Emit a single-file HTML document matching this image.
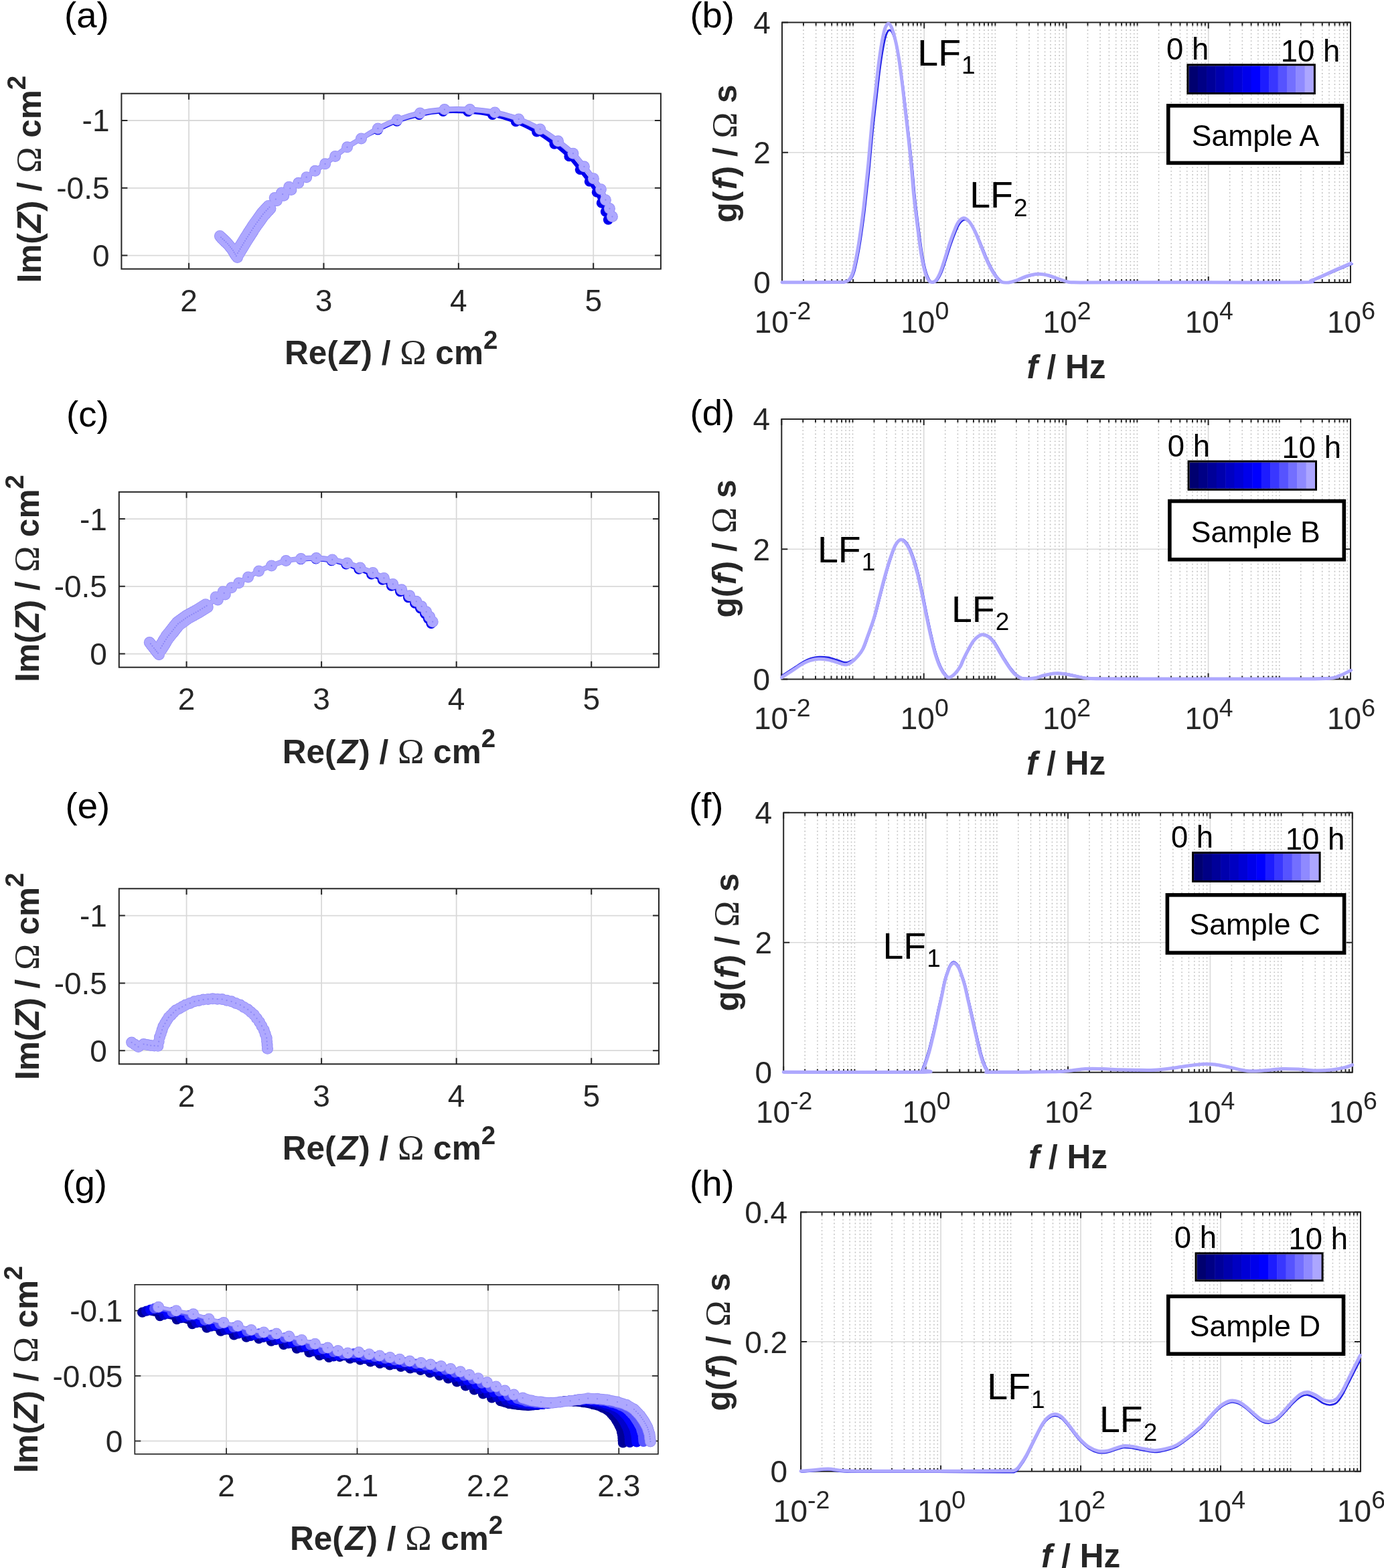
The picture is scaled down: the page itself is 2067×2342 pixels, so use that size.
<!DOCTYPE html><html><head><meta charset="utf-8"><title>Figure</title><style>html,body{margin:0;padding:0;background:#fff;}svg{display:block;}</style></head><body><svg width="2067" height="2342" viewBox="0 0 2067 2342" font-family="'Liberation Sans', Arial, sans-serif">
<defs><linearGradient id="cbgrad" x1="0" x2="1" y1="0" y2="0"><stop offset="0" stop-color="#00007a"/><stop offset="0.58" stop-color="#0000ff"/><stop offset="1" stop-color="#0000ff"/></linearGradient></defs>
<rect width="2067" height="2342" fill="#fff"/>
<defs><clipPath id="clipa"><rect x="177.4" y="135.7" width="813.5" height="270"/></clipPath><clipPath id="clipc"><rect x="173.8" y="730.8" width="814.2" height="269.9"/></clipPath><clipPath id="clipe"><rect x="173.8" y="1323.3" width="814.2" height="270"/></clipPath><clipPath id="clipg"><rect x="197.3" y="1914.8" width="789.6" height="261"/></clipPath><clipPath id="clipb"><rect x="1164" y="29.5" width="857" height="396.5"/></clipPath><clipPath id="clipd"><rect x="1163.3" y="622" width="857.7" height="396.5"/></clipPath><clipPath id="clipf"><rect x="1166.2" y="1209.8" width="857.6" height="395.9"/></clipPath><clipPath id="cliph"><rect x="1192.1" y="1806.4" width="843.9" height="395.3"/></clipPath></defs>
<line x1="282.09" y1="139.7" x2="282.09" y2="401.7" stroke="#d9d9d9" stroke-width="1.8"/>
<line x1="483.46" y1="139.7" x2="483.46" y2="401.7" stroke="#d9d9d9" stroke-width="1.8"/>
<line x1="684.84" y1="139.7" x2="684.84" y2="401.7" stroke="#d9d9d9" stroke-width="1.8"/>
<line x1="886.21" y1="139.7" x2="886.21" y2="401.7" stroke="#d9d9d9" stroke-width="1.8"/>
<line x1="181.4" y1="180.01" x2="986.9" y2="180.01" stroke="#d9d9d9" stroke-width="1.8"/>
<line x1="181.4" y1="280.78" x2="986.9" y2="280.78" stroke="#d9d9d9" stroke-width="1.8"/>
<line x1="181.4" y1="381.55" x2="986.9" y2="381.55" stroke="#d9d9d9" stroke-width="1.8"/>
<line x1="278.58" y1="734.8" x2="278.58" y2="996.7" stroke="#d9d9d9" stroke-width="1.8"/>
<line x1="480.13" y1="734.8" x2="480.13" y2="996.7" stroke="#d9d9d9" stroke-width="1.8"/>
<line x1="681.67" y1="734.8" x2="681.67" y2="996.7" stroke="#d9d9d9" stroke-width="1.8"/>
<line x1="883.23" y1="734.8" x2="883.23" y2="996.7" stroke="#d9d9d9" stroke-width="1.8"/>
<line x1="177.8" y1="775.09" x2="984" y2="775.09" stroke="#d9d9d9" stroke-width="1.8"/>
<line x1="177.8" y1="875.82" x2="984" y2="875.82" stroke="#d9d9d9" stroke-width="1.8"/>
<line x1="177.8" y1="976.55" x2="984" y2="976.55" stroke="#d9d9d9" stroke-width="1.8"/>
<line x1="278.58" y1="1327.3" x2="278.58" y2="1589.3" stroke="#d9d9d9" stroke-width="1.8"/>
<line x1="480.13" y1="1327.3" x2="480.13" y2="1589.3" stroke="#d9d9d9" stroke-width="1.8"/>
<line x1="681.67" y1="1327.3" x2="681.67" y2="1589.3" stroke="#d9d9d9" stroke-width="1.8"/>
<line x1="883.23" y1="1327.3" x2="883.23" y2="1589.3" stroke="#d9d9d9" stroke-width="1.8"/>
<line x1="177.8" y1="1367.61" x2="984" y2="1367.61" stroke="#d9d9d9" stroke-width="1.8"/>
<line x1="177.8" y1="1468.38" x2="984" y2="1468.38" stroke="#d9d9d9" stroke-width="1.8"/>
<line x1="177.8" y1="1569.15" x2="984" y2="1569.15" stroke="#d9d9d9" stroke-width="1.8"/>
<line x1="338.08" y1="1918.8" x2="338.08" y2="2171.8" stroke="#d9d9d9" stroke-width="1.8"/>
<line x1="533.48" y1="1918.8" x2="533.48" y2="2171.8" stroke="#d9d9d9" stroke-width="1.8"/>
<line x1="728.88" y1="1918.8" x2="728.88" y2="2171.8" stroke="#d9d9d9" stroke-width="1.8"/>
<line x1="924.28" y1="1918.8" x2="924.28" y2="2171.8" stroke="#d9d9d9" stroke-width="1.8"/>
<line x1="201.3" y1="1957.72" x2="982.9" y2="1957.72" stroke="#d9d9d9" stroke-width="1.8"/>
<line x1="201.3" y1="2055.03" x2="982.9" y2="2055.03" stroke="#d9d9d9" stroke-width="1.8"/>
<line x1="201.3" y1="2152.34" x2="982.9" y2="2152.34" stroke="#d9d9d9" stroke-width="1.8"/>
<path d="M1199.95 33.5V422M1218.63 33.5V422M1231.89 33.5V422M1242.18 33.5V422M1250.58 33.5V422M1257.69 33.5V422M1263.84 33.5V422M1269.27 33.5V422M1274.12 33.5V422M1306.07 33.5V422M1324.76 33.5V422M1338.02 33.5V422M1348.3 33.5V422M1356.71 33.5V422M1363.81 33.5V422M1369.97 33.5V422M1375.39 33.5V422M1412.2 33.5V422M1430.88 33.5V422M1444.14 33.5V422M1454.43 33.5V422M1462.83 33.5V422M1469.94 33.5V422M1476.09 33.5V422M1481.52 33.5V422M1486.38 33.5V422M1518.32 33.5V422M1537.01 33.5V422M1550.27 33.5V422M1560.55 33.5V422M1568.96 33.5V422M1576.06 33.5V422M1582.22 33.5V422M1587.64 33.5V422M1624.45 33.5V422M1643.13 33.5V422M1656.39 33.5V422M1666.68 33.5V422M1675.08 33.5V422M1682.19 33.5V422M1688.34 33.5V422M1693.77 33.5V422M1698.62 33.5V422M1730.57 33.5V422M1749.26 33.5V422M1762.52 33.5V422M1772.8 33.5V422M1781.21 33.5V422M1788.31 33.5V422M1794.47 33.5V422M1799.89 33.5V422M1836.7 33.5V422M1855.38 33.5V422M1868.64 33.5V422M1878.93 33.5V422M1887.33 33.5V422M1894.44 33.5V422M1900.59 33.5V422M1906.02 33.5V422M1910.88 33.5V422M1942.82 33.5V422M1961.51 33.5V422M1974.77 33.5V422M1985.05 33.5V422M1993.46 33.5V422M2000.56 33.5V422M2006.72 33.5V422M2012.14 33.5V422" stroke="#bdbdbd" stroke-width="1.6" stroke-dasharray="1.6 3.8" fill="none"/>
<path d="M1380.25 33.5V422M1592.5 33.5V422M1804.75 33.5V422M1168 227.75H2017" stroke="#d9d9d9" stroke-width="1.6" fill="none"/>
<path d="M1199.27 626V1014.5M1217.98 626V1014.5M1231.25 626V1014.5M1241.54 626V1014.5M1249.95 626V1014.5M1257.06 626V1014.5M1263.22 626V1014.5M1268.65 626V1014.5M1273.51 626V1014.5M1305.49 626V1014.5M1324.19 626V1014.5M1337.46 626V1014.5M1347.75 626V1014.5M1356.16 626V1014.5M1363.27 626V1014.5M1369.43 626V1014.5M1374.86 626V1014.5M1411.7 626V1014.5M1430.4 626V1014.5M1443.67 626V1014.5M1453.96 626V1014.5M1462.37 626V1014.5M1469.48 626V1014.5M1475.64 626V1014.5M1481.08 626V1014.5M1485.94 626V1014.5M1517.91 626V1014.5M1536.61 626V1014.5M1549.88 626V1014.5M1560.18 626V1014.5M1568.59 626V1014.5M1575.7 626V1014.5M1581.86 626V1014.5M1587.29 626V1014.5M1624.12 626V1014.5M1642.83 626V1014.5M1656.1 626V1014.5M1666.39 626V1014.5M1674.8 626V1014.5M1681.91 626V1014.5M1688.07 626V1014.5M1693.5 626V1014.5M1698.36 626V1014.5M1730.34 626V1014.5M1749.04 626V1014.5M1762.31 626V1014.5M1772.6 626V1014.5M1781.01 626V1014.5M1788.12 626V1014.5M1794.28 626V1014.5M1799.71 626V1014.5M1836.55 626V1014.5M1855.25 626V1014.5M1868.52 626V1014.5M1878.81 626V1014.5M1887.22 626V1014.5M1894.33 626V1014.5M1900.49 626V1014.5M1905.93 626V1014.5M1910.79 626V1014.5M1942.76 626V1014.5M1961.46 626V1014.5M1974.73 626V1014.5M1985.03 626V1014.5M1993.44 626V1014.5M2000.55 626V1014.5M2006.71 626V1014.5M2012.14 626V1014.5" stroke="#bdbdbd" stroke-width="1.6" stroke-dasharray="1.6 3.8" fill="none"/>
<path d="M1379.72 626V1014.5M1592.15 626V1014.5M1804.58 626V1014.5M1167.3 820.25H2017" stroke="#d9d9d9" stroke-width="1.6" fill="none"/>
<path d="M1202.17 1213.8V1601.7M1220.87 1213.8V1601.7M1234.14 1213.8V1601.7M1244.43 1213.8V1601.7M1252.84 1213.8V1601.7M1259.95 1213.8V1601.7M1266.11 1213.8V1601.7M1271.54 1213.8V1601.7M1276.4 1213.8V1601.7M1308.37 1213.8V1601.7M1327.07 1213.8V1601.7M1340.34 1213.8V1601.7M1350.63 1213.8V1601.7M1359.04 1213.8V1601.7M1366.15 1213.8V1601.7M1372.31 1213.8V1601.7M1377.74 1213.8V1601.7M1414.57 1213.8V1601.7M1433.27 1213.8V1601.7M1446.54 1213.8V1601.7M1456.83 1213.8V1601.7M1465.24 1213.8V1601.7M1472.35 1213.8V1601.7M1478.51 1213.8V1601.7M1483.94 1213.8V1601.7M1488.8 1213.8V1601.7M1520.77 1213.8V1601.7M1539.47 1213.8V1601.7M1552.74 1213.8V1601.7M1563.03 1213.8V1601.7M1571.44 1213.8V1601.7M1578.55 1213.8V1601.7M1584.71 1213.8V1601.7M1590.14 1213.8V1601.7M1626.97 1213.8V1601.7M1645.67 1213.8V1601.7M1658.94 1213.8V1601.7M1669.23 1213.8V1601.7M1677.64 1213.8V1601.7M1684.75 1213.8V1601.7M1690.91 1213.8V1601.7M1696.34 1213.8V1601.7M1701.2 1213.8V1601.7M1733.17 1213.8V1601.7M1751.87 1213.8V1601.7M1765.14 1213.8V1601.7M1775.43 1213.8V1601.7M1783.84 1213.8V1601.7M1790.95 1213.8V1601.7M1797.11 1213.8V1601.7M1802.54 1213.8V1601.7M1839.37 1213.8V1601.7M1858.07 1213.8V1601.7M1871.34 1213.8V1601.7M1881.63 1213.8V1601.7M1890.04 1213.8V1601.7M1897.15 1213.8V1601.7M1903.31 1213.8V1601.7M1908.74 1213.8V1601.7M1913.6 1213.8V1601.7M1945.57 1213.8V1601.7M1964.27 1213.8V1601.7M1977.54 1213.8V1601.7M1987.83 1213.8V1601.7M1996.24 1213.8V1601.7M2003.35 1213.8V1601.7M2009.51 1213.8V1601.7M2014.94 1213.8V1601.7" stroke="#bdbdbd" stroke-width="1.6" stroke-dasharray="1.6 3.8" fill="none"/>
<path d="M1382.6 1213.8V1601.7M1595 1213.8V1601.7M1807.4 1213.8V1601.7M1170.2 1407.75H2019.8" stroke="#d9d9d9" stroke-width="1.6" fill="none"/>
<path d="M1227.55 1810.4V2197.7M1245.95 1810.4V2197.7M1259.01 1810.4V2197.7M1269.13 1810.4V2197.7M1277.41 1810.4V2197.7M1284.4 1810.4V2197.7M1290.46 1810.4V2197.7M1295.81 1810.4V2197.7M1300.59 1810.4V2197.7M1332.04 1810.4V2197.7M1350.44 1810.4V2197.7M1363.5 1810.4V2197.7M1373.62 1810.4V2197.7M1381.89 1810.4V2197.7M1388.89 1810.4V2197.7M1394.95 1810.4V2197.7M1400.29 1810.4V2197.7M1436.53 1810.4V2197.7M1454.93 1810.4V2197.7M1467.98 1810.4V2197.7M1478.11 1810.4V2197.7M1486.38 1810.4V2197.7M1493.38 1810.4V2197.7M1499.44 1810.4V2197.7M1504.78 1810.4V2197.7M1509.56 1810.4V2197.7M1541.02 1810.4V2197.7M1559.42 1810.4V2197.7M1572.47 1810.4V2197.7M1582.6 1810.4V2197.7M1590.87 1810.4V2197.7M1597.86 1810.4V2197.7M1603.92 1810.4V2197.7M1609.27 1810.4V2197.7M1645.5 1810.4V2197.7M1663.9 1810.4V2197.7M1676.96 1810.4V2197.7M1687.08 1810.4V2197.7M1695.36 1810.4V2197.7M1702.35 1810.4V2197.7M1708.41 1810.4V2197.7M1713.76 1810.4V2197.7M1718.54 1810.4V2197.7M1749.99 1810.4V2197.7M1768.39 1810.4V2197.7M1781.45 1810.4V2197.7M1791.57 1810.4V2197.7M1799.84 1810.4V2197.7M1806.84 1810.4V2197.7M1812.9 1810.4V2197.7M1818.24 1810.4V2197.7M1854.48 1810.4V2197.7M1872.88 1810.4V2197.7M1885.93 1810.4V2197.7M1896.06 1810.4V2197.7M1904.33 1810.4V2197.7M1911.33 1810.4V2197.7M1917.39 1810.4V2197.7M1922.73 1810.4V2197.7M1927.51 1810.4V2197.7M1958.97 1810.4V2197.7M1977.37 1810.4V2197.7M1990.42 1810.4V2197.7M2000.55 1810.4V2197.7M2008.82 1810.4V2197.7M2015.81 1810.4V2197.7M2021.87 1810.4V2197.7M2027.22 1810.4V2197.7" stroke="#bdbdbd" stroke-width="1.6" stroke-dasharray="1.6 3.8" fill="none"/>
<path d="M1405.07 1810.4V2197.7M1614.05 1810.4V2197.7M1823.03 1810.4V2197.7M1196.1 2004.05H2032" stroke="#d9d9d9" stroke-width="1.6" fill="none"/>
<path d="M282.09 401.7v-9M282.09 139.7v9M483.46 401.7v-9M483.46 139.7v9M684.84 401.7v-9M684.84 139.7v9M886.21 401.7v-9M886.21 139.7v9M181.4 180.01h9M986.9 180.01h-9M181.4 280.78h9M986.9 280.78h-9M181.4 381.55h9M986.9 381.55h-9" stroke="#262626" stroke-width="2.0" fill="none"/>
<rect x="181.4" y="139.7" width="805.5" height="262" fill="none" stroke="#262626" stroke-width="2.0"/>
<text x="282.09" y="465" font-size="46" text-anchor="middle" font-weight="normal" fill="#262626" >2</text>
<text x="483.46" y="465" font-size="46" text-anchor="middle" font-weight="normal" fill="#262626" >3</text>
<text x="684.84" y="465" font-size="46" text-anchor="middle" font-weight="normal" fill="#262626" >4</text>
<text x="886.21" y="465" font-size="46" text-anchor="middle" font-weight="normal" fill="#262626" >5</text>
<text x="163.5" y="196.48" font-size="46" text-anchor="end" font-weight="normal" fill="#262626" >-1</text>
<text x="163.5" y="297.24" font-size="46" text-anchor="end" font-weight="normal" fill="#262626" >-0.5</text>
<text x="163.5" y="398.01" font-size="46" text-anchor="end" font-weight="normal" fill="#262626" >0</text>
<text x="584.15" y="544" font-size="49.5" text-anchor="middle" font-weight="bold" fill="#262626" >Re(<tspan font-style="italic" dx="2.5">Z</tspan><tspan dx="2">)</tspan> / <tspan font-family="'Liberation Serif', 'Times New Roman', serif" font-weight="normal" font-size="53">&#937;</tspan> cm<tspan font-size="38.5" dy="-23.3">2</tspan></text>
<text transform="translate(60.8,267.7) rotate(-90)" x="0" y="0" font-size="49.5" text-anchor="middle" font-weight="bold" fill="#262626">Im(<tspan font-style="italic" dx="1">Z</tspan><tspan dx="1">)</tspan> / <tspan font-family="'Liberation Serif', 'Times New Roman', serif" font-weight="normal" font-size="52">&#937;</tspan> cm<tspan font-size="38.5" dy="-23.3">2</tspan></text>
<text x="96" y="40.9" font-size="54.5" text-anchor="start" font-weight="normal" fill="#000" >(a)</text>
<path d="M278.58 996.7v-9M278.58 734.8v9M480.13 996.7v-9M480.13 734.8v9M681.67 996.7v-9M681.67 734.8v9M883.23 996.7v-9M883.23 734.8v9M177.8 775.09h9M984 775.09h-9M177.8 875.82h9M984 875.82h-9M177.8 976.55h9M984 976.55h-9" stroke="#262626" stroke-width="2.0" fill="none"/>
<rect x="177.8" y="734.8" width="806.2" height="261.9" fill="none" stroke="#262626" stroke-width="2.0"/>
<text x="278.58" y="1060" font-size="46" text-anchor="middle" font-weight="normal" fill="#262626" >2</text>
<text x="480.13" y="1060" font-size="46" text-anchor="middle" font-weight="normal" fill="#262626" >3</text>
<text x="681.67" y="1060" font-size="46" text-anchor="middle" font-weight="normal" fill="#262626" >4</text>
<text x="883.23" y="1060" font-size="46" text-anchor="middle" font-weight="normal" fill="#262626" >5</text>
<text x="159.9" y="791.56" font-size="46" text-anchor="end" font-weight="normal" fill="#262626" >-1</text>
<text x="159.9" y="892.29" font-size="46" text-anchor="end" font-weight="normal" fill="#262626" >-0.5</text>
<text x="159.9" y="993.02" font-size="46" text-anchor="end" font-weight="normal" fill="#262626" >0</text>
<text x="580.9" y="1139.5" font-size="49.5" text-anchor="middle" font-weight="bold" fill="#262626" >Re(<tspan font-style="italic" dx="2.5">Z</tspan><tspan dx="2">)</tspan> / <tspan font-family="'Liberation Serif', 'Times New Roman', serif" font-weight="normal" font-size="53">&#937;</tspan> cm<tspan font-size="38.5" dy="-23.3">2</tspan></text>
<text transform="translate(58,864) rotate(-90)" x="0" y="0" font-size="49.5" text-anchor="middle" font-weight="bold" fill="#262626">Im(<tspan font-style="italic" dx="1">Z</tspan><tspan dx="1">)</tspan> / <tspan font-family="'Liberation Serif', 'Times New Roman', serif" font-weight="normal" font-size="52">&#937;</tspan> cm<tspan font-size="38.5" dy="-23.3">2</tspan></text>
<text x="99" y="637.2" font-size="54.5" text-anchor="start" font-weight="normal" fill="#000" >(c)</text>
<path d="M278.58 1589.3v-9M278.58 1327.3v9M480.13 1589.3v-9M480.13 1327.3v9M681.67 1589.3v-9M681.67 1327.3v9M883.23 1589.3v-9M883.23 1327.3v9M177.8 1367.61h9M984 1367.61h-9M177.8 1468.38h9M984 1468.38h-9M177.8 1569.15h9M984 1569.15h-9" stroke="#262626" stroke-width="2.0" fill="none"/>
<rect x="177.8" y="1327.3" width="806.2" height="262" fill="none" stroke="#262626" stroke-width="2.0"/>
<text x="278.58" y="1652.6" font-size="46" text-anchor="middle" font-weight="normal" fill="#262626" >2</text>
<text x="480.13" y="1652.6" font-size="46" text-anchor="middle" font-weight="normal" fill="#262626" >3</text>
<text x="681.67" y="1652.6" font-size="46" text-anchor="middle" font-weight="normal" fill="#262626" >4</text>
<text x="883.23" y="1652.6" font-size="46" text-anchor="middle" font-weight="normal" fill="#262626" >5</text>
<text x="159.9" y="1384.08" font-size="46" text-anchor="end" font-weight="normal" fill="#262626" >-1</text>
<text x="159.9" y="1484.84" font-size="46" text-anchor="end" font-weight="normal" fill="#262626" >-0.5</text>
<text x="159.9" y="1585.61" font-size="46" text-anchor="end" font-weight="normal" fill="#262626" >0</text>
<text x="580.9" y="1732.1" font-size="49.5" text-anchor="middle" font-weight="bold" fill="#262626" >Re(<tspan font-style="italic" dx="2.5">Z</tspan><tspan dx="2">)</tspan> / <tspan font-family="'Liberation Serif', 'Times New Roman', serif" font-weight="normal" font-size="53">&#937;</tspan> cm<tspan font-size="38.5" dy="-23.3">2</tspan></text>
<text transform="translate(58,1458.3) rotate(-90)" x="0" y="0" font-size="49.5" text-anchor="middle" font-weight="bold" fill="#262626">Im(<tspan font-style="italic" dx="1">Z</tspan><tspan dx="1">)</tspan> / <tspan font-family="'Liberation Serif', 'Times New Roman', serif" font-weight="normal" font-size="52">&#937;</tspan> cm<tspan font-size="38.5" dy="-23.3">2</tspan></text>
<text x="97.6" y="1222.2" font-size="54.5" text-anchor="start" font-weight="normal" fill="#000" >(e)</text>
<path d="M338.08 2171.8v-9M338.08 1918.8v9M533.48 2171.8v-9M533.48 1918.8v9M728.88 2171.8v-9M728.88 1918.8v9M924.28 2171.8v-9M924.28 1918.8v9M201.3 1957.72h9M982.9 1957.72h-9M201.3 2055.03h9M982.9 2055.03h-9M201.3 2152.34h9M982.9 2152.34h-9" stroke="#262626" stroke-width="1.7" fill="none"/>
<rect x="201.3" y="1918.8" width="781.6" height="253" fill="none" stroke="#262626" stroke-width="1.7"/>
<text x="338.08" y="2235.1" font-size="46" text-anchor="middle" font-weight="normal" fill="#262626" >2</text>
<text x="533.48" y="2235.1" font-size="46" text-anchor="middle" font-weight="normal" fill="#262626" >2.1</text>
<text x="728.88" y="2235.1" font-size="46" text-anchor="middle" font-weight="normal" fill="#262626" >2.2</text>
<text x="924.28" y="2235.1" font-size="46" text-anchor="middle" font-weight="normal" fill="#262626" >2.3</text>
<text x="183.4" y="1974.19" font-size="46" text-anchor="end" font-weight="normal" fill="#262626" >-0.1</text>
<text x="183.4" y="2071.5" font-size="46" text-anchor="end" font-weight="normal" fill="#262626" >-0.05</text>
<text x="183.4" y="2168.81" font-size="46" text-anchor="end" font-weight="normal" fill="#262626" >0</text>
<text x="592.1" y="2314.6" font-size="49.5" text-anchor="middle" font-weight="bold" fill="#262626" >Re(<tspan font-style="italic" dx="2.5">Z</tspan><tspan dx="2">)</tspan> / <tspan font-family="'Liberation Serif', 'Times New Roman', serif" font-weight="normal" font-size="53">&#937;</tspan> cm<tspan font-size="38.5" dy="-23.3">2</tspan></text>
<text transform="translate(56.3,2045.3) rotate(-90)" x="0" y="0" font-size="49.5" text-anchor="middle" font-weight="bold" fill="#262626">Im(<tspan font-style="italic" dx="1">Z</tspan><tspan dx="1">)</tspan> / <tspan font-family="'Liberation Serif', 'Times New Roman', serif" font-weight="normal" font-size="52">&#937;</tspan> cm<tspan font-size="38.5" dy="-23.3">2</tspan></text>
<text x="93.3" y="1785.5" font-size="54.5" text-anchor="start" font-weight="normal" fill="#000" >(g)</text>
<path d="M1168 422v-9M1168 33.5v9M1199.95 422v-5M1199.95 33.5v5M1218.63 422v-5M1218.63 33.5v5M1231.89 422v-5M1231.89 33.5v5M1242.18 422v-5M1242.18 33.5v5M1250.58 422v-5M1250.58 33.5v5M1257.69 422v-5M1257.69 33.5v5M1263.84 422v-5M1263.84 33.5v5M1269.27 422v-5M1269.27 33.5v5M1274.12 422v-5M1274.12 33.5v5M1306.07 422v-5M1306.07 33.5v5M1324.76 422v-5M1324.76 33.5v5M1338.02 422v-5M1338.02 33.5v5M1348.3 422v-5M1348.3 33.5v5M1356.71 422v-5M1356.71 33.5v5M1363.81 422v-5M1363.81 33.5v5M1369.97 422v-5M1369.97 33.5v5M1375.39 422v-5M1375.39 33.5v5M1380.25 422v-9M1380.25 33.5v9M1412.2 422v-5M1412.2 33.5v5M1430.88 422v-5M1430.88 33.5v5M1444.14 422v-5M1444.14 33.5v5M1454.43 422v-5M1454.43 33.5v5M1462.83 422v-5M1462.83 33.5v5M1469.94 422v-5M1469.94 33.5v5M1476.09 422v-5M1476.09 33.5v5M1481.52 422v-5M1481.52 33.5v5M1486.38 422v-5M1486.38 33.5v5M1518.32 422v-5M1518.32 33.5v5M1537.01 422v-5M1537.01 33.5v5M1550.27 422v-5M1550.27 33.5v5M1560.55 422v-5M1560.55 33.5v5M1568.96 422v-5M1568.96 33.5v5M1576.06 422v-5M1576.06 33.5v5M1582.22 422v-5M1582.22 33.5v5M1587.64 422v-5M1587.64 33.5v5M1592.5 422v-9M1592.5 33.5v9M1624.45 422v-5M1624.45 33.5v5M1643.13 422v-5M1643.13 33.5v5M1656.39 422v-5M1656.39 33.5v5M1666.68 422v-5M1666.68 33.5v5M1675.08 422v-5M1675.08 33.5v5M1682.19 422v-5M1682.19 33.5v5M1688.34 422v-5M1688.34 33.5v5M1693.77 422v-5M1693.77 33.5v5M1698.62 422v-5M1698.62 33.5v5M1730.57 422v-5M1730.57 33.5v5M1749.26 422v-5M1749.26 33.5v5M1762.52 422v-5M1762.52 33.5v5M1772.8 422v-5M1772.8 33.5v5M1781.21 422v-5M1781.21 33.5v5M1788.31 422v-5M1788.31 33.5v5M1794.47 422v-5M1794.47 33.5v5M1799.89 422v-5M1799.89 33.5v5M1804.75 422v-9M1804.75 33.5v9M1836.7 422v-5M1836.7 33.5v5M1855.38 422v-5M1855.38 33.5v5M1868.64 422v-5M1868.64 33.5v5M1878.93 422v-5M1878.93 33.5v5M1887.33 422v-5M1887.33 33.5v5M1894.44 422v-5M1894.44 33.5v5M1900.59 422v-5M1900.59 33.5v5M1906.02 422v-5M1906.02 33.5v5M1910.88 422v-5M1910.88 33.5v5M1942.82 422v-5M1942.82 33.5v5M1961.51 422v-5M1961.51 33.5v5M1974.77 422v-5M1974.77 33.5v5M1985.05 422v-5M1985.05 33.5v5M1993.46 422v-5M1993.46 33.5v5M2000.56 422v-5M2000.56 33.5v5M2006.72 422v-5M2006.72 33.5v5M2012.14 422v-5M2012.14 33.5v5M2017 422v-9M2017 33.5v9M1168 422h9M2017 422h-9M1168 227.75h9M2017 227.75h-9M1168 33.5h9M2017 33.5h-9" stroke="#262626" stroke-width="2.0" fill="none"/>
<rect x="1168" y="33.5" width="849" height="388.5" fill="none" stroke="#262626" stroke-width="2.0"/>
<text x="1169" y="496.8" font-size="46" text-anchor="middle" font-weight="normal" fill="#262626" >10<tspan font-size="37.5" dy="-19.8">-2</tspan></text>
<text x="1381.25" y="496.8" font-size="46" text-anchor="middle" font-weight="normal" fill="#262626" >10<tspan font-size="37.5" dy="-19.8">0</tspan></text>
<text x="1593.5" y="496.8" font-size="46" text-anchor="middle" font-weight="normal" fill="#262626" >10<tspan font-size="37.5" dy="-19.8">2</tspan></text>
<text x="1805.75" y="496.8" font-size="46" text-anchor="middle" font-weight="normal" fill="#262626" >10<tspan font-size="37.5" dy="-19.8">4</tspan></text>
<text x="2018" y="496.8" font-size="46" text-anchor="middle" font-weight="normal" fill="#262626" >10<tspan font-size="37.5" dy="-19.8">6</tspan></text>
<text x="1150.9" y="438.47" font-size="46" text-anchor="end" font-weight="normal" fill="#262626" >0</text>
<text x="1150.9" y="244.22" font-size="46" text-anchor="end" font-weight="normal" fill="#262626" >2</text>
<text x="1150.9" y="49.97" font-size="46" text-anchor="end" font-weight="normal" fill="#262626" >4</text>
<text x="1592.5" y="564.9" font-size="49.5" text-anchor="middle" font-weight="bold" fill="#262626" ><tspan font-style="italic">f</tspan> / Hz</text>
<text transform="translate(1100,229.5) rotate(-90)" x="0" y="0" font-size="49.5" text-anchor="middle" font-weight="bold" fill="#262626">g(<tspan font-style="italic" dx="2.5">f</tspan><tspan dx="2.5">)</tspan> / <tspan font-family="'Liberation Serif', 'Times New Roman', serif" font-weight="normal" font-size="52">&#937;</tspan> s</text>
<text x="1030.4" y="41.2" font-size="54.5" text-anchor="start" font-weight="normal" fill="#000" >(b)</text>
<path d="M1167.3 1014.5v-9M1167.3 626v9M1199.27 1014.5v-5M1199.27 626v5M1217.98 1014.5v-5M1217.98 626v5M1231.25 1014.5v-5M1231.25 626v5M1241.54 1014.5v-5M1241.54 626v5M1249.95 1014.5v-5M1249.95 626v5M1257.06 1014.5v-5M1257.06 626v5M1263.22 1014.5v-5M1263.22 626v5M1268.65 1014.5v-5M1268.65 626v5M1273.51 1014.5v-5M1273.51 626v5M1305.49 1014.5v-5M1305.49 626v5M1324.19 1014.5v-5M1324.19 626v5M1337.46 1014.5v-5M1337.46 626v5M1347.75 1014.5v-5M1347.75 626v5M1356.16 1014.5v-5M1356.16 626v5M1363.27 1014.5v-5M1363.27 626v5M1369.43 1014.5v-5M1369.43 626v5M1374.86 1014.5v-5M1374.86 626v5M1379.72 1014.5v-9M1379.72 626v9M1411.7 1014.5v-5M1411.7 626v5M1430.4 1014.5v-5M1430.4 626v5M1443.67 1014.5v-5M1443.67 626v5M1453.96 1014.5v-5M1453.96 626v5M1462.37 1014.5v-5M1462.37 626v5M1469.48 1014.5v-5M1469.48 626v5M1475.64 1014.5v-5M1475.64 626v5M1481.08 1014.5v-5M1481.08 626v5M1485.94 1014.5v-5M1485.94 626v5M1517.91 1014.5v-5M1517.91 626v5M1536.61 1014.5v-5M1536.61 626v5M1549.88 1014.5v-5M1549.88 626v5M1560.18 1014.5v-5M1560.18 626v5M1568.59 1014.5v-5M1568.59 626v5M1575.7 1014.5v-5M1575.7 626v5M1581.86 1014.5v-5M1581.86 626v5M1587.29 1014.5v-5M1587.29 626v5M1592.15 1014.5v-9M1592.15 626v9M1624.12 1014.5v-5M1624.12 626v5M1642.83 1014.5v-5M1642.83 626v5M1656.1 1014.5v-5M1656.1 626v5M1666.39 1014.5v-5M1666.39 626v5M1674.8 1014.5v-5M1674.8 626v5M1681.91 1014.5v-5M1681.91 626v5M1688.07 1014.5v-5M1688.07 626v5M1693.5 1014.5v-5M1693.5 626v5M1698.36 1014.5v-5M1698.36 626v5M1730.34 1014.5v-5M1730.34 626v5M1749.04 1014.5v-5M1749.04 626v5M1762.31 1014.5v-5M1762.31 626v5M1772.6 1014.5v-5M1772.6 626v5M1781.01 1014.5v-5M1781.01 626v5M1788.12 1014.5v-5M1788.12 626v5M1794.28 1014.5v-5M1794.28 626v5M1799.71 1014.5v-5M1799.71 626v5M1804.58 1014.5v-9M1804.58 626v9M1836.55 1014.5v-5M1836.55 626v5M1855.25 1014.5v-5M1855.25 626v5M1868.52 1014.5v-5M1868.52 626v5M1878.81 1014.5v-5M1878.81 626v5M1887.22 1014.5v-5M1887.22 626v5M1894.33 1014.5v-5M1894.33 626v5M1900.49 1014.5v-5M1900.49 626v5M1905.93 1014.5v-5M1905.93 626v5M1910.79 1014.5v-5M1910.79 626v5M1942.76 1014.5v-5M1942.76 626v5M1961.46 1014.5v-5M1961.46 626v5M1974.73 1014.5v-5M1974.73 626v5M1985.03 1014.5v-5M1985.03 626v5M1993.44 1014.5v-5M1993.44 626v5M2000.55 1014.5v-5M2000.55 626v5M2006.71 1014.5v-5M2006.71 626v5M2012.14 1014.5v-5M2012.14 626v5M2017 1014.5v-9M2017 626v9M1167.3 1014.5h9M2017 1014.5h-9M1167.3 820.25h9M2017 820.25h-9M1167.3 626h9M2017 626h-9" stroke="#262626" stroke-width="2.0" fill="none"/>
<rect x="1167.3" y="626" width="849.7" height="388.5" fill="none" stroke="#262626" stroke-width="2.0"/>
<text x="1168.3" y="1089.3" font-size="46" text-anchor="middle" font-weight="normal" fill="#262626" >10<tspan font-size="37.5" dy="-19.8">-2</tspan></text>
<text x="1380.72" y="1089.3" font-size="46" text-anchor="middle" font-weight="normal" fill="#262626" >10<tspan font-size="37.5" dy="-19.8">0</tspan></text>
<text x="1593.15" y="1089.3" font-size="46" text-anchor="middle" font-weight="normal" fill="#262626" >10<tspan font-size="37.5" dy="-19.8">2</tspan></text>
<text x="1805.58" y="1089.3" font-size="46" text-anchor="middle" font-weight="normal" fill="#262626" >10<tspan font-size="37.5" dy="-19.8">4</tspan></text>
<text x="2018" y="1089.3" font-size="46" text-anchor="middle" font-weight="normal" fill="#262626" >10<tspan font-size="37.5" dy="-19.8">6</tspan></text>
<text x="1150.2" y="1030.97" font-size="46" text-anchor="end" font-weight="normal" fill="#262626" >0</text>
<text x="1150.2" y="836.72" font-size="46" text-anchor="end" font-weight="normal" fill="#262626" >2</text>
<text x="1150.2" y="642.47" font-size="46" text-anchor="end" font-weight="normal" fill="#262626" >4</text>
<text x="1592.15" y="1157.4" font-size="49.5" text-anchor="middle" font-weight="bold" fill="#262626" ><tspan font-style="italic">f</tspan> / Hz</text>
<text transform="translate(1099,819.5) rotate(-90)" x="0" y="0" font-size="49.5" text-anchor="middle" font-weight="bold" fill="#262626">g(<tspan font-style="italic" dx="2.5">f</tspan><tspan dx="2.5">)</tspan> / <tspan font-family="'Liberation Serif', 'Times New Roman', serif" font-weight="normal" font-size="52">&#937;</tspan> s</text>
<text x="1030.6" y="635.2" font-size="54.5" text-anchor="start" font-weight="normal" fill="#000" >(d)</text>
<path d="M1170.2 1601.7v-9M1170.2 1213.8v9M1202.17 1601.7v-5M1202.17 1213.8v5M1220.87 1601.7v-5M1220.87 1213.8v5M1234.14 1601.7v-5M1234.14 1213.8v5M1244.43 1601.7v-5M1244.43 1213.8v5M1252.84 1601.7v-5M1252.84 1213.8v5M1259.95 1601.7v-5M1259.95 1213.8v5M1266.11 1601.7v-5M1266.11 1213.8v5M1271.54 1601.7v-5M1271.54 1213.8v5M1276.4 1601.7v-5M1276.4 1213.8v5M1308.37 1601.7v-5M1308.37 1213.8v5M1327.07 1601.7v-5M1327.07 1213.8v5M1340.34 1601.7v-5M1340.34 1213.8v5M1350.63 1601.7v-5M1350.63 1213.8v5M1359.04 1601.7v-5M1359.04 1213.8v5M1366.15 1601.7v-5M1366.15 1213.8v5M1372.31 1601.7v-5M1372.31 1213.8v5M1377.74 1601.7v-5M1377.74 1213.8v5M1382.6 1601.7v-9M1382.6 1213.8v9M1414.57 1601.7v-5M1414.57 1213.8v5M1433.27 1601.7v-5M1433.27 1213.8v5M1446.54 1601.7v-5M1446.54 1213.8v5M1456.83 1601.7v-5M1456.83 1213.8v5M1465.24 1601.7v-5M1465.24 1213.8v5M1472.35 1601.7v-5M1472.35 1213.8v5M1478.51 1601.7v-5M1478.51 1213.8v5M1483.94 1601.7v-5M1483.94 1213.8v5M1488.8 1601.7v-5M1488.8 1213.8v5M1520.77 1601.7v-5M1520.77 1213.8v5M1539.47 1601.7v-5M1539.47 1213.8v5M1552.74 1601.7v-5M1552.74 1213.8v5M1563.03 1601.7v-5M1563.03 1213.8v5M1571.44 1601.7v-5M1571.44 1213.8v5M1578.55 1601.7v-5M1578.55 1213.8v5M1584.71 1601.7v-5M1584.71 1213.8v5M1590.14 1601.7v-5M1590.14 1213.8v5M1595 1601.7v-9M1595 1213.8v9M1626.97 1601.7v-5M1626.97 1213.8v5M1645.67 1601.7v-5M1645.67 1213.8v5M1658.94 1601.7v-5M1658.94 1213.8v5M1669.23 1601.7v-5M1669.23 1213.8v5M1677.64 1601.7v-5M1677.64 1213.8v5M1684.75 1601.7v-5M1684.75 1213.8v5M1690.91 1601.7v-5M1690.91 1213.8v5M1696.34 1601.7v-5M1696.34 1213.8v5M1701.2 1601.7v-5M1701.2 1213.8v5M1733.17 1601.7v-5M1733.17 1213.8v5M1751.87 1601.7v-5M1751.87 1213.8v5M1765.14 1601.7v-5M1765.14 1213.8v5M1775.43 1601.7v-5M1775.43 1213.8v5M1783.84 1601.7v-5M1783.84 1213.8v5M1790.95 1601.7v-5M1790.95 1213.8v5M1797.11 1601.7v-5M1797.11 1213.8v5M1802.54 1601.7v-5M1802.54 1213.8v5M1807.4 1601.7v-9M1807.4 1213.8v9M1839.37 1601.7v-5M1839.37 1213.8v5M1858.07 1601.7v-5M1858.07 1213.8v5M1871.34 1601.7v-5M1871.34 1213.8v5M1881.63 1601.7v-5M1881.63 1213.8v5M1890.04 1601.7v-5M1890.04 1213.8v5M1897.15 1601.7v-5M1897.15 1213.8v5M1903.31 1601.7v-5M1903.31 1213.8v5M1908.74 1601.7v-5M1908.74 1213.8v5M1913.6 1601.7v-5M1913.6 1213.8v5M1945.57 1601.7v-5M1945.57 1213.8v5M1964.27 1601.7v-5M1964.27 1213.8v5M1977.54 1601.7v-5M1977.54 1213.8v5M1987.83 1601.7v-5M1987.83 1213.8v5M1996.24 1601.7v-5M1996.24 1213.8v5M2003.35 1601.7v-5M2003.35 1213.8v5M2009.51 1601.7v-5M2009.51 1213.8v5M2014.94 1601.7v-5M2014.94 1213.8v5M2019.8 1601.7v-9M2019.8 1213.8v9M1170.2 1601.7h9M2019.8 1601.7h-9M1170.2 1407.75h9M2019.8 1407.75h-9M1170.2 1213.8h9M2019.8 1213.8h-9" stroke="#262626" stroke-width="2.0" fill="none"/>
<rect x="1170.2" y="1213.8" width="849.6" height="387.9" fill="none" stroke="#262626" stroke-width="2.0"/>
<text x="1171.2" y="1676.5" font-size="46" text-anchor="middle" font-weight="normal" fill="#262626" >10<tspan font-size="37.5" dy="-19.8">-2</tspan></text>
<text x="1383.6" y="1676.5" font-size="46" text-anchor="middle" font-weight="normal" fill="#262626" >10<tspan font-size="37.5" dy="-19.8">0</tspan></text>
<text x="1596" y="1676.5" font-size="46" text-anchor="middle" font-weight="normal" fill="#262626" >10<tspan font-size="37.5" dy="-19.8">2</tspan></text>
<text x="1808.4" y="1676.5" font-size="46" text-anchor="middle" font-weight="normal" fill="#262626" >10<tspan font-size="37.5" dy="-19.8">4</tspan></text>
<text x="2020.8" y="1676.5" font-size="46" text-anchor="middle" font-weight="normal" fill="#262626" >10<tspan font-size="37.5" dy="-19.8">6</tspan></text>
<text x="1153.1" y="1618.17" font-size="46" text-anchor="end" font-weight="normal" fill="#262626" >0</text>
<text x="1153.1" y="1424.22" font-size="46" text-anchor="end" font-weight="normal" fill="#262626" >2</text>
<text x="1153.1" y="1230.27" font-size="46" text-anchor="end" font-weight="normal" fill="#262626" >4</text>
<text x="1595" y="1744.6" font-size="49.5" text-anchor="middle" font-weight="bold" fill="#262626" ><tspan font-style="italic">f</tspan> / Hz</text>
<text transform="translate(1102.5,1407.5) rotate(-90)" x="0" y="0" font-size="49.5" text-anchor="middle" font-weight="bold" fill="#262626">g(<tspan font-style="italic" dx="2.5">f</tspan><tspan dx="2.5">)</tspan> / <tspan font-family="'Liberation Serif', 'Times New Roman', serif" font-weight="normal" font-size="52">&#937;</tspan> s</text>
<text x="1029" y="1221.9" font-size="54.5" text-anchor="start" font-weight="normal" fill="#000" >(f)</text>
<path d="M1196.1 2197.7v-9M1196.1 1810.4v9M1227.55 2197.7v-5M1227.55 1810.4v5M1245.95 2197.7v-5M1245.95 1810.4v5M1259.01 2197.7v-5M1259.01 1810.4v5M1269.13 2197.7v-5M1269.13 1810.4v5M1277.41 2197.7v-5M1277.41 1810.4v5M1284.4 2197.7v-5M1284.4 1810.4v5M1290.46 2197.7v-5M1290.46 1810.4v5M1295.81 2197.7v-5M1295.81 1810.4v5M1300.59 2197.7v-5M1300.59 1810.4v5M1332.04 2197.7v-5M1332.04 1810.4v5M1350.44 2197.7v-5M1350.44 1810.4v5M1363.5 2197.7v-5M1363.5 1810.4v5M1373.62 2197.7v-5M1373.62 1810.4v5M1381.89 2197.7v-5M1381.89 1810.4v5M1388.89 2197.7v-5M1388.89 1810.4v5M1394.95 2197.7v-5M1394.95 1810.4v5M1400.29 2197.7v-5M1400.29 1810.4v5M1405.07 2197.7v-9M1405.07 1810.4v9M1436.53 2197.7v-5M1436.53 1810.4v5M1454.93 2197.7v-5M1454.93 1810.4v5M1467.98 2197.7v-5M1467.98 1810.4v5M1478.11 2197.7v-5M1478.11 1810.4v5M1486.38 2197.7v-5M1486.38 1810.4v5M1493.38 2197.7v-5M1493.38 1810.4v5M1499.44 2197.7v-5M1499.44 1810.4v5M1504.78 2197.7v-5M1504.78 1810.4v5M1509.56 2197.7v-5M1509.56 1810.4v5M1541.02 2197.7v-5M1541.02 1810.4v5M1559.42 2197.7v-5M1559.42 1810.4v5M1572.47 2197.7v-5M1572.47 1810.4v5M1582.6 2197.7v-5M1582.6 1810.4v5M1590.87 2197.7v-5M1590.87 1810.4v5M1597.86 2197.7v-5M1597.86 1810.4v5M1603.92 2197.7v-5M1603.92 1810.4v5M1609.27 2197.7v-5M1609.27 1810.4v5M1614.05 2197.7v-9M1614.05 1810.4v9M1645.5 2197.7v-5M1645.5 1810.4v5M1663.9 2197.7v-5M1663.9 1810.4v5M1676.96 2197.7v-5M1676.96 1810.4v5M1687.08 2197.7v-5M1687.08 1810.4v5M1695.36 2197.7v-5M1695.36 1810.4v5M1702.35 2197.7v-5M1702.35 1810.4v5M1708.41 2197.7v-5M1708.41 1810.4v5M1713.76 2197.7v-5M1713.76 1810.4v5M1718.54 2197.7v-5M1718.54 1810.4v5M1749.99 2197.7v-5M1749.99 1810.4v5M1768.39 2197.7v-5M1768.39 1810.4v5M1781.45 2197.7v-5M1781.45 1810.4v5M1791.57 2197.7v-5M1791.57 1810.4v5M1799.84 2197.7v-5M1799.84 1810.4v5M1806.84 2197.7v-5M1806.84 1810.4v5M1812.9 2197.7v-5M1812.9 1810.4v5M1818.24 2197.7v-5M1818.24 1810.4v5M1823.03 2197.7v-9M1823.03 1810.4v9M1854.48 2197.7v-5M1854.48 1810.4v5M1872.88 2197.7v-5M1872.88 1810.4v5M1885.93 2197.7v-5M1885.93 1810.4v5M1896.06 2197.7v-5M1896.06 1810.4v5M1904.33 2197.7v-5M1904.33 1810.4v5M1911.33 2197.7v-5M1911.33 1810.4v5M1917.39 2197.7v-5M1917.39 1810.4v5M1922.73 2197.7v-5M1922.73 1810.4v5M1927.51 2197.7v-5M1927.51 1810.4v5M1958.97 2197.7v-5M1958.97 1810.4v5M1977.37 2197.7v-5M1977.37 1810.4v5M1990.42 2197.7v-5M1990.42 1810.4v5M2000.55 2197.7v-5M2000.55 1810.4v5M2008.82 2197.7v-5M2008.82 1810.4v5M2015.81 2197.7v-5M2015.81 1810.4v5M2021.87 2197.7v-5M2021.87 1810.4v5M2027.22 2197.7v-5M2027.22 1810.4v5M2032 2197.7v-9M2032 1810.4v9M1196.1 2197.7h9M2032 2197.7h-9M1196.1 2004.05h9M2032 2004.05h-9M1196.1 1810.4h9M2032 1810.4h-9" stroke="#262626" stroke-width="2.0" fill="none"/>
<rect x="1196.1" y="1810.4" width="835.9" height="387.3" fill="none" stroke="#262626" stroke-width="2.0"/>
<text x="1197.1" y="2272.5" font-size="46" text-anchor="middle" font-weight="normal" fill="#262626" >10<tspan font-size="37.5" dy="-19.8">-2</tspan></text>
<text x="1406.07" y="2272.5" font-size="46" text-anchor="middle" font-weight="normal" fill="#262626" >10<tspan font-size="37.5" dy="-19.8">0</tspan></text>
<text x="1615.05" y="2272.5" font-size="46" text-anchor="middle" font-weight="normal" fill="#262626" >10<tspan font-size="37.5" dy="-19.8">2</tspan></text>
<text x="1824.03" y="2272.5" font-size="46" text-anchor="middle" font-weight="normal" fill="#262626" >10<tspan font-size="37.5" dy="-19.8">4</tspan></text>
<text x="2033" y="2272.5" font-size="46" text-anchor="middle" font-weight="normal" fill="#262626" >10<tspan font-size="37.5" dy="-19.8">6</tspan></text>
<text x="1176.1" y="2214.17" font-size="46" text-anchor="end" font-weight="normal" fill="#262626" >0</text>
<text x="1176.1" y="2020.52" font-size="46" text-anchor="end" font-weight="normal" fill="#262626" >0.2</text>
<text x="1176.1" y="1826.87" font-size="46" text-anchor="end" font-weight="normal" fill="#262626" >0.4</text>
<text x="1614.05" y="2340.6" font-size="49.5" text-anchor="middle" font-weight="bold" fill="#262626" ><tspan font-style="italic">f</tspan> / Hz</text>
<text transform="translate(1090.3,2004.5) rotate(-90)" x="0" y="0" font-size="49.5" text-anchor="middle" font-weight="bold" fill="#262626">g(<tspan font-style="italic" dx="2.5">f</tspan><tspan dx="2.5">)</tspan> / <tspan font-family="'Liberation Serif', 'Times New Roman', serif" font-weight="normal" font-size="52">&#937;</tspan> s</text>
<text x="1030" y="1785.6" font-size="54.5" text-anchor="start" font-weight="normal" fill="#000" >(h)</text>
<g clip-path="url(#clipb)">
<path d="M1169.8 421.81C1183.47 421.77 1236.13 421.74 1251.8 421.61C1267.47 421.48 1260.72 421.69 1263.8 421.02C1266.88 420.36 1268.38 419.81 1270.3 417.61C1272.22 415.42 1273.8 412.17 1275.3 407.86C1276.8 403.56 1277.97 397.87 1279.3 391.77C1280.63 385.68 1281.97 379.02 1283.3 371.3C1284.63 363.58 1285.97 354.72 1287.3 345.46C1288.63 336.2 1290.05 325.88 1291.3 315.73C1292.55 305.57 1293.63 295.09 1294.8 284.52C1295.97 273.96 1297.22 263.24 1298.3 252.35C1299.38 241.46 1300.23 230.64 1301.3 219.2C1302.37 207.76 1303.35 196.3 1304.7 183.71C1306.05 171.12 1307.83 157 1309.4 143.64C1310.97 130.28 1312.53 115.39 1314.1 103.56C1315.67 91.73 1317.23 81.24 1318.8 72.66C1320.37 64.08 1321.85 56.72 1323.5 52.09C1325.15 47.45 1326.95 44.87 1328.7 44.87C1330.45 44.87 1332.13 47.45 1334 52.09C1335.87 56.72 1338.13 65.02 1339.9 72.66C1341.67 80.29 1343.03 87.98 1344.6 97.91C1346.17 107.84 1347.73 119.83 1349.3 132.23C1350.87 144.63 1352.43 158.94 1354 172.3C1355.57 185.66 1357.2 198.71 1358.7 212.38C1360.2 226.04 1361.72 240.83 1363 254.3C1364.28 267.77 1365.2 281.32 1366.4 293.2C1367.6 305.08 1368.9 314.99 1370.2 325.57C1371.5 336.15 1372.87 346.94 1374.2 356.68C1375.53 366.41 1376.65 375.54 1378.2 383.98C1379.75 392.41 1381.73 401.44 1383.5 407.28C1385.27 413.11 1387.03 416.59 1388.8 418.98C1390.57 421.37 1392.32 421.61 1394.1 421.61C1395.88 421.61 1397.5 421.37 1399.5 418.98C1401.5 416.59 1403.88 412.46 1406.1 407.28C1408.32 402.09 1410.58 394.57 1412.8 387.88C1415.02 381.18 1417.18 373.59 1419.4 367.11C1421.62 360.62 1423.88 354.38 1426.1 348.97C1428.32 343.56 1430.27 338.1 1432.7 334.64C1435.13 331.18 1438.03 328.53 1440.7 328.21C1443.37 327.88 1446.03 329.88 1448.7 332.69C1451.37 335.5 1454.03 339.99 1456.7 345.07C1459.37 350.16 1462.05 356.94 1464.7 363.21C1467.35 369.48 1469.95 376.65 1472.6 382.71C1475.25 388.77 1477.73 394.34 1480.6 399.57C1483.47 404.81 1486.93 410.49 1489.8 414.1C1492.67 417.71 1494.7 419.92 1497.8 421.22C1500.9 422.52 1504.87 422.23 1508.4 421.9C1511.93 421.58 1514.57 420.78 1519 419.27C1523.43 417.76 1529.45 414.46 1535 412.84C1540.55 411.21 1546.98 409.75 1552.3 409.52C1557.62 409.29 1561.8 410.27 1566.9 411.47C1572 412.67 1577.8 415.11 1582.9 416.74C1588 418.36 1592.18 420.36 1597.5 421.22C1602.82 422.08 1597.42 421.8 1614.8 421.9C1632.18 422 1670.63 421.82 1701.8 421.81C1732.97 421.79 1760.97 421.82 1801.8 421.81C1842.63 421.79 1920.47 422.13 1946.8 421.71C1973.13 421.28 1955.63 420.46 1959.8 419.27C1963.97 418.08 1966.47 416.86 1971.8 414.59C1977.13 412.31 1983.9 409.03 1991.8 405.62C1999.7 402.21 2014.63 396.03 2019.2 394.11" fill="none" stroke="#2222e6" stroke-width="2.8" stroke-linejoin="round" stroke-linecap="round"/>
<path d="M1168 421.8C1181.67 421.77 1234.33 421.73 1250 421.6C1265.67 421.47 1258.92 421.68 1262 421C1265.08 420.32 1266.58 419.75 1268.5 417.5C1270.42 415.25 1272 411.92 1273.5 407.5C1275 403.08 1276.17 397.25 1277.5 391C1278.83 384.75 1280.17 377.92 1281.5 370C1282.83 362.08 1284.17 353 1285.5 343.5C1286.83 334 1288.25 323.42 1289.5 313C1290.75 302.58 1291.83 291.83 1293 281C1294.17 270.17 1295.42 259.17 1296.5 248C1297.58 236.83 1298.43 225.73 1299.5 214C1300.57 202.27 1301.55 190.52 1302.9 177.6C1304.25 164.68 1306.03 150.2 1307.6 136.5C1309.17 122.8 1310.73 107.53 1312.3 95.4C1313.87 83.27 1315.43 72.5 1317 63.7C1318.57 54.9 1320.05 47.35 1321.7 42.6C1323.35 37.85 1325.15 35.2 1326.9 35.2C1328.65 35.2 1330.33 37.85 1332.2 42.6C1334.07 47.35 1336.33 55.87 1338.1 63.7C1339.87 71.53 1341.23 79.42 1342.8 89.6C1344.37 99.78 1345.93 112.08 1347.5 124.8C1349.07 137.52 1350.63 152.2 1352.2 165.9C1353.77 179.6 1355.4 192.98 1356.9 207C1358.4 221.02 1359.92 236.18 1361.2 250C1362.48 263.82 1363.4 277.72 1364.6 289.9C1365.8 302.08 1367.1 312.25 1368.4 323.1C1369.7 333.95 1371.07 345.02 1372.4 355C1373.73 364.98 1374.85 374.35 1376.4 383C1377.95 391.65 1379.93 400.92 1381.7 406.9C1383.47 412.88 1385.23 416.45 1387 418.9C1388.77 421.35 1390.52 421.6 1392.3 421.6C1394.08 421.6 1395.7 421.35 1397.7 418.9C1399.7 416.45 1402.08 412.22 1404.3 406.9C1406.52 401.58 1408.78 393.87 1411 387C1413.22 380.13 1415.38 372.35 1417.6 365.7C1419.82 359.05 1422.08 352.65 1424.3 347.1C1426.52 341.55 1428.47 335.95 1430.9 332.4C1433.33 328.85 1436.23 326.13 1438.9 325.8C1441.57 325.47 1444.23 327.52 1446.9 330.4C1449.57 333.28 1452.23 337.88 1454.9 343.1C1457.57 348.32 1460.25 355.27 1462.9 361.7C1465.55 368.13 1468.15 375.48 1470.8 381.7C1473.45 387.92 1475.93 393.63 1478.8 399C1481.67 404.37 1485.13 410.2 1488 413.9C1490.87 417.6 1492.9 419.87 1496 421.2C1499.1 422.53 1503.07 422.23 1506.6 421.9C1510.13 421.57 1512.77 420.75 1517.2 419.2C1521.63 417.65 1527.65 414.27 1533.2 412.6C1538.75 410.93 1545.18 409.43 1550.5 409.2C1555.82 408.97 1560 409.97 1565.1 411.2C1570.2 412.43 1576 414.93 1581.1 416.6C1586.2 418.27 1590.38 420.32 1595.7 421.2C1601.02 422.08 1595.62 421.8 1613 421.9C1630.38 422 1668.83 421.82 1700 421.8C1731.17 421.78 1759.17 421.82 1800 421.8C1840.83 421.78 1918.67 422.13 1945 421.7C1971.33 421.27 1953.83 420.42 1958 419.2C1962.17 417.98 1964.67 416.73 1970 414.4C1975.33 412.07 1982.1 408.7 1990 405.2C1997.9 401.7 2012.83 395.37 2017.4 393.4" fill="none" stroke="#aea8fe" stroke-width="5" stroke-linejoin="round" stroke-linecap="round"/>
</g>
<g clip-path="url(#clipd)">
<path d="M1168.7 1008.6C1170.4 1007.5 1175.72 1004.07 1178.9 1002C1182.08 999.93 1184.25 998.5 1187.8 996.2C1191.35 993.9 1196.35 990.33 1200.2 988.2C1204.05 986.07 1207.05 984.58 1210.9 983.4C1214.75 982.22 1219.02 981.33 1223.3 981.1C1227.58 980.87 1232.17 981.25 1236.6 982C1241.03 982.75 1245.47 984.33 1249.9 985.6C1254.33 986.87 1259.5 989.45 1263.2 989.6C1266.9 989.75 1269.15 987.9 1272.1 986.5C1275.05 985.1 1277.95 984.15 1280.9 981.2C1283.85 978.25 1287.12 974.03 1289.8 968.8C1292.48 963.57 1294.25 957.4 1297 949.8C1299.75 942.2 1303.42 932.73 1306.3 923.2C1309.18 913.67 1311.63 902.8 1314.3 892.6C1316.97 882.4 1319.65 871.53 1322.3 862C1324.95 852.47 1327.55 843.38 1330.2 835.4C1332.85 827.42 1335.42 819.1 1338.2 814.1C1340.98 809.1 1344.02 805.62 1346.9 805.4C1349.78 805.18 1352.73 808.68 1355.5 812.8C1358.27 816.92 1360.83 822.78 1363.5 830.1C1366.17 837.42 1369.07 847.4 1371.5 856.7C1373.93 866 1375.88 875.48 1378.1 885.9C1380.32 896.32 1382.58 908.55 1384.8 919.2C1387.02 929.85 1389.18 940.27 1391.4 949.8C1393.62 959.33 1395.65 968.42 1398.1 976.4C1400.55 984.38 1403.43 992.17 1406.1 997.7C1408.77 1003.23 1411.88 1007.33 1414.1 1009.6C1416.32 1011.87 1417.18 1011.95 1419.4 1011.3C1421.62 1010.65 1424.75 1008.42 1427.4 1005.7C1430.05 1002.98 1433.33 998.28 1435.3 995C1437.27 991.72 1437.22 990.15 1439.2 986C1441.18 981.85 1444.55 974.98 1447.2 970.1C1449.85 965.22 1452.45 960.15 1455.1 956.7C1457.75 953.25 1460.65 950.95 1463.1 949.4C1465.55 947.85 1467.35 947.17 1469.8 947.4C1472.25 947.63 1475.15 948.8 1477.8 950.8C1480.45 952.8 1483.05 955.75 1485.7 959.4C1488.35 963.05 1491.03 968.27 1493.7 972.7C1496.37 977.13 1499.03 981.78 1501.7 986C1504.37 990.22 1507.03 994.45 1509.7 998C1512.37 1001.55 1514.82 1004.87 1517.7 1007.3C1520.58 1009.73 1523.68 1011.6 1527 1012.6C1530.32 1013.6 1534.05 1013.4 1537.6 1013.3C1541.15 1013.2 1544.3 1012.88 1548.3 1012C1552.3 1011.12 1556.73 1009.12 1561.6 1008C1566.47 1006.88 1572.63 1005.63 1577.5 1005.3C1582.37 1004.97 1585.92 1005.33 1590.8 1006C1595.68 1006.67 1601.25 1008.2 1606.8 1009.3C1612.35 1010.4 1617.88 1011.93 1624.1 1012.6C1630.32 1013.27 1631.25 1013.15 1644.1 1013.3C1656.95 1013.45 1675.02 1013.47 1701.2 1013.5C1727.38 1013.53 1767.87 1013.5 1801.2 1013.5C1834.53 1013.5 1871.2 1013.58 1901.2 1013.5C1931.2 1013.42 1964.53 1013.75 1981.2 1013C1997.87 1012.25 1995.03 1011 2001.2 1009C2007.37 1007 2015.37 1002.33 2018.2 1001" fill="none" stroke="#2222e6" stroke-width="2.8" stroke-linejoin="round" stroke-linecap="round"/>
<path d="M1167.5 1011.8C1169.2 1010.7 1174.52 1007.27 1177.7 1005.2C1180.88 1003.13 1183.05 1001.7 1186.6 999.4C1190.15 997.1 1195.15 993.53 1199 991.4C1202.85 989.27 1205.85 987.78 1209.7 986.6C1213.55 985.42 1217.82 984.53 1222.1 984.3C1226.38 984.07 1230.97 984.45 1235.4 985.2C1239.83 985.95 1244.27 987.53 1248.7 988.8C1253.13 990.07 1258.3 992.65 1262 992.8C1265.7 992.95 1267.95 991.55 1270.9 989.7C1273.85 987.85 1276.75 985.1 1279.7 981.7C1282.65 978.3 1285.92 974.53 1288.6 969.3C1291.28 964.07 1293.05 957.9 1295.8 950.3C1298.55 942.7 1302.22 933.23 1305.1 923.7C1307.98 914.17 1310.43 903.3 1313.1 893.1C1315.77 882.9 1318.45 872.03 1321.1 862.5C1323.75 852.97 1326.35 843.88 1329 835.9C1331.65 827.92 1334.22 819.6 1337 814.6C1339.78 809.6 1342.82 806.12 1345.7 805.9C1348.58 805.68 1351.53 809.18 1354.3 813.3C1357.07 817.42 1359.63 823.28 1362.3 830.6C1364.97 837.92 1367.87 847.9 1370.3 857.2C1372.73 866.5 1374.68 875.98 1376.9 886.4C1379.12 896.82 1381.38 909.05 1383.6 919.7C1385.82 930.35 1387.98 940.77 1390.2 950.3C1392.42 959.83 1394.45 968.92 1396.9 976.9C1399.35 984.88 1402.23 992.67 1404.9 998.2C1407.57 1003.73 1410.68 1007.83 1412.9 1010.1C1415.12 1012.37 1415.98 1012.45 1418.2 1011.8C1420.42 1011.15 1423.55 1008.92 1426.2 1006.2C1428.85 1003.48 1432.13 998.78 1434.1 995.5C1436.07 992.22 1436.02 990.65 1438 986.5C1439.98 982.35 1443.35 975.48 1446 970.6C1448.65 965.72 1451.25 960.65 1453.9 957.2C1456.55 953.75 1459.45 951.45 1461.9 949.9C1464.35 948.35 1466.15 947.67 1468.6 947.9C1471.05 948.13 1473.95 949.3 1476.6 951.3C1479.25 953.3 1481.85 956.25 1484.5 959.9C1487.15 963.55 1489.83 968.77 1492.5 973.2C1495.17 977.63 1497.83 982.28 1500.5 986.5C1503.17 990.72 1505.83 994.95 1508.5 998.5C1511.17 1002.05 1513.62 1005.37 1516.5 1007.8C1519.38 1010.23 1522.48 1012.1 1525.8 1013.1C1529.12 1014.1 1532.85 1013.9 1536.4 1013.8C1539.95 1013.7 1543.1 1013.38 1547.1 1012.5C1551.1 1011.62 1555.53 1009.62 1560.4 1008.5C1565.27 1007.38 1571.43 1006.13 1576.3 1005.8C1581.17 1005.47 1584.72 1005.83 1589.6 1006.5C1594.48 1007.17 1600.05 1008.7 1605.6 1009.8C1611.15 1010.9 1616.68 1012.43 1622.9 1013.1C1629.12 1013.77 1630.05 1013.65 1642.9 1013.8C1655.75 1013.95 1673.82 1013.97 1700 1014C1726.18 1014.03 1766.67 1014 1800 1014C1833.33 1014 1870 1014.08 1900 1014C1930 1013.92 1963.33 1014.25 1980 1013.5C1996.67 1012.75 1993.83 1011.5 2000 1009.5C2006.17 1007.5 2014.17 1002.83 2017 1001.5" fill="none" stroke="#aea8fe" stroke-width="5" stroke-linejoin="round" stroke-linecap="round"/>
</g>
<g clip-path="url(#clipf)">
<path d="M1170.2 1601.89C1203.81 1601.89 1337.43 1602.52 1371.86 1601.89C1406.28 1601.27 1375.13 1600.81 1376.74 1598.14C1378.36 1595.47 1379.92 1590.42 1381.53 1585.86C1383.14 1581.29 1384.8 1576.4 1386.42 1570.73C1388.03 1565.07 1389.59 1558.45 1391.2 1551.85C1392.81 1545.26 1394.48 1538.39 1396.09 1531.15C1397.7 1523.91 1399.26 1515.81 1400.87 1508.41C1402.48 1501.02 1404.15 1494.17 1405.76 1486.79C1407.37 1479.42 1408.93 1470.45 1410.54 1464.16C1412.16 1457.87 1413.98 1452.98 1415.43 1449.03C1416.89 1445.09 1417.67 1442.56 1419.28 1440.51C1420.89 1438.46 1423.01 1436.28 1425.1 1436.75C1427.2 1437.23 1429.94 1440.2 1431.86 1443.35C1433.79 1446.5 1435.04 1451.07 1436.65 1455.63C1438.26 1460.2 1439.92 1464.78 1441.54 1470.76C1443.15 1476.73 1444.71 1484.54 1446.32 1491.46C1447.93 1498.38 1449.6 1505.2 1451.21 1512.27C1452.82 1519.34 1454.38 1526.82 1455.99 1533.89C1457.6 1540.96 1459.27 1547.93 1460.88 1554.7C1462.49 1561.46 1463.9 1568.35 1465.66 1574.49C1467.43 1580.63 1469.55 1587.14 1471.49 1591.54C1473.43 1595.94 1475.37 1599.15 1477.31 1600.88C1479.25 1602.6 1467.69 1601.81 1483.14 1601.89C1498.58 1601.98 1551.27 1601.69 1570 1601.39C1588.73 1601.08 1587 1600.79 1595.5 1600.07C1604 1599.34 1612.5 1597.53 1621 1597.02C1629.5 1596.51 1638 1596.82 1646.5 1597.02C1655 1597.22 1663.5 1597.95 1672 1598.24C1680.5 1598.53 1689 1598.66 1697.5 1598.75C1706 1598.83 1714.5 1599.17 1723 1598.75C1731.5 1598.32 1740 1597.28 1748.5 1596.21C1757 1595.14 1765.5 1593.44 1774 1592.35C1782.5 1591.27 1792.7 1590.02 1799.5 1589.71C1806.3 1589.41 1808.43 1589.66 1814.8 1590.53C1821.17 1591.39 1829.63 1593.3 1837.7 1594.89C1845.77 1596.48 1854.7 1599.32 1863.2 1600.07C1871.7 1600.81 1880.2 1599.86 1888.7 1599.36C1897.2 1598.85 1905.7 1597.33 1914.2 1597.02C1922.7 1596.72 1931.2 1597.11 1939.7 1597.53C1948.2 1597.95 1956.7 1599.44 1965.2 1599.56C1973.7 1599.68 1983.48 1599.02 1990.7 1598.24C1997.92 1597.46 2003.65 1596.09 2008.5 1594.89C2013.35 1593.69 2017.92 1591.68 2019.8 1591.03" fill="none" stroke="#2222e6" stroke-width="2.8" stroke-linejoin="round" stroke-linecap="round"/>
<path d="M1170.2 1601.3C1204.15 1601.3 1339.17 1601.92 1373.9 1601.3C1408.63 1600.68 1377.05 1600.23 1378.6 1597.6C1380.15 1594.97 1381.65 1590 1383.2 1585.5C1384.75 1581 1386.35 1576.18 1387.9 1570.6C1389.45 1565.02 1390.95 1558.5 1392.5 1552C1394.05 1545.5 1395.65 1538.73 1397.2 1531.6C1398.75 1524.47 1400.25 1516.48 1401.8 1509.2C1403.35 1501.92 1404.95 1495.17 1406.5 1487.9C1408.05 1480.63 1409.55 1471.8 1411.1 1465.6C1412.65 1459.4 1414.4 1454.58 1415.8 1450.7C1417.2 1446.82 1417.95 1444.32 1419.5 1442.3C1421.05 1440.28 1423.08 1438.13 1425.1 1438.6C1427.12 1439.07 1429.75 1442 1431.6 1445.1C1433.45 1448.2 1434.65 1452.7 1436.2 1457.2C1437.75 1461.7 1439.35 1466.22 1440.9 1472.1C1442.45 1477.98 1443.95 1485.68 1445.5 1492.5C1447.05 1499.32 1448.65 1506.03 1450.2 1513C1451.75 1519.97 1453.25 1527.33 1454.8 1534.3C1456.35 1541.27 1457.95 1548.13 1459.5 1554.8C1461.05 1561.47 1462.4 1568.25 1464.1 1574.3C1465.8 1580.35 1467.83 1586.77 1469.7 1591.1C1471.57 1595.43 1473.43 1598.6 1475.3 1600.3C1477.17 1602 1465.12 1601.22 1480.9 1601.3C1496.68 1601.38 1550.9 1601.1 1570 1600.8C1589.1 1600.5 1587 1600.22 1595.5 1599.5C1604 1598.78 1612.5 1597 1621 1596.5C1629.5 1596 1638 1596.3 1646.5 1596.5C1655 1596.7 1663.5 1597.42 1672 1597.7C1680.5 1597.98 1689 1598.12 1697.5 1598.2C1706 1598.28 1714.5 1598.62 1723 1598.2C1731.5 1597.78 1740 1596.75 1748.5 1595.7C1757 1594.65 1765.5 1592.97 1774 1591.9C1782.5 1590.83 1792.7 1589.6 1799.5 1589.3C1806.3 1589 1808.43 1589.25 1814.8 1590.1C1821.17 1590.95 1829.63 1592.83 1837.7 1594.4C1845.77 1595.97 1854.7 1598.77 1863.2 1599.5C1871.7 1600.23 1880.2 1599.3 1888.7 1598.8C1897.2 1598.3 1905.7 1596.8 1914.2 1596.5C1922.7 1596.2 1931.2 1596.58 1939.7 1597C1948.2 1597.42 1956.7 1598.88 1965.2 1599C1973.7 1599.12 1983.48 1598.47 1990.7 1597.7C1997.92 1596.93 2003.65 1595.58 2008.5 1594.4C2013.35 1593.22 2017.92 1591.23 2019.8 1590.6" fill="none" stroke="#aea8fe" stroke-width="5" stroke-linejoin="round" stroke-linecap="round"/>
</g>
<g clip-path="url(#cliph)">
<path d="M1196.1 2198.7C1199.25 2198.47 1208.18 2197.83 1215 2197.3C1221.82 2196.77 1229.5 2195.37 1237 2195.5C1244.5 2195.63 1249.5 2197.57 1260 2198.1C1270.5 2198.63 1276.67 2198.6 1300 2198.7C1323.33 2198.8 1366.67 2198.6 1400 2198.7C1433.33 2198.8 1480.57 2199.42 1500 2199.3C1519.43 2199.18 1512.45 2199.75 1516.6 2198C1520.75 2196.25 1522.12 2192.55 1524.9 2188.8C1527.68 2185.05 1530.52 2180.48 1533.3 2175.5C1536.08 2170.52 1538.83 2164.43 1541.6 2158.9C1544.37 2153.37 1547.13 2147.57 1549.9 2142.3C1552.67 2137.03 1555.43 2131.32 1558.2 2127.3C1560.97 2123.28 1563.58 2120.28 1566.5 2118.2C1569.42 2116.12 1572.65 2114.8 1575.7 2114.8C1578.75 2114.8 1581.62 2115.83 1584.8 2118.2C1587.98 2120.57 1591.47 2124.98 1594.8 2129C1598.13 2133.02 1601.47 2138.15 1604.8 2142.3C1608.13 2146.45 1611.2 2150.3 1614.8 2153.9C1618.4 2157.5 1622.25 2161.27 1626.4 2163.9C1630.55 2166.53 1635.27 2168.73 1639.7 2169.7C1644.13 2170.67 1648.57 2170.38 1653 2169.7C1657.43 2169.02 1662.15 2166.85 1666.3 2165.6C1670.45 2164.35 1673.73 2162.62 1677.9 2162.2C1682.07 2161.78 1686.3 2162.4 1691.3 2163.1C1696.3 2163.8 1702.37 2165.43 1707.9 2166.4C1713.43 2167.37 1718.97 2168.9 1724.5 2168.9C1730.03 2168.9 1735.55 2167.78 1741.1 2166.4C1746.65 2165.02 1752.25 2163.52 1757.8 2160.6C1763.35 2157.68 1768.3 2153.63 1774.4 2148.9C1780.5 2144.17 1788.67 2137.62 1794.4 2132.2C1800.13 2126.78 1804 2121.43 1808.8 2116.4C1813.6 2111.37 1818.38 2105.62 1823.2 2102C1828.02 2098.38 1833.37 2095.67 1837.7 2094.7C1842.03 2093.73 1845.37 2094.75 1849.2 2096.2C1853.03 2097.65 1856.62 2100.28 1860.7 2103.4C1864.78 2106.52 1869.62 2111.53 1873.7 2114.9C1877.78 2118.27 1881.6 2121.8 1885.2 2123.6C1888.8 2125.4 1891.7 2126.14 1895.3 2125.7C1898.9 2125.26 1902.95 2123.58 1906.8 2120.94C1910.65 2118.29 1914.32 2114.03 1918.4 2109.84C1922.48 2105.64 1927.22 2099.73 1931.3 2095.78C1935.38 2091.84 1939.28 2088.21 1942.9 2086.18C1946.52 2084.16 1949.4 2083.28 1953 2083.63C1956.6 2083.99 1960.67 2086.28 1964.5 2088.33C1968.33 2090.38 1972.4 2094.24 1976 2095.93C1979.6 2097.62 1982.73 2098.6 1986.1 2098.48C1989.47 2098.36 1993.08 2097.66 1996.2 2095.23C1999.32 2092.8 2001.92 2088.64 2004.8 2083.93C2007.68 2079.21 2010.62 2072.6 2013.5 2066.93C2016.38 2061.26 2019.1 2055.82 2022.1 2049.93C2025.1 2044.03 2029.93 2034.61 2031.5 2031.55" fill="none" stroke="#2222e6" stroke-width="2.6" stroke-linejoin="round"/>
<path d="M1196.1 2197.2C1199.25 2196.97 1208.18 2196.33 1215 2195.8C1221.82 2195.27 1229.5 2193.87 1237 2194C1244.5 2194.13 1249.5 2196.07 1260 2196.6C1270.5 2197.13 1276.67 2197.1 1300 2197.2C1323.33 2197.3 1366.67 2197.27 1400 2197.2C1433.33 2197.13 1480.57 2197.08 1500 2196.8C1519.43 2196.52 1512.45 2197.25 1516.6 2195.5C1520.75 2193.75 1522.12 2190.05 1524.9 2186.3C1527.68 2182.55 1530.52 2177.98 1533.3 2173C1536.08 2168.02 1538.83 2161.93 1541.6 2156.4C1544.37 2150.87 1547.13 2145.07 1549.9 2139.8C1552.67 2134.53 1555.43 2128.82 1558.2 2124.8C1560.97 2120.78 1563.58 2117.78 1566.5 2115.7C1569.42 2113.62 1572.65 2112.3 1575.7 2112.3C1578.75 2112.3 1581.62 2113.33 1584.8 2115.7C1587.98 2118.07 1591.47 2122.48 1594.8 2126.5C1598.13 2130.52 1601.47 2135.65 1604.8 2139.8C1608.13 2143.95 1611.2 2147.8 1614.8 2151.4C1618.4 2155 1622.25 2158.77 1626.4 2161.4C1630.55 2164.03 1635.27 2166.23 1639.7 2167.2C1644.13 2168.17 1648.57 2167.88 1653 2167.2C1657.43 2166.52 1662.15 2164.35 1666.3 2163.1C1670.45 2161.85 1673.73 2160.12 1677.9 2159.7C1682.07 2159.28 1686.3 2159.9 1691.3 2160.6C1696.3 2161.3 1702.37 2162.93 1707.9 2163.9C1713.43 2164.87 1718.97 2166.4 1724.5 2166.4C1730.03 2166.4 1735.55 2165.28 1741.1 2163.9C1746.65 2162.52 1752.25 2161.02 1757.8 2158.1C1763.35 2155.18 1768.3 2151.13 1774.4 2146.4C1780.5 2141.67 1788.67 2135.12 1794.4 2129.7C1800.13 2124.28 1804 2118.93 1808.8 2113.9C1813.6 2108.87 1818.38 2103.12 1823.2 2099.5C1828.02 2095.88 1833.37 2093.17 1837.7 2092.2C1842.03 2091.23 1845.37 2092.25 1849.2 2093.7C1853.03 2095.15 1856.62 2097.78 1860.7 2100.9C1864.78 2104.02 1869.62 2109.03 1873.7 2112.4C1877.78 2115.77 1881.6 2119.3 1885.2 2121.1C1888.8 2122.9 1891.7 2123.68 1895.3 2123.2C1898.9 2122.72 1902.95 2120.95 1906.8 2118.2C1910.65 2115.45 1914.32 2111.03 1918.4 2106.7C1922.48 2102.37 1927.22 2096.28 1931.3 2092.2C1935.38 2088.12 1939.28 2084.35 1942.9 2082.2C1946.52 2080.05 1949.4 2079.07 1953 2079.3C1956.6 2079.53 1960.67 2081.68 1964.5 2083.6C1968.33 2085.52 1972.4 2089.23 1976 2090.8C1979.6 2092.37 1982.73 2093.23 1986.1 2093C1989.47 2092.77 1993.08 2091.93 1996.2 2089.4C1999.32 2086.87 2001.92 2082.62 2004.8 2077.8C2007.68 2072.98 2010.62 2066.27 2013.5 2060.5C2016.38 2054.73 2019.1 2049.2 2022.1 2043.2C2025.1 2037.2 2029.93 2027.62 2031.5 2024.5" fill="none" stroke="#aea8fe" stroke-width="5" stroke-linejoin="round" stroke-linecap="round"/>
</g>
<g clip-path="url(#clipa)">
<path d="M330 354.5C330.42 354.9 331.67 356.08 332.5 356.88C333.33 357.67 334.17 358.46 335 359.25C335.83 360.04 336.67 360.83 337.5 361.62C338.33 362.42 339.25 363.19 340 364C340.75 364.81 341.33 365.67 342 366.5C342.67 367.33 343.33 368.17 344 369C344.67 369.83 345.33 370.67 346 371.5C346.67 372.33 347.39 373.12 348 374C348.61 374.88 349.09 375.84 349.63 376.77C350.18 377.69 350.72 378.61 351.27 379.53C351.81 380.46 352.28 382.56 352.9 382.3C353.52 382.04 354.35 379.22 355 378C355.65 376.78 356.21 375.98 356.82 374.97C357.42 373.96 358.03 372.94 358.63 371.93C359.24 370.92 359.84 369.91 360.45 368.9C361.06 367.89 361.66 366.88 362.27 365.87C362.87 364.86 363.48 363.84 364.08 362.83C364.69 361.82 365.26 360.83 365.9 359.8C366.54 358.77 367.23 357.7 367.9 356.66C368.57 355.61 369.23 354.56 369.9 353.51C370.57 352.47 371.23 351.42 371.9 350.37C372.57 349.32 373.23 348.28 373.9 347.23C374.57 346.18 375.23 345.13 375.9 344.09C376.57 343.04 377.23 341.99 377.9 340.94C378.57 339.9 379.21 338.82 379.9 337.8C380.59 336.78 381.33 335.81 382.05 334.82C382.77 333.82 383.48 332.83 384.2 331.83C384.92 330.84 385.63 329.84 386.35 328.85C387.07 327.86 387.78 326.86 388.5 325.87C389.22 324.87 389.93 323.88 390.65 322.88C391.37 321.89 392.04 320.83 392.8 319.9C393.56 318.97 394.4 318.17 395.2 317.3C396 316.43 396.8 315.57 397.6 314.7C398.4 313.83 399.2 312.97 400 312.1C400.8 311.23 400.43 311.92 402.4 309.5C404.37 307.08 408.52 300.83 411.8 297.6C415.08 294.37 418.52 292.82 422.1 290.1C425.68 287.38 429.37 284.1 433.3 281.3C437.23 278.5 441.63 276.07 445.7 273.3C449.77 270.53 453.55 267.7 457.7 264.7C461.85 261.7 465.95 258.62 470.6 255.3C475.25 251.98 480.6 248.45 485.6 244.8C490.6 241.15 495.12 237.57 500.6 233.4C506.08 229.23 512.02 224.22 518.5 219.8C524.98 215.38 531.86 211.21 539.5 206.9C547.14 202.59 555.44 198.22 564.31 193.94C573.18 189.65 582.46 184.92 592.73 181.18C603.01 177.43 614.44 173.93 625.95 171.46C637.47 168.99 649.65 167.16 661.82 166.37C673.99 165.57 686.68 165.84 698.96 166.68C711.25 167.52 723.61 168.89 735.52 171.39C747.43 173.89 759.38 177.43 770.41 181.69C781.43 185.95 792.06 191.39 801.67 196.96C811.27 202.52 819.98 208.96 828.03 215.08C836.08 221.2 843.59 227.3 849.98 233.67C856.38 240.04 861.33 247.04 866.4 253.3C871.47 259.56 876.23 265.55 880.4 271.2C884.57 276.85 888.4 281.87 891.4 287.2C894.4 292.53 896.23 298.38 898.4 303.2C900.57 308.02 902.73 311.95 904.4 316.1C906.07 320.25 907.73 326.1 908.4 328.1" fill="none" stroke="#0000ee" stroke-width="6" stroke-linejoin="round" stroke-linecap="round"/>
<g fill="#0000ee"><circle cx="330.0" cy="354.5" r="7.6"/><circle cx="332.5" cy="356.9" r="7.6"/><circle cx="335.0" cy="359.2" r="7.6"/><circle cx="337.5" cy="361.6" r="7.6"/><circle cx="340.0" cy="364.0" r="7.6"/><circle cx="342.0" cy="366.5" r="7.6"/><circle cx="344.0" cy="369.0" r="7.6"/><circle cx="346.0" cy="371.5" r="7.6"/><circle cx="348.0" cy="374.0" r="7.6"/><circle cx="349.6" cy="376.8" r="7.6"/><circle cx="351.3" cy="379.5" r="7.6"/><circle cx="352.9" cy="382.3" r="7.6"/><circle cx="355.0" cy="378.0" r="7.6"/><circle cx="356.8" cy="375.0" r="7.6"/><circle cx="358.6" cy="371.9" r="7.6"/><circle cx="360.4" cy="368.9" r="7.6"/><circle cx="362.3" cy="365.9" r="7.6"/><circle cx="364.1" cy="362.8" r="7.6"/><circle cx="365.9" cy="359.8" r="7.6"/><circle cx="367.9" cy="356.7" r="7.6"/><circle cx="369.9" cy="353.5" r="7.6"/><circle cx="371.9" cy="350.4" r="7.6"/><circle cx="373.9" cy="347.2" r="7.6"/><circle cx="375.9" cy="344.1" r="7.6"/><circle cx="377.9" cy="340.9" r="7.6"/><circle cx="379.9" cy="337.8" r="7.6"/><circle cx="382.0" cy="334.8" r="7.6"/><circle cx="384.2" cy="331.8" r="7.6"/><circle cx="386.4" cy="328.9" r="7.6"/><circle cx="388.5" cy="325.9" r="7.6"/><circle cx="390.6" cy="322.9" r="7.6"/><circle cx="392.8" cy="319.9" r="7.6"/><circle cx="395.2" cy="317.3" r="7.6"/><circle cx="397.6" cy="314.7" r="7.6"/><circle cx="400.0" cy="312.1" r="7.6"/><circle cx="402.4" cy="309.5" r="7.6"/><circle cx="411.8" cy="297.6" r="7.6"/><circle cx="422.1" cy="290.1" r="7.6"/><circle cx="433.3" cy="281.3" r="7.6"/><circle cx="445.7" cy="273.3" r="7.6"/><circle cx="457.7" cy="264.7" r="7.6"/><circle cx="470.6" cy="255.3" r="7.6"/><circle cx="485.6" cy="244.8" r="7.6"/><circle cx="500.6" cy="233.4" r="7.6"/><circle cx="518.5" cy="219.8" r="7.6"/><circle cx="539.5" cy="206.9" r="7.6"/><circle cx="564.3" cy="193.9" r="7.6"/><circle cx="592.7" cy="181.2" r="7.6"/><circle cx="626.0" cy="171.5" r="7.6"/><circle cx="661.8" cy="166.4" r="7.6"/><circle cx="699.0" cy="166.7" r="7.6"/><circle cx="735.5" cy="171.4" r="7.6"/><circle cx="770.4" cy="181.7" r="7.6"/><circle cx="801.7" cy="197.0" r="7.6"/><circle cx="828.0" cy="215.1" r="7.6"/><circle cx="850.0" cy="233.7" r="7.6"/><circle cx="866.4" cy="253.3" r="7.6"/><circle cx="880.4" cy="271.2" r="7.6"/><circle cx="891.4" cy="287.2" r="7.6"/><circle cx="898.4" cy="303.2" r="7.6"/><circle cx="904.4" cy="316.1" r="7.6"/><circle cx="908.4" cy="328.1" r="7.6"/></g>
<path d="M330 354.5C330.42 354.9 331.67 356.08 332.5 356.88C333.33 357.67 334.17 358.46 335 359.25C335.83 360.04 336.67 360.83 337.5 361.62C338.33 362.42 339.25 363.19 340 364C340.75 364.81 341.33 365.67 342 366.5C342.67 367.33 343.33 368.17 344 369C344.67 369.83 345.33 370.67 346 371.5C346.67 372.33 347.39 373.12 348 374C348.61 374.88 349.09 375.84 349.63 376.77C350.18 377.69 350.72 378.61 351.27 379.53C351.81 380.46 352.28 382.56 352.9 382.3C353.52 382.04 354.35 379.22 355 378C355.65 376.78 356.21 375.98 356.82 374.97C357.42 373.96 358.03 372.94 358.63 371.93C359.24 370.92 359.84 369.91 360.45 368.9C361.06 367.89 361.66 366.88 362.27 365.87C362.87 364.86 363.48 363.84 364.08 362.83C364.69 361.82 365.26 360.83 365.9 359.8C366.54 358.77 367.23 357.7 367.9 356.66C368.57 355.61 369.23 354.56 369.9 353.51C370.57 352.47 371.23 351.42 371.9 350.37C372.57 349.32 373.23 348.28 373.9 347.23C374.57 346.18 375.23 345.13 375.9 344.09C376.57 343.04 377.23 341.99 377.9 340.94C378.57 339.9 379.21 338.82 379.9 337.8C380.59 336.78 381.33 335.81 382.05 334.82C382.77 333.82 383.48 332.83 384.2 331.83C384.92 330.84 385.63 329.84 386.35 328.85C387.07 327.86 387.78 326.86 388.5 325.87C389.22 324.87 389.93 323.88 390.65 322.88C391.37 321.89 392.04 320.83 392.8 319.9C393.56 318.97 394.4 318.17 395.2 317.3C396 316.43 396.8 315.57 397.6 314.7C398.4 313.83 399.2 312.97 400 312.1C400.8 311.23 400.43 311.92 402.4 309.5C404.37 307.08 408.52 300.83 411.8 297.6C415.08 294.37 418.52 292.82 422.1 290.1C425.68 287.38 429.37 284.1 433.3 281.3C437.23 278.5 441.63 276.07 445.7 273.3C449.77 270.53 453.55 267.7 457.7 264.7C461.85 261.7 465.95 258.62 470.6 255.3C475.25 251.98 480.6 248.45 485.6 244.8C490.6 241.15 495.12 237.57 500.6 233.4C506.08 229.23 512.02 224.22 518.5 219.8C524.98 215.38 531.85 211.55 539.5 206.9C547.15 202.25 555.42 196.57 564.4 191.9C573.38 187.23 582.92 182.73 593.4 178.9C603.88 175.07 615.55 171.47 627.3 168.9C639.05 166.33 651.48 164.4 663.9 163.5C676.32 162.6 689.27 162.77 701.8 163.5C714.33 164.23 726.95 165.5 739.1 167.9C751.25 170.3 763.45 173.73 774.7 177.9C785.95 182.07 796.8 187.42 806.6 192.9C816.4 198.38 825.28 204.75 833.5 210.8C841.72 216.85 849.42 222.87 855.9 229.2C862.38 235.53 867.32 242.55 872.4 248.8C877.48 255.05 882.23 261.05 886.4 266.7C890.57 272.35 894.4 277.37 897.4 282.7C900.4 288.03 902.23 293.88 904.4 298.7C906.57 303.52 908.73 307.45 910.4 311.6C912.07 315.75 913.73 321.6 914.4 323.6" fill="none" stroke="#938df8" stroke-width="7.8" stroke-linejoin="round" stroke-linecap="round"/>
<g fill="#938df8"><circle cx="331.6" cy="356.6" r="8.5"/><circle cx="328.4" cy="352.4" r="8.5"/><circle cx="334.1" cy="359.0" r="8.5"/><circle cx="330.9" cy="354.8" r="8.5"/><circle cx="336.6" cy="361.4" r="8.5"/><circle cx="333.4" cy="357.1" r="8.5"/><circle cx="339.1" cy="363.7" r="8.5"/><circle cx="335.9" cy="359.5" r="8.5"/><circle cx="341.6" cy="366.1" r="8.5"/><circle cx="338.4" cy="361.9" r="8.5"/><circle cx="343.6" cy="368.6" r="8.5"/><circle cx="340.4" cy="364.4" r="8.5"/><circle cx="345.6" cy="371.1" r="8.5"/><circle cx="342.4" cy="366.9" r="8.5"/><circle cx="347.6" cy="373.6" r="8.5"/><circle cx="344.4" cy="369.4" r="8.5"/><circle cx="349.6" cy="376.1" r="8.5"/><circle cx="346.4" cy="371.9" r="8.5"/><circle cx="351.2" cy="378.9" r="8.5"/><circle cx="348.0" cy="374.7" r="8.5"/><circle cx="352.9" cy="381.6" r="8.5"/><circle cx="349.7" cy="377.4" r="8.5"/><circle cx="354.5" cy="384.4" r="8.5"/><circle cx="351.3" cy="380.2" r="8.5"/><circle cx="356.6" cy="380.1" r="8.5"/><circle cx="353.4" cy="375.9" r="8.5"/><circle cx="358.4" cy="377.1" r="8.5"/><circle cx="355.2" cy="372.9" r="8.5"/><circle cx="360.2" cy="374.0" r="8.5"/><circle cx="357.0" cy="369.8" r="8.5"/><circle cx="362.1" cy="371.0" r="8.5"/><circle cx="358.8" cy="366.8" r="8.5"/><circle cx="363.9" cy="368.0" r="8.5"/><circle cx="360.7" cy="363.8" r="8.5"/><circle cx="365.7" cy="364.9" r="8.5"/><circle cx="362.5" cy="360.7" r="8.5"/><circle cx="367.5" cy="361.9" r="8.5"/><circle cx="364.3" cy="357.7" r="8.5"/><circle cx="369.5" cy="358.8" r="8.5"/><circle cx="366.3" cy="354.6" r="8.5"/><circle cx="371.5" cy="355.6" r="8.5"/><circle cx="368.3" cy="351.4" r="8.5"/><circle cx="373.5" cy="352.5" r="8.5"/><circle cx="370.3" cy="348.3" r="8.5"/><circle cx="375.5" cy="349.3" r="8.5"/><circle cx="372.3" cy="345.1" r="8.5"/><circle cx="377.5" cy="346.2" r="8.5"/><circle cx="374.3" cy="342.0" r="8.5"/><circle cx="379.5" cy="343.0" r="8.5"/><circle cx="376.3" cy="338.8" r="8.5"/><circle cx="381.5" cy="339.9" r="8.5"/><circle cx="378.3" cy="335.7" r="8.5"/><circle cx="383.6" cy="336.9" r="8.5"/><circle cx="380.4" cy="332.7" r="8.5"/><circle cx="385.8" cy="333.9" r="8.5"/><circle cx="382.6" cy="329.7" r="8.5"/><circle cx="388.0" cy="331.0" r="8.5"/><circle cx="384.8" cy="326.8" r="8.5"/><circle cx="390.1" cy="328.0" r="8.5"/><circle cx="386.9" cy="323.8" r="8.5"/><circle cx="392.2" cy="325.0" r="8.5"/><circle cx="389.0" cy="320.8" r="8.5"/><circle cx="394.4" cy="322.0" r="8.5"/><circle cx="391.2" cy="317.8" r="8.5"/><circle cx="396.8" cy="319.4" r="8.5"/><circle cx="393.6" cy="315.2" r="8.5"/><circle cx="399.2" cy="316.8" r="8.5"/><circle cx="396.0" cy="312.6" r="8.5"/><circle cx="401.6" cy="314.2" r="8.5"/><circle cx="398.4" cy="310.0" r="8.5"/><circle cx="404.0" cy="311.6" r="8.5"/><circle cx="400.8" cy="307.4" r="8.5"/><circle cx="413.4" cy="299.7" r="8.5"/><circle cx="410.2" cy="295.5" r="8.5"/><circle cx="423.7" cy="292.2" r="8.5"/><circle cx="420.5" cy="288.0" r="8.5"/><circle cx="434.9" cy="283.4" r="8.5"/><circle cx="431.7" cy="279.2" r="8.5"/><circle cx="330.0" cy="354.5" r="8.5"/><circle cx="332.5" cy="356.9" r="8.5"/><circle cx="335.0" cy="359.2" r="8.5"/><circle cx="337.5" cy="361.6" r="8.5"/><circle cx="340.0" cy="364.0" r="8.5"/><circle cx="342.0" cy="366.5" r="8.5"/><circle cx="344.0" cy="369.0" r="8.5"/><circle cx="346.0" cy="371.5" r="8.5"/><circle cx="348.0" cy="374.0" r="8.5"/><circle cx="349.6" cy="376.8" r="8.5"/><circle cx="351.3" cy="379.5" r="8.5"/><circle cx="352.9" cy="382.3" r="8.5"/><circle cx="355.0" cy="378.0" r="8.5"/><circle cx="356.8" cy="375.0" r="8.5"/><circle cx="358.6" cy="371.9" r="8.5"/><circle cx="360.4" cy="368.9" r="8.5"/><circle cx="362.3" cy="365.9" r="8.5"/><circle cx="364.1" cy="362.8" r="8.5"/><circle cx="365.9" cy="359.8" r="8.5"/><circle cx="367.9" cy="356.7" r="8.5"/><circle cx="369.9" cy="353.5" r="8.5"/><circle cx="371.9" cy="350.4" r="8.5"/><circle cx="373.9" cy="347.2" r="8.5"/><circle cx="375.9" cy="344.1" r="8.5"/><circle cx="377.9" cy="340.9" r="8.5"/><circle cx="379.9" cy="337.8" r="8.5"/><circle cx="382.0" cy="334.8" r="8.5"/><circle cx="384.2" cy="331.8" r="8.5"/><circle cx="386.4" cy="328.9" r="8.5"/><circle cx="388.5" cy="325.9" r="8.5"/><circle cx="390.6" cy="322.9" r="8.5"/><circle cx="392.8" cy="319.9" r="8.5"/><circle cx="395.2" cy="317.3" r="8.5"/><circle cx="397.6" cy="314.7" r="8.5"/><circle cx="400.0" cy="312.1" r="8.5"/><circle cx="402.4" cy="309.5" r="8.5"/><circle cx="411.8" cy="297.6" r="8.5"/><circle cx="422.1" cy="290.1" r="8.5"/><circle cx="433.3" cy="281.3" r="8.5"/><circle cx="445.7" cy="273.3" r="8.5"/><circle cx="457.7" cy="264.7" r="8.5"/><circle cx="470.6" cy="255.3" r="8.5"/><circle cx="485.6" cy="244.8" r="8.5"/><circle cx="500.6" cy="233.4" r="8.5"/><circle cx="518.5" cy="219.8" r="8.5"/><circle cx="539.5" cy="206.9" r="8.5"/><circle cx="564.4" cy="191.9" r="8.5"/><circle cx="593.4" cy="178.9" r="8.5"/><circle cx="627.3" cy="168.9" r="8.5"/><circle cx="663.9" cy="163.5" r="8.5"/><circle cx="701.8" cy="163.5" r="8.5"/><circle cx="739.1" cy="167.9" r="8.5"/><circle cx="774.7" cy="177.9" r="8.5"/><circle cx="806.6" cy="192.9" r="8.5"/><circle cx="833.5" cy="210.8" r="8.5"/><circle cx="855.9" cy="229.2" r="8.5"/><circle cx="872.4" cy="248.8" r="8.5"/><circle cx="886.4" cy="266.7" r="8.5"/><circle cx="897.4" cy="282.7" r="8.5"/><circle cx="904.4" cy="298.7" r="8.5"/><circle cx="910.4" cy="311.6" r="8.5"/><circle cx="914.4" cy="323.6" r="8.5"/></g>
<path d="M330 354.5C330.42 354.9 331.67 356.08 332.5 356.88C333.33 357.67 334.17 358.46 335 359.25C335.83 360.04 336.67 360.83 337.5 361.62C338.33 362.42 339.25 363.19 340 364C340.75 364.81 341.33 365.67 342 366.5C342.67 367.33 343.33 368.17 344 369C344.67 369.83 345.33 370.67 346 371.5C346.67 372.33 347.39 373.12 348 374C348.61 374.88 349.09 375.84 349.63 376.77C350.18 377.69 350.72 378.61 351.27 379.53C351.81 380.46 352.28 382.56 352.9 382.3C353.52 382.04 354.35 379.22 355 378C355.65 376.78 356.21 375.98 356.82 374.97C357.42 373.96 358.03 372.94 358.63 371.93C359.24 370.92 359.84 369.91 360.45 368.9C361.06 367.89 361.66 366.88 362.27 365.87C362.87 364.86 363.48 363.84 364.08 362.83C364.69 361.82 365.26 360.83 365.9 359.8C366.54 358.77 367.23 357.7 367.9 356.66C368.57 355.61 369.23 354.56 369.9 353.51C370.57 352.47 371.23 351.42 371.9 350.37C372.57 349.32 373.23 348.28 373.9 347.23C374.57 346.18 375.23 345.13 375.9 344.09C376.57 343.04 377.23 341.99 377.9 340.94C378.57 339.9 379.21 338.82 379.9 337.8C380.59 336.78 381.33 335.81 382.05 334.82C382.77 333.82 383.48 332.83 384.2 331.83C384.92 330.84 385.63 329.84 386.35 328.85C387.07 327.86 387.78 326.86 388.5 325.87C389.22 324.87 389.93 323.88 390.65 322.88C391.37 321.89 392.04 320.83 392.8 319.9C393.56 318.97 394.4 318.17 395.2 317.3C396 316.43 396.8 315.57 397.6 314.7C398.4 313.83 399.2 312.97 400 312.1C400.8 311.23 400.43 311.92 402.4 309.5C404.37 307.08 408.52 300.83 411.8 297.6C415.08 294.37 418.52 292.82 422.1 290.1C425.68 287.38 429.37 284.1 433.3 281.3C437.23 278.5 441.63 276.07 445.7 273.3C449.77 270.53 453.55 267.7 457.7 264.7C461.85 261.7 465.95 258.62 470.6 255.3C475.25 251.98 480.6 248.45 485.6 244.8C490.6 241.15 495.12 237.57 500.6 233.4C506.08 229.23 512.02 224.22 518.5 219.8C524.98 215.38 531.85 211.55 539.5 206.9C547.15 202.25 555.42 196.57 564.4 191.9C573.38 187.23 582.92 182.73 593.4 178.9C603.88 175.07 615.55 171.47 627.3 168.9C639.05 166.33 651.48 164.4 663.9 163.5C676.32 162.6 689.27 162.77 701.8 163.5C714.33 164.23 726.95 165.5 739.1 167.9C751.25 170.3 763.45 173.73 774.7 177.9C785.95 182.07 796.8 187.42 806.6 192.9C816.4 198.38 825.28 204.75 833.5 210.8C841.72 216.85 849.42 222.87 855.9 229.2C862.38 235.53 867.32 242.55 872.4 248.8C877.48 255.05 882.23 261.05 886.4 266.7C890.57 272.35 894.4 277.37 897.4 282.7C900.4 288.03 902.23 293.88 904.4 298.7C906.57 303.52 908.73 307.45 910.4 311.6C912.07 315.75 913.73 321.6 914.4 323.6" fill="none" stroke="#aea8fe" stroke-width="6" stroke-linejoin="round" stroke-linecap="round"/>
<g fill="#aea8fe"><circle cx="331.6" cy="356.6" r="7.6"/><circle cx="328.4" cy="352.4" r="7.6"/><circle cx="334.1" cy="359.0" r="7.6"/><circle cx="330.9" cy="354.8" r="7.6"/><circle cx="336.6" cy="361.4" r="7.6"/><circle cx="333.4" cy="357.1" r="7.6"/><circle cx="339.1" cy="363.7" r="7.6"/><circle cx="335.9" cy="359.5" r="7.6"/><circle cx="341.6" cy="366.1" r="7.6"/><circle cx="338.4" cy="361.9" r="7.6"/><circle cx="343.6" cy="368.6" r="7.6"/><circle cx="340.4" cy="364.4" r="7.6"/><circle cx="345.6" cy="371.1" r="7.6"/><circle cx="342.4" cy="366.9" r="7.6"/><circle cx="347.6" cy="373.6" r="7.6"/><circle cx="344.4" cy="369.4" r="7.6"/><circle cx="349.6" cy="376.1" r="7.6"/><circle cx="346.4" cy="371.9" r="7.6"/><circle cx="351.2" cy="378.9" r="7.6"/><circle cx="348.0" cy="374.7" r="7.6"/><circle cx="352.9" cy="381.6" r="7.6"/><circle cx="349.7" cy="377.4" r="7.6"/><circle cx="354.5" cy="384.4" r="7.6"/><circle cx="351.3" cy="380.2" r="7.6"/><circle cx="356.6" cy="380.1" r="7.6"/><circle cx="353.4" cy="375.9" r="7.6"/><circle cx="358.4" cy="377.1" r="7.6"/><circle cx="355.2" cy="372.9" r="7.6"/><circle cx="360.2" cy="374.0" r="7.6"/><circle cx="357.0" cy="369.8" r="7.6"/><circle cx="362.1" cy="371.0" r="7.6"/><circle cx="358.8" cy="366.8" r="7.6"/><circle cx="363.9" cy="368.0" r="7.6"/><circle cx="360.7" cy="363.8" r="7.6"/><circle cx="365.7" cy="364.9" r="7.6"/><circle cx="362.5" cy="360.7" r="7.6"/><circle cx="367.5" cy="361.9" r="7.6"/><circle cx="364.3" cy="357.7" r="7.6"/><circle cx="369.5" cy="358.8" r="7.6"/><circle cx="366.3" cy="354.6" r="7.6"/><circle cx="371.5" cy="355.6" r="7.6"/><circle cx="368.3" cy="351.4" r="7.6"/><circle cx="373.5" cy="352.5" r="7.6"/><circle cx="370.3" cy="348.3" r="7.6"/><circle cx="375.5" cy="349.3" r="7.6"/><circle cx="372.3" cy="345.1" r="7.6"/><circle cx="377.5" cy="346.2" r="7.6"/><circle cx="374.3" cy="342.0" r="7.6"/><circle cx="379.5" cy="343.0" r="7.6"/><circle cx="376.3" cy="338.8" r="7.6"/><circle cx="381.5" cy="339.9" r="7.6"/><circle cx="378.3" cy="335.7" r="7.6"/><circle cx="383.6" cy="336.9" r="7.6"/><circle cx="380.4" cy="332.7" r="7.6"/><circle cx="385.8" cy="333.9" r="7.6"/><circle cx="382.6" cy="329.7" r="7.6"/><circle cx="388.0" cy="331.0" r="7.6"/><circle cx="384.8" cy="326.8" r="7.6"/><circle cx="390.1" cy="328.0" r="7.6"/><circle cx="386.9" cy="323.8" r="7.6"/><circle cx="392.2" cy="325.0" r="7.6"/><circle cx="389.0" cy="320.8" r="7.6"/><circle cx="394.4" cy="322.0" r="7.6"/><circle cx="391.2" cy="317.8" r="7.6"/><circle cx="396.8" cy="319.4" r="7.6"/><circle cx="393.6" cy="315.2" r="7.6"/><circle cx="399.2" cy="316.8" r="7.6"/><circle cx="396.0" cy="312.6" r="7.6"/><circle cx="401.6" cy="314.2" r="7.6"/><circle cx="398.4" cy="310.0" r="7.6"/><circle cx="404.0" cy="311.6" r="7.6"/><circle cx="400.8" cy="307.4" r="7.6"/><circle cx="413.4" cy="299.7" r="7.6"/><circle cx="410.2" cy="295.5" r="7.6"/><circle cx="423.7" cy="292.2" r="7.6"/><circle cx="420.5" cy="288.0" r="7.6"/><circle cx="434.9" cy="283.4" r="7.6"/><circle cx="431.7" cy="279.2" r="7.6"/><circle cx="330.0" cy="354.5" r="7.6"/><circle cx="332.5" cy="356.9" r="7.6"/><circle cx="335.0" cy="359.2" r="7.6"/><circle cx="337.5" cy="361.6" r="7.6"/><circle cx="340.0" cy="364.0" r="7.6"/><circle cx="342.0" cy="366.5" r="7.6"/><circle cx="344.0" cy="369.0" r="7.6"/><circle cx="346.0" cy="371.5" r="7.6"/><circle cx="348.0" cy="374.0" r="7.6"/><circle cx="349.6" cy="376.8" r="7.6"/><circle cx="351.3" cy="379.5" r="7.6"/><circle cx="352.9" cy="382.3" r="7.6"/><circle cx="355.0" cy="378.0" r="7.6"/><circle cx="356.8" cy="375.0" r="7.6"/><circle cx="358.6" cy="371.9" r="7.6"/><circle cx="360.4" cy="368.9" r="7.6"/><circle cx="362.3" cy="365.9" r="7.6"/><circle cx="364.1" cy="362.8" r="7.6"/><circle cx="365.9" cy="359.8" r="7.6"/><circle cx="367.9" cy="356.7" r="7.6"/><circle cx="369.9" cy="353.5" r="7.6"/><circle cx="371.9" cy="350.4" r="7.6"/><circle cx="373.9" cy="347.2" r="7.6"/><circle cx="375.9" cy="344.1" r="7.6"/><circle cx="377.9" cy="340.9" r="7.6"/><circle cx="379.9" cy="337.8" r="7.6"/><circle cx="382.0" cy="334.8" r="7.6"/><circle cx="384.2" cy="331.8" r="7.6"/><circle cx="386.4" cy="328.9" r="7.6"/><circle cx="388.5" cy="325.9" r="7.6"/><circle cx="390.6" cy="322.9" r="7.6"/><circle cx="392.8" cy="319.9" r="7.6"/><circle cx="395.2" cy="317.3" r="7.6"/><circle cx="397.6" cy="314.7" r="7.6"/><circle cx="400.0" cy="312.1" r="7.6"/><circle cx="402.4" cy="309.5" r="7.6"/><circle cx="411.8" cy="297.6" r="7.6"/><circle cx="422.1" cy="290.1" r="7.6"/><circle cx="433.3" cy="281.3" r="7.6"/><circle cx="445.7" cy="273.3" r="7.6"/><circle cx="457.7" cy="264.7" r="7.6"/><circle cx="470.6" cy="255.3" r="7.6"/><circle cx="485.6" cy="244.8" r="7.6"/><circle cx="500.6" cy="233.4" r="7.6"/><circle cx="518.5" cy="219.8" r="7.6"/><circle cx="539.5" cy="206.9" r="7.6"/><circle cx="564.4" cy="191.9" r="7.6"/><circle cx="593.4" cy="178.9" r="7.6"/><circle cx="627.3" cy="168.9" r="7.6"/><circle cx="663.9" cy="163.5" r="7.6"/><circle cx="701.8" cy="163.5" r="7.6"/><circle cx="739.1" cy="167.9" r="7.6"/><circle cx="774.7" cy="177.9" r="7.6"/><circle cx="806.6" cy="192.9" r="7.6"/><circle cx="833.5" cy="210.8" r="7.6"/><circle cx="855.9" cy="229.2" r="7.6"/><circle cx="872.4" cy="248.8" r="7.6"/><circle cx="886.4" cy="266.7" r="7.6"/><circle cx="897.4" cy="282.7" r="7.6"/><circle cx="904.4" cy="298.7" r="7.6"/><circle cx="910.4" cy="311.6" r="7.6"/><circle cx="914.4" cy="323.6" r="7.6"/></g>
<g fill="#8b86f6"><circle cx="330.0" cy="354.5" r="1.1"/><circle cx="332.5" cy="356.9" r="1.1"/><circle cx="335.0" cy="359.2" r="1.1"/><circle cx="337.5" cy="361.6" r="1.1"/><circle cx="340.0" cy="364.0" r="1.1"/><circle cx="342.0" cy="366.5" r="1.1"/><circle cx="344.0" cy="369.0" r="1.1"/><circle cx="346.0" cy="371.5" r="1.1"/><circle cx="348.0" cy="374.0" r="1.1"/><circle cx="349.6" cy="376.8" r="1.1"/><circle cx="351.3" cy="379.5" r="1.1"/><circle cx="352.9" cy="382.3" r="1.1"/><circle cx="355.0" cy="378.0" r="1.1"/><circle cx="356.8" cy="375.0" r="1.1"/><circle cx="358.6" cy="371.9" r="1.1"/><circle cx="360.4" cy="368.9" r="1.1"/><circle cx="362.3" cy="365.9" r="1.1"/><circle cx="364.1" cy="362.8" r="1.1"/><circle cx="365.9" cy="359.8" r="1.1"/><circle cx="367.9" cy="356.7" r="1.1"/><circle cx="369.9" cy="353.5" r="1.1"/><circle cx="371.9" cy="350.4" r="1.1"/><circle cx="373.9" cy="347.2" r="1.1"/><circle cx="375.9" cy="344.1" r="1.1"/><circle cx="377.9" cy="340.9" r="1.1"/><circle cx="379.9" cy="337.8" r="1.1"/><circle cx="382.0" cy="334.8" r="1.1"/><circle cx="384.2" cy="331.8" r="1.1"/><circle cx="386.4" cy="328.9" r="1.1"/><circle cx="388.5" cy="325.9" r="1.1"/><circle cx="390.6" cy="322.9" r="1.1"/><circle cx="392.8" cy="319.9" r="1.1"/><circle cx="395.2" cy="317.3" r="1.1"/><circle cx="397.6" cy="314.7" r="1.1"/><circle cx="400.0" cy="312.1" r="1.1"/><circle cx="402.4" cy="309.5" r="1.1"/><circle cx="411.8" cy="297.6" r="1.1"/><circle cx="422.1" cy="290.1" r="1.1"/><circle cx="433.3" cy="281.3" r="1.1"/><circle cx="445.7" cy="273.3" r="1.1"/><circle cx="457.7" cy="264.7" r="1.1"/><circle cx="470.6" cy="255.3" r="1.1"/><circle cx="485.6" cy="244.8" r="1.1"/><circle cx="500.6" cy="233.4" r="1.1"/><circle cx="518.5" cy="219.8" r="1.1"/><circle cx="539.5" cy="206.9" r="1.1"/><circle cx="564.4" cy="191.9" r="1.1"/><circle cx="593.4" cy="178.9" r="1.1"/><circle cx="627.3" cy="168.9" r="1.1"/><circle cx="663.9" cy="163.5" r="1.1"/><circle cx="701.8" cy="163.5" r="1.1"/><circle cx="739.1" cy="167.9" r="1.1"/><circle cx="774.7" cy="177.9" r="1.1"/><circle cx="806.6" cy="192.9" r="1.1"/><circle cx="833.5" cy="210.8" r="1.1"/><circle cx="855.9" cy="229.2" r="1.1"/><circle cx="872.4" cy="248.8" r="1.1"/><circle cx="886.4" cy="266.7" r="1.1"/><circle cx="897.4" cy="282.7" r="1.1"/><circle cx="904.4" cy="298.7" r="1.1"/><circle cx="910.4" cy="311.6" r="1.1"/><circle cx="914.4" cy="323.6" r="1.1"/></g>
</g>
<g clip-path="url(#clipc)">
<path d="M224.9 961.6C225.32 962.13 226.6 963.73 227.45 964.8C228.3 965.87 229.25 967.04 230 968C230.75 968.96 231.31 969.69 231.97 970.53C232.62 971.38 233.28 972.22 233.93 973.07C234.59 973.91 234.89 976.44 235.9 975.6C236.91 974.76 238.99 969.81 240 968C241.01 966.19 241.32 965.83 241.98 964.74C242.64 963.65 243.3 962.57 243.96 961.48C244.62 960.39 245.28 959.31 245.94 958.22C246.6 957.13 247.26 956.05 247.92 954.96C248.58 953.87 249.19 952.72 249.9 951.7C250.61 950.68 251.42 949.8 252.19 948.84C252.95 947.89 253.71 946.94 254.47 945.99C255.23 945.03 256 944.08 256.76 943.13C257.52 942.18 258.28 941.22 259.04 940.27C259.8 939.32 260.57 938.37 261.33 937.41C262.09 936.46 262.85 935.51 263.61 934.56C264.38 933.6 265.06 932.51 265.9 931.7C266.74 930.89 267.75 930.37 268.68 929.7C269.61 929.03 270.53 928.37 271.46 927.7C272.39 927.03 273.31 926.37 274.24 925.7C275.17 925.03 276.09 924.37 277.02 923.7C277.95 923.03 278.8 922.33 279.8 921.7C280.8 921.07 281.93 920.51 283 919.92C284.07 919.33 285.13 918.73 286.2 918.14C287.27 917.55 288.33 916.95 289.4 916.36C290.47 915.77 291.53 915.17 292.6 914.58C293.67 913.99 294.73 913.43 295.8 912.8C296.87 912.17 297.93 911.47 299 910.8C300.07 910.13 301.13 909.47 302.2 908.8C303.27 908.13 304.33 907.47 305.4 906.8C306.47 906.13 305.55 906.97 308.6 904.8C311.65 902.63 319.35 896.97 323.7 893.8C328.05 890.63 331.03 888.47 334.7 885.8C338.37 883.13 342.03 880.3 345.7 877.8C349.37 875.3 352.55 873.45 356.7 870.8C360.85 868.15 365.62 864.88 370.6 861.9C375.58 858.92 380.78 855.73 386.6 852.9C392.42 850.07 398.75 847.47 405.5 844.9C412.25 842.33 419.8 839.05 427.1 837.5C434.4 835.95 441.87 836.05 449.31 835.62C456.75 835.19 464.11 834.57 471.75 834.9C479.4 835.24 487.64 836.27 495.17 837.6C502.7 838.93 510.14 840.79 516.93 842.88C523.72 844.97 529.65 847.63 535.94 850.12C542.24 852.62 548.82 855.2 554.7 857.86C560.58 860.52 566.22 863.18 571.2 866.07C576.18 868.96 580.2 872.28 584.6 875.2C589 878.12 593.43 880.7 597.6 883.6C601.77 886.5 605.93 889.68 609.6 892.6C613.27 895.52 616.62 898.43 619.6 901.1C622.58 903.77 625.02 906.02 627.5 908.6C629.98 911.18 632.5 914.02 634.5 916.6C636.5 919.18 637.92 921.62 639.5 924.1C641.08 926.58 643.25 930.27 644 931.5" fill="none" stroke="#0000ee" stroke-width="6" stroke-linejoin="round" stroke-linecap="round"/>
<g fill="#0000ee"><circle cx="224.9" cy="961.6" r="7.6"/><circle cx="227.4" cy="964.8" r="7.6"/><circle cx="230.0" cy="968.0" r="7.6"/><circle cx="232.0" cy="970.5" r="7.6"/><circle cx="233.9" cy="973.1" r="7.6"/><circle cx="235.9" cy="975.6" r="7.6"/><circle cx="240.0" cy="968.0" r="7.6"/><circle cx="242.0" cy="964.7" r="7.6"/><circle cx="244.0" cy="961.5" r="7.6"/><circle cx="245.9" cy="958.2" r="7.6"/><circle cx="247.9" cy="955.0" r="7.6"/><circle cx="249.9" cy="951.7" r="7.6"/><circle cx="252.2" cy="948.8" r="7.6"/><circle cx="254.5" cy="946.0" r="7.6"/><circle cx="256.8" cy="943.1" r="7.6"/><circle cx="259.0" cy="940.3" r="7.6"/><circle cx="261.3" cy="937.4" r="7.6"/><circle cx="263.6" cy="934.6" r="7.6"/><circle cx="265.9" cy="931.7" r="7.6"/><circle cx="268.7" cy="929.7" r="7.6"/><circle cx="271.5" cy="927.7" r="7.6"/><circle cx="274.2" cy="925.7" r="7.6"/><circle cx="277.0" cy="923.7" r="7.6"/><circle cx="279.8" cy="921.7" r="7.6"/><circle cx="283.0" cy="919.9" r="7.6"/><circle cx="286.2" cy="918.1" r="7.6"/><circle cx="289.4" cy="916.4" r="7.6"/><circle cx="292.6" cy="914.6" r="7.6"/><circle cx="295.8" cy="912.8" r="7.6"/><circle cx="299.0" cy="910.8" r="7.6"/><circle cx="302.2" cy="908.8" r="7.6"/><circle cx="305.4" cy="906.8" r="7.6"/><circle cx="308.6" cy="904.8" r="7.6"/><circle cx="323.7" cy="893.8" r="7.6"/><circle cx="334.7" cy="885.8" r="7.6"/><circle cx="345.7" cy="877.8" r="7.6"/><circle cx="356.7" cy="870.8" r="7.6"/><circle cx="370.6" cy="861.9" r="7.6"/><circle cx="386.6" cy="852.9" r="7.6"/><circle cx="405.5" cy="844.9" r="7.6"/><circle cx="427.1" cy="837.5" r="7.6"/><circle cx="449.3" cy="835.6" r="7.6"/><circle cx="471.8" cy="834.9" r="7.6"/><circle cx="495.2" cy="837.6" r="7.6"/><circle cx="516.9" cy="842.9" r="7.6"/><circle cx="535.9" cy="850.1" r="7.6"/><circle cx="554.7" cy="857.9" r="7.6"/><circle cx="571.2" cy="866.1" r="7.6"/><circle cx="584.6" cy="875.2" r="7.6"/><circle cx="597.6" cy="883.6" r="7.6"/><circle cx="609.6" cy="892.6" r="7.6"/><circle cx="619.6" cy="901.1" r="7.6"/><circle cx="627.5" cy="908.6" r="7.6"/><circle cx="634.5" cy="916.6" r="7.6"/><circle cx="639.5" cy="924.1" r="7.6"/><circle cx="644.0" cy="931.5" r="7.6"/></g>
<path d="M224.9 961.6C225.32 962.13 226.6 963.73 227.45 964.8C228.3 965.87 229.25 967.04 230 968C230.75 968.96 231.31 969.69 231.97 970.53C232.62 971.38 233.28 972.22 233.93 973.07C234.59 973.91 234.89 976.44 235.9 975.6C236.91 974.76 238.99 969.81 240 968C241.01 966.19 241.32 965.83 241.98 964.74C242.64 963.65 243.3 962.57 243.96 961.48C244.62 960.39 245.28 959.31 245.94 958.22C246.6 957.13 247.26 956.05 247.92 954.96C248.58 953.87 249.19 952.72 249.9 951.7C250.61 950.68 251.42 949.8 252.19 948.84C252.95 947.89 253.71 946.94 254.47 945.99C255.23 945.03 256 944.08 256.76 943.13C257.52 942.18 258.28 941.22 259.04 940.27C259.8 939.32 260.57 938.37 261.33 937.41C262.09 936.46 262.85 935.51 263.61 934.56C264.38 933.6 265.06 932.51 265.9 931.7C266.74 930.89 267.75 930.37 268.68 929.7C269.61 929.03 270.53 928.37 271.46 927.7C272.39 927.03 273.31 926.37 274.24 925.7C275.17 925.03 276.09 924.37 277.02 923.7C277.95 923.03 278.8 922.33 279.8 921.7C280.8 921.07 281.93 920.51 283 919.92C284.07 919.33 285.13 918.73 286.2 918.14C287.27 917.55 288.33 916.95 289.4 916.36C290.47 915.77 291.53 915.17 292.6 914.58C293.67 913.99 294.73 913.43 295.8 912.8C296.87 912.17 297.93 911.47 299 910.8C300.07 910.13 301.13 909.47 302.2 908.8C303.27 908.13 304.33 907.47 305.4 906.8C306.47 906.13 305.55 906.97 308.6 904.8C311.65 902.63 319.35 896.97 323.7 893.8C328.05 890.63 331.03 888.47 334.7 885.8C338.37 883.13 342.03 880.3 345.7 877.8C349.37 875.3 352.55 873.45 356.7 870.8C360.85 868.15 365.62 864.88 370.6 861.9C375.58 858.92 380.78 855.73 386.6 852.9C392.42 850.07 398.75 847.47 405.5 844.9C412.25 842.33 419.77 839.23 427.1 837.5C434.43 835.77 441.95 835.17 449.5 834.5C457.05 833.83 464.6 833.27 472.4 833.5C480.2 833.73 488.62 834.67 496.3 835.9C503.98 837.13 511.57 838.9 518.5 840.9C525.43 842.9 531.5 845.48 537.9 847.9C544.3 850.32 550.98 852.82 556.9 855.4C562.82 857.98 568.42 860.57 573.4 863.4C578.38 866.23 582.4 869.5 586.8 872.4C591.2 875.3 595.63 877.9 599.8 880.8C603.97 883.7 608.13 886.88 611.8 889.8C615.47 892.72 618.82 895.63 621.8 898.3C624.78 900.97 627.22 903.22 629.7 905.8C632.18 908.38 634.7 911.22 636.7 913.8C638.7 916.38 640.12 918.82 641.7 921.3C643.28 923.78 645.45 927.47 646.2 928.7" fill="none" stroke="#938df8" stroke-width="7.8" stroke-linejoin="round" stroke-linecap="round"/>
<g fill="#938df8"><circle cx="226.5" cy="963.7" r="8.5"/><circle cx="223.3" cy="959.5" r="8.5"/><circle cx="229.0" cy="966.9" r="8.5"/><circle cx="225.8" cy="962.7" r="8.5"/><circle cx="231.6" cy="970.1" r="8.5"/><circle cx="228.4" cy="965.9" r="8.5"/><circle cx="233.6" cy="972.6" r="8.5"/><circle cx="230.4" cy="968.4" r="8.5"/><circle cx="235.5" cy="975.2" r="8.5"/><circle cx="232.3" cy="971.0" r="8.5"/><circle cx="237.5" cy="977.7" r="8.5"/><circle cx="234.3" cy="973.5" r="8.5"/><circle cx="241.6" cy="970.1" r="8.5"/><circle cx="238.4" cy="965.9" r="8.5"/><circle cx="243.6" cy="966.8" r="8.5"/><circle cx="240.4" cy="962.6" r="8.5"/><circle cx="245.6" cy="963.6" r="8.5"/><circle cx="242.4" cy="959.4" r="8.5"/><circle cx="247.5" cy="960.3" r="8.5"/><circle cx="244.3" cy="956.1" r="8.5"/><circle cx="249.5" cy="957.1" r="8.5"/><circle cx="246.3" cy="952.9" r="8.5"/><circle cx="251.5" cy="953.8" r="8.5"/><circle cx="248.3" cy="949.6" r="8.5"/><circle cx="253.8" cy="950.9" r="8.5"/><circle cx="250.6" cy="946.7" r="8.5"/><circle cx="256.1" cy="948.1" r="8.5"/><circle cx="252.9" cy="943.9" r="8.5"/><circle cx="258.4" cy="945.2" r="8.5"/><circle cx="255.2" cy="941.0" r="8.5"/><circle cx="260.6" cy="942.4" r="8.5"/><circle cx="257.4" cy="938.2" r="8.5"/><circle cx="262.9" cy="939.5" r="8.5"/><circle cx="259.7" cy="935.3" r="8.5"/><circle cx="265.2" cy="936.7" r="8.5"/><circle cx="262.0" cy="932.5" r="8.5"/><circle cx="267.5" cy="933.8" r="8.5"/><circle cx="264.3" cy="929.6" r="8.5"/><circle cx="270.3" cy="931.8" r="8.5"/><circle cx="267.1" cy="927.6" r="8.5"/><circle cx="273.1" cy="929.8" r="8.5"/><circle cx="269.9" cy="925.6" r="8.5"/><circle cx="275.8" cy="927.8" r="8.5"/><circle cx="272.6" cy="923.6" r="8.5"/><circle cx="278.6" cy="925.8" r="8.5"/><circle cx="275.4" cy="921.6" r="8.5"/><circle cx="281.4" cy="923.8" r="8.5"/><circle cx="278.2" cy="919.6" r="8.5"/><circle cx="284.6" cy="922.0" r="8.5"/><circle cx="281.4" cy="917.8" r="8.5"/><circle cx="287.8" cy="920.2" r="8.5"/><circle cx="284.6" cy="916.0" r="8.5"/><circle cx="291.0" cy="918.5" r="8.5"/><circle cx="287.8" cy="914.3" r="8.5"/><circle cx="294.2" cy="916.7" r="8.5"/><circle cx="291.0" cy="912.5" r="8.5"/><circle cx="297.4" cy="914.9" r="8.5"/><circle cx="294.2" cy="910.7" r="8.5"/><circle cx="300.6" cy="912.9" r="8.5"/><circle cx="297.4" cy="908.7" r="8.5"/><circle cx="303.8" cy="910.9" r="8.5"/><circle cx="300.6" cy="906.7" r="8.5"/><circle cx="307.0" cy="908.9" r="8.5"/><circle cx="303.8" cy="904.7" r="8.5"/><circle cx="310.2" cy="906.9" r="8.5"/><circle cx="307.0" cy="902.7" r="8.5"/><circle cx="325.3" cy="895.9" r="8.5"/><circle cx="322.1" cy="891.7" r="8.5"/><circle cx="336.3" cy="887.9" r="8.5"/><circle cx="333.1" cy="883.7" r="8.5"/><circle cx="224.9" cy="961.6" r="8.5"/><circle cx="227.4" cy="964.8" r="8.5"/><circle cx="230.0" cy="968.0" r="8.5"/><circle cx="232.0" cy="970.5" r="8.5"/><circle cx="233.9" cy="973.1" r="8.5"/><circle cx="235.9" cy="975.6" r="8.5"/><circle cx="240.0" cy="968.0" r="8.5"/><circle cx="242.0" cy="964.7" r="8.5"/><circle cx="244.0" cy="961.5" r="8.5"/><circle cx="245.9" cy="958.2" r="8.5"/><circle cx="247.9" cy="955.0" r="8.5"/><circle cx="249.9" cy="951.7" r="8.5"/><circle cx="252.2" cy="948.8" r="8.5"/><circle cx="254.5" cy="946.0" r="8.5"/><circle cx="256.8" cy="943.1" r="8.5"/><circle cx="259.0" cy="940.3" r="8.5"/><circle cx="261.3" cy="937.4" r="8.5"/><circle cx="263.6" cy="934.6" r="8.5"/><circle cx="265.9" cy="931.7" r="8.5"/><circle cx="268.7" cy="929.7" r="8.5"/><circle cx="271.5" cy="927.7" r="8.5"/><circle cx="274.2" cy="925.7" r="8.5"/><circle cx="277.0" cy="923.7" r="8.5"/><circle cx="279.8" cy="921.7" r="8.5"/><circle cx="283.0" cy="919.9" r="8.5"/><circle cx="286.2" cy="918.1" r="8.5"/><circle cx="289.4" cy="916.4" r="8.5"/><circle cx="292.6" cy="914.6" r="8.5"/><circle cx="295.8" cy="912.8" r="8.5"/><circle cx="299.0" cy="910.8" r="8.5"/><circle cx="302.2" cy="908.8" r="8.5"/><circle cx="305.4" cy="906.8" r="8.5"/><circle cx="308.6" cy="904.8" r="8.5"/><circle cx="323.7" cy="893.8" r="8.5"/><circle cx="334.7" cy="885.8" r="8.5"/><circle cx="345.7" cy="877.8" r="8.5"/><circle cx="356.7" cy="870.8" r="8.5"/><circle cx="370.6" cy="861.9" r="8.5"/><circle cx="386.6" cy="852.9" r="8.5"/><circle cx="405.5" cy="844.9" r="8.5"/><circle cx="427.1" cy="837.5" r="8.5"/><circle cx="449.5" cy="834.5" r="8.5"/><circle cx="472.4" cy="833.5" r="8.5"/><circle cx="496.3" cy="835.9" r="8.5"/><circle cx="518.5" cy="840.9" r="8.5"/><circle cx="537.9" cy="847.9" r="8.5"/><circle cx="556.9" cy="855.4" r="8.5"/><circle cx="573.4" cy="863.4" r="8.5"/><circle cx="586.8" cy="872.4" r="8.5"/><circle cx="599.8" cy="880.8" r="8.5"/><circle cx="611.8" cy="889.8" r="8.5"/><circle cx="621.8" cy="898.3" r="8.5"/><circle cx="629.7" cy="905.8" r="8.5"/><circle cx="636.7" cy="913.8" r="8.5"/><circle cx="641.7" cy="921.3" r="8.5"/><circle cx="646.2" cy="928.7" r="8.5"/></g>
<path d="M224.9 961.6C225.32 962.13 226.6 963.73 227.45 964.8C228.3 965.87 229.25 967.04 230 968C230.75 968.96 231.31 969.69 231.97 970.53C232.62 971.38 233.28 972.22 233.93 973.07C234.59 973.91 234.89 976.44 235.9 975.6C236.91 974.76 238.99 969.81 240 968C241.01 966.19 241.32 965.83 241.98 964.74C242.64 963.65 243.3 962.57 243.96 961.48C244.62 960.39 245.28 959.31 245.94 958.22C246.6 957.13 247.26 956.05 247.92 954.96C248.58 953.87 249.19 952.72 249.9 951.7C250.61 950.68 251.42 949.8 252.19 948.84C252.95 947.89 253.71 946.94 254.47 945.99C255.23 945.03 256 944.08 256.76 943.13C257.52 942.18 258.28 941.22 259.04 940.27C259.8 939.32 260.57 938.37 261.33 937.41C262.09 936.46 262.85 935.51 263.61 934.56C264.38 933.6 265.06 932.51 265.9 931.7C266.74 930.89 267.75 930.37 268.68 929.7C269.61 929.03 270.53 928.37 271.46 927.7C272.39 927.03 273.31 926.37 274.24 925.7C275.17 925.03 276.09 924.37 277.02 923.7C277.95 923.03 278.8 922.33 279.8 921.7C280.8 921.07 281.93 920.51 283 919.92C284.07 919.33 285.13 918.73 286.2 918.14C287.27 917.55 288.33 916.95 289.4 916.36C290.47 915.77 291.53 915.17 292.6 914.58C293.67 913.99 294.73 913.43 295.8 912.8C296.87 912.17 297.93 911.47 299 910.8C300.07 910.13 301.13 909.47 302.2 908.8C303.27 908.13 304.33 907.47 305.4 906.8C306.47 906.13 305.55 906.97 308.6 904.8C311.65 902.63 319.35 896.97 323.7 893.8C328.05 890.63 331.03 888.47 334.7 885.8C338.37 883.13 342.03 880.3 345.7 877.8C349.37 875.3 352.55 873.45 356.7 870.8C360.85 868.15 365.62 864.88 370.6 861.9C375.58 858.92 380.78 855.73 386.6 852.9C392.42 850.07 398.75 847.47 405.5 844.9C412.25 842.33 419.77 839.23 427.1 837.5C434.43 835.77 441.95 835.17 449.5 834.5C457.05 833.83 464.6 833.27 472.4 833.5C480.2 833.73 488.62 834.67 496.3 835.9C503.98 837.13 511.57 838.9 518.5 840.9C525.43 842.9 531.5 845.48 537.9 847.9C544.3 850.32 550.98 852.82 556.9 855.4C562.82 857.98 568.42 860.57 573.4 863.4C578.38 866.23 582.4 869.5 586.8 872.4C591.2 875.3 595.63 877.9 599.8 880.8C603.97 883.7 608.13 886.88 611.8 889.8C615.47 892.72 618.82 895.63 621.8 898.3C624.78 900.97 627.22 903.22 629.7 905.8C632.18 908.38 634.7 911.22 636.7 913.8C638.7 916.38 640.12 918.82 641.7 921.3C643.28 923.78 645.45 927.47 646.2 928.7" fill="none" stroke="#aea8fe" stroke-width="6" stroke-linejoin="round" stroke-linecap="round"/>
<g fill="#aea8fe"><circle cx="226.5" cy="963.7" r="7.6"/><circle cx="223.3" cy="959.5" r="7.6"/><circle cx="229.0" cy="966.9" r="7.6"/><circle cx="225.8" cy="962.7" r="7.6"/><circle cx="231.6" cy="970.1" r="7.6"/><circle cx="228.4" cy="965.9" r="7.6"/><circle cx="233.6" cy="972.6" r="7.6"/><circle cx="230.4" cy="968.4" r="7.6"/><circle cx="235.5" cy="975.2" r="7.6"/><circle cx="232.3" cy="971.0" r="7.6"/><circle cx="237.5" cy="977.7" r="7.6"/><circle cx="234.3" cy="973.5" r="7.6"/><circle cx="241.6" cy="970.1" r="7.6"/><circle cx="238.4" cy="965.9" r="7.6"/><circle cx="243.6" cy="966.8" r="7.6"/><circle cx="240.4" cy="962.6" r="7.6"/><circle cx="245.6" cy="963.6" r="7.6"/><circle cx="242.4" cy="959.4" r="7.6"/><circle cx="247.5" cy="960.3" r="7.6"/><circle cx="244.3" cy="956.1" r="7.6"/><circle cx="249.5" cy="957.1" r="7.6"/><circle cx="246.3" cy="952.9" r="7.6"/><circle cx="251.5" cy="953.8" r="7.6"/><circle cx="248.3" cy="949.6" r="7.6"/><circle cx="253.8" cy="950.9" r="7.6"/><circle cx="250.6" cy="946.7" r="7.6"/><circle cx="256.1" cy="948.1" r="7.6"/><circle cx="252.9" cy="943.9" r="7.6"/><circle cx="258.4" cy="945.2" r="7.6"/><circle cx="255.2" cy="941.0" r="7.6"/><circle cx="260.6" cy="942.4" r="7.6"/><circle cx="257.4" cy="938.2" r="7.6"/><circle cx="262.9" cy="939.5" r="7.6"/><circle cx="259.7" cy="935.3" r="7.6"/><circle cx="265.2" cy="936.7" r="7.6"/><circle cx="262.0" cy="932.5" r="7.6"/><circle cx="267.5" cy="933.8" r="7.6"/><circle cx="264.3" cy="929.6" r="7.6"/><circle cx="270.3" cy="931.8" r="7.6"/><circle cx="267.1" cy="927.6" r="7.6"/><circle cx="273.1" cy="929.8" r="7.6"/><circle cx="269.9" cy="925.6" r="7.6"/><circle cx="275.8" cy="927.8" r="7.6"/><circle cx="272.6" cy="923.6" r="7.6"/><circle cx="278.6" cy="925.8" r="7.6"/><circle cx="275.4" cy="921.6" r="7.6"/><circle cx="281.4" cy="923.8" r="7.6"/><circle cx="278.2" cy="919.6" r="7.6"/><circle cx="284.6" cy="922.0" r="7.6"/><circle cx="281.4" cy="917.8" r="7.6"/><circle cx="287.8" cy="920.2" r="7.6"/><circle cx="284.6" cy="916.0" r="7.6"/><circle cx="291.0" cy="918.5" r="7.6"/><circle cx="287.8" cy="914.3" r="7.6"/><circle cx="294.2" cy="916.7" r="7.6"/><circle cx="291.0" cy="912.5" r="7.6"/><circle cx="297.4" cy="914.9" r="7.6"/><circle cx="294.2" cy="910.7" r="7.6"/><circle cx="300.6" cy="912.9" r="7.6"/><circle cx="297.4" cy="908.7" r="7.6"/><circle cx="303.8" cy="910.9" r="7.6"/><circle cx="300.6" cy="906.7" r="7.6"/><circle cx="307.0" cy="908.9" r="7.6"/><circle cx="303.8" cy="904.7" r="7.6"/><circle cx="310.2" cy="906.9" r="7.6"/><circle cx="307.0" cy="902.7" r="7.6"/><circle cx="325.3" cy="895.9" r="7.6"/><circle cx="322.1" cy="891.7" r="7.6"/><circle cx="336.3" cy="887.9" r="7.6"/><circle cx="333.1" cy="883.7" r="7.6"/><circle cx="224.9" cy="961.6" r="7.6"/><circle cx="227.4" cy="964.8" r="7.6"/><circle cx="230.0" cy="968.0" r="7.6"/><circle cx="232.0" cy="970.5" r="7.6"/><circle cx="233.9" cy="973.1" r="7.6"/><circle cx="235.9" cy="975.6" r="7.6"/><circle cx="240.0" cy="968.0" r="7.6"/><circle cx="242.0" cy="964.7" r="7.6"/><circle cx="244.0" cy="961.5" r="7.6"/><circle cx="245.9" cy="958.2" r="7.6"/><circle cx="247.9" cy="955.0" r="7.6"/><circle cx="249.9" cy="951.7" r="7.6"/><circle cx="252.2" cy="948.8" r="7.6"/><circle cx="254.5" cy="946.0" r="7.6"/><circle cx="256.8" cy="943.1" r="7.6"/><circle cx="259.0" cy="940.3" r="7.6"/><circle cx="261.3" cy="937.4" r="7.6"/><circle cx="263.6" cy="934.6" r="7.6"/><circle cx="265.9" cy="931.7" r="7.6"/><circle cx="268.7" cy="929.7" r="7.6"/><circle cx="271.5" cy="927.7" r="7.6"/><circle cx="274.2" cy="925.7" r="7.6"/><circle cx="277.0" cy="923.7" r="7.6"/><circle cx="279.8" cy="921.7" r="7.6"/><circle cx="283.0" cy="919.9" r="7.6"/><circle cx="286.2" cy="918.1" r="7.6"/><circle cx="289.4" cy="916.4" r="7.6"/><circle cx="292.6" cy="914.6" r="7.6"/><circle cx="295.8" cy="912.8" r="7.6"/><circle cx="299.0" cy="910.8" r="7.6"/><circle cx="302.2" cy="908.8" r="7.6"/><circle cx="305.4" cy="906.8" r="7.6"/><circle cx="308.6" cy="904.8" r="7.6"/><circle cx="323.7" cy="893.8" r="7.6"/><circle cx="334.7" cy="885.8" r="7.6"/><circle cx="345.7" cy="877.8" r="7.6"/><circle cx="356.7" cy="870.8" r="7.6"/><circle cx="370.6" cy="861.9" r="7.6"/><circle cx="386.6" cy="852.9" r="7.6"/><circle cx="405.5" cy="844.9" r="7.6"/><circle cx="427.1" cy="837.5" r="7.6"/><circle cx="449.5" cy="834.5" r="7.6"/><circle cx="472.4" cy="833.5" r="7.6"/><circle cx="496.3" cy="835.9" r="7.6"/><circle cx="518.5" cy="840.9" r="7.6"/><circle cx="537.9" cy="847.9" r="7.6"/><circle cx="556.9" cy="855.4" r="7.6"/><circle cx="573.4" cy="863.4" r="7.6"/><circle cx="586.8" cy="872.4" r="7.6"/><circle cx="599.8" cy="880.8" r="7.6"/><circle cx="611.8" cy="889.8" r="7.6"/><circle cx="621.8" cy="898.3" r="7.6"/><circle cx="629.7" cy="905.8" r="7.6"/><circle cx="636.7" cy="913.8" r="7.6"/><circle cx="641.7" cy="921.3" r="7.6"/><circle cx="646.2" cy="928.7" r="7.6"/></g>
<g fill="#8b86f6"><circle cx="224.9" cy="961.6" r="1.1"/><circle cx="227.4" cy="964.8" r="1.1"/><circle cx="230.0" cy="968.0" r="1.1"/><circle cx="232.0" cy="970.5" r="1.1"/><circle cx="233.9" cy="973.1" r="1.1"/><circle cx="235.9" cy="975.6" r="1.1"/><circle cx="240.0" cy="968.0" r="1.1"/><circle cx="242.0" cy="964.7" r="1.1"/><circle cx="244.0" cy="961.5" r="1.1"/><circle cx="245.9" cy="958.2" r="1.1"/><circle cx="247.9" cy="955.0" r="1.1"/><circle cx="249.9" cy="951.7" r="1.1"/><circle cx="252.2" cy="948.8" r="1.1"/><circle cx="254.5" cy="946.0" r="1.1"/><circle cx="256.8" cy="943.1" r="1.1"/><circle cx="259.0" cy="940.3" r="1.1"/><circle cx="261.3" cy="937.4" r="1.1"/><circle cx="263.6" cy="934.6" r="1.1"/><circle cx="265.9" cy="931.7" r="1.1"/><circle cx="268.7" cy="929.7" r="1.1"/><circle cx="271.5" cy="927.7" r="1.1"/><circle cx="274.2" cy="925.7" r="1.1"/><circle cx="277.0" cy="923.7" r="1.1"/><circle cx="279.8" cy="921.7" r="1.1"/><circle cx="283.0" cy="919.9" r="1.1"/><circle cx="286.2" cy="918.1" r="1.1"/><circle cx="289.4" cy="916.4" r="1.1"/><circle cx="292.6" cy="914.6" r="1.1"/><circle cx="295.8" cy="912.8" r="1.1"/><circle cx="299.0" cy="910.8" r="1.1"/><circle cx="302.2" cy="908.8" r="1.1"/><circle cx="305.4" cy="906.8" r="1.1"/><circle cx="308.6" cy="904.8" r="1.1"/><circle cx="323.7" cy="893.8" r="1.1"/><circle cx="334.7" cy="885.8" r="1.1"/><circle cx="345.7" cy="877.8" r="1.1"/><circle cx="356.7" cy="870.8" r="1.1"/><circle cx="370.6" cy="861.9" r="1.1"/><circle cx="386.6" cy="852.9" r="1.1"/><circle cx="405.5" cy="844.9" r="1.1"/><circle cx="427.1" cy="837.5" r="1.1"/><circle cx="449.5" cy="834.5" r="1.1"/><circle cx="472.4" cy="833.5" r="1.1"/><circle cx="496.3" cy="835.9" r="1.1"/><circle cx="518.5" cy="840.9" r="1.1"/><circle cx="537.9" cy="847.9" r="1.1"/><circle cx="556.9" cy="855.4" r="1.1"/><circle cx="573.4" cy="863.4" r="1.1"/><circle cx="586.8" cy="872.4" r="1.1"/><circle cx="599.8" cy="880.8" r="1.1"/><circle cx="611.8" cy="889.8" r="1.1"/><circle cx="621.8" cy="898.3" r="1.1"/><circle cx="629.7" cy="905.8" r="1.1"/><circle cx="636.7" cy="913.8" r="1.1"/><circle cx="641.7" cy="921.3" r="1.1"/><circle cx="646.2" cy="928.7" r="1.1"/></g>
</g>
<g clip-path="url(#clipe)">
<path d="M196.6 1557C197.43 1557.55 199.93 1559.2 201.6 1560.3C203.27 1561.4 204.43 1563.72 206.6 1563.6C208.77 1563.48 212.38 1560.1 214.6 1559.6C216.82 1559.1 218.13 1560.27 219.9 1560.6C221.67 1560.93 223.42 1561.38 225.2 1561.6C226.97 1561.82 228.77 1561.83 230.55 1561.95C232.33 1562.07 234.79 1563.35 235.9 1562.3C237.01 1561.25 236.77 1557.87 237.2 1555.65C237.63 1553.43 237.98 1551 238.5 1549C239.02 1547 239.7 1545.44 240.3 1543.67C240.9 1541.89 241.5 1540.11 242.1 1538.33C242.7 1536.56 243.16 1534.63 243.9 1533C244.64 1531.37 245.66 1530.04 246.53 1528.57C247.41 1527.09 248.29 1525.61 249.17 1524.13C250.04 1522.66 250.77 1521.03 251.8 1519.7C252.83 1518.37 254.18 1517.34 255.37 1516.17C256.56 1514.99 257.74 1513.81 258.93 1512.63C260.12 1511.46 261.09 1510.13 262.5 1509.1C263.91 1508.07 265.74 1507.32 267.37 1506.43C268.99 1505.54 270.61 1504.66 272.23 1503.77C273.86 1502.88 275.18 1501.99 277.1 1501.1C279.02 1500.21 281.53 1499.33 283.75 1498.45C285.97 1497.57 288.18 1496.47 290.4 1495.8C292.62 1495.13 294.83 1494.9 297.05 1494.45C299.27 1494 301.42 1493.43 303.7 1493.1C305.98 1492.77 308.37 1492.67 310.7 1492.45C313.03 1492.23 315.37 1491.85 317.7 1491.8C320.03 1491.75 322.37 1492.03 324.7 1492.15C327.03 1492.27 329.38 1492.17 331.7 1492.5C334.02 1492.83 336.33 1493.6 338.65 1494.15C340.97 1494.7 343.33 1495.08 345.6 1495.8C347.87 1496.52 350.03 1497.57 352.25 1498.45C354.47 1499.33 356.85 1500.1 358.9 1501.1C360.95 1502.1 362.67 1503.33 364.55 1504.45C366.43 1505.57 368.48 1506.58 370.2 1507.8C371.92 1509.02 373.3 1510.43 374.85 1511.75C376.4 1513.07 378.06 1514.15 379.5 1515.7C380.94 1517.25 382.17 1519.27 383.5 1521.05C384.83 1522.83 386.27 1524.51 387.5 1526.4C388.73 1528.29 389.73 1530.4 390.85 1532.4C391.97 1534.4 393.31 1536.41 394.2 1538.4C395.09 1540.39 395.53 1542.37 396.2 1544.35C396.87 1546.33 397.79 1548.42 398.2 1550.3C398.61 1552.18 398.49 1553.86 398.63 1555.63C398.78 1557.41 398.92 1559.19 399.07 1560.97C399.21 1562.74 399.43 1565.41 399.5 1566.3" fill="none" stroke="#938df8" stroke-width="7.8" stroke-linejoin="round" stroke-linecap="round"/>
<g fill="#938df8"><circle cx="196.6" cy="1557.0" r="8.5"/><circle cx="201.6" cy="1560.3" r="8.5"/><circle cx="206.6" cy="1563.6" r="8.5"/><circle cx="214.6" cy="1559.6" r="8.5"/><circle cx="219.9" cy="1560.6" r="8.5"/><circle cx="225.2" cy="1561.6" r="8.5"/><circle cx="230.6" cy="1561.9" r="8.5"/><circle cx="235.9" cy="1562.3" r="8.5"/><circle cx="237.2" cy="1555.7" r="8.5"/><circle cx="238.5" cy="1549.0" r="8.5"/><circle cx="240.3" cy="1543.7" r="8.5"/><circle cx="242.1" cy="1538.3" r="8.5"/><circle cx="243.9" cy="1533.0" r="8.5"/><circle cx="246.5" cy="1528.6" r="8.5"/><circle cx="249.2" cy="1524.1" r="8.5"/><circle cx="251.8" cy="1519.7" r="8.5"/><circle cx="255.4" cy="1516.2" r="8.5"/><circle cx="258.9" cy="1512.6" r="8.5"/><circle cx="262.5" cy="1509.1" r="8.5"/><circle cx="267.4" cy="1506.4" r="8.5"/><circle cx="272.2" cy="1503.8" r="8.5"/><circle cx="277.1" cy="1501.1" r="8.5"/><circle cx="283.8" cy="1498.4" r="8.5"/><circle cx="290.4" cy="1495.8" r="8.5"/><circle cx="297.0" cy="1494.4" r="8.5"/><circle cx="303.7" cy="1493.1" r="8.5"/><circle cx="310.7" cy="1492.4" r="8.5"/><circle cx="317.7" cy="1491.8" r="8.5"/><circle cx="324.7" cy="1492.2" r="8.5"/><circle cx="331.7" cy="1492.5" r="8.5"/><circle cx="338.6" cy="1494.2" r="8.5"/><circle cx="345.6" cy="1495.8" r="8.5"/><circle cx="352.2" cy="1498.4" r="8.5"/><circle cx="358.9" cy="1501.1" r="8.5"/><circle cx="364.5" cy="1504.4" r="8.5"/><circle cx="370.2" cy="1507.8" r="8.5"/><circle cx="374.9" cy="1511.8" r="8.5"/><circle cx="379.5" cy="1515.7" r="8.5"/><circle cx="383.5" cy="1521.1" r="8.5"/><circle cx="387.5" cy="1526.4" r="8.5"/><circle cx="390.9" cy="1532.4" r="8.5"/><circle cx="394.2" cy="1538.4" r="8.5"/><circle cx="396.2" cy="1544.3" r="8.5"/><circle cx="398.2" cy="1550.3" r="8.5"/><circle cx="398.6" cy="1555.6" r="8.5"/><circle cx="399.1" cy="1561.0" r="8.5"/><circle cx="399.5" cy="1566.3" r="8.5"/></g>
<path d="M196.6 1557C197.43 1557.55 199.93 1559.2 201.6 1560.3C203.27 1561.4 204.43 1563.72 206.6 1563.6C208.77 1563.48 212.38 1560.1 214.6 1559.6C216.82 1559.1 218.13 1560.27 219.9 1560.6C221.67 1560.93 223.42 1561.38 225.2 1561.6C226.97 1561.82 228.77 1561.83 230.55 1561.95C232.33 1562.07 234.79 1563.35 235.9 1562.3C237.01 1561.25 236.77 1557.87 237.2 1555.65C237.63 1553.43 237.98 1551 238.5 1549C239.02 1547 239.7 1545.44 240.3 1543.67C240.9 1541.89 241.5 1540.11 242.1 1538.33C242.7 1536.56 243.16 1534.63 243.9 1533C244.64 1531.37 245.66 1530.04 246.53 1528.57C247.41 1527.09 248.29 1525.61 249.17 1524.13C250.04 1522.66 250.77 1521.03 251.8 1519.7C252.83 1518.37 254.18 1517.34 255.37 1516.17C256.56 1514.99 257.74 1513.81 258.93 1512.63C260.12 1511.46 261.09 1510.13 262.5 1509.1C263.91 1508.07 265.74 1507.32 267.37 1506.43C268.99 1505.54 270.61 1504.66 272.23 1503.77C273.86 1502.88 275.18 1501.99 277.1 1501.1C279.02 1500.21 281.53 1499.33 283.75 1498.45C285.97 1497.57 288.18 1496.47 290.4 1495.8C292.62 1495.13 294.83 1494.9 297.05 1494.45C299.27 1494 301.42 1493.43 303.7 1493.1C305.98 1492.77 308.37 1492.67 310.7 1492.45C313.03 1492.23 315.37 1491.85 317.7 1491.8C320.03 1491.75 322.37 1492.03 324.7 1492.15C327.03 1492.27 329.38 1492.17 331.7 1492.5C334.02 1492.83 336.33 1493.6 338.65 1494.15C340.97 1494.7 343.33 1495.08 345.6 1495.8C347.87 1496.52 350.03 1497.57 352.25 1498.45C354.47 1499.33 356.85 1500.1 358.9 1501.1C360.95 1502.1 362.67 1503.33 364.55 1504.45C366.43 1505.57 368.48 1506.58 370.2 1507.8C371.92 1509.02 373.3 1510.43 374.85 1511.75C376.4 1513.07 378.06 1514.15 379.5 1515.7C380.94 1517.25 382.17 1519.27 383.5 1521.05C384.83 1522.83 386.27 1524.51 387.5 1526.4C388.73 1528.29 389.73 1530.4 390.85 1532.4C391.97 1534.4 393.31 1536.41 394.2 1538.4C395.09 1540.39 395.53 1542.37 396.2 1544.35C396.87 1546.33 397.79 1548.42 398.2 1550.3C398.61 1552.18 398.49 1553.86 398.63 1555.63C398.78 1557.41 398.92 1559.19 399.07 1560.97C399.21 1562.74 399.43 1565.41 399.5 1566.3" fill="none" stroke="#aea8fe" stroke-width="6" stroke-linejoin="round" stroke-linecap="round"/>
<g fill="#aea8fe"><circle cx="196.6" cy="1557.0" r="7.6"/><circle cx="201.6" cy="1560.3" r="7.6"/><circle cx="206.6" cy="1563.6" r="7.6"/><circle cx="214.6" cy="1559.6" r="7.6"/><circle cx="219.9" cy="1560.6" r="7.6"/><circle cx="225.2" cy="1561.6" r="7.6"/><circle cx="230.6" cy="1561.9" r="7.6"/><circle cx="235.9" cy="1562.3" r="7.6"/><circle cx="237.2" cy="1555.7" r="7.6"/><circle cx="238.5" cy="1549.0" r="7.6"/><circle cx="240.3" cy="1543.7" r="7.6"/><circle cx="242.1" cy="1538.3" r="7.6"/><circle cx="243.9" cy="1533.0" r="7.6"/><circle cx="246.5" cy="1528.6" r="7.6"/><circle cx="249.2" cy="1524.1" r="7.6"/><circle cx="251.8" cy="1519.7" r="7.6"/><circle cx="255.4" cy="1516.2" r="7.6"/><circle cx="258.9" cy="1512.6" r="7.6"/><circle cx="262.5" cy="1509.1" r="7.6"/><circle cx="267.4" cy="1506.4" r="7.6"/><circle cx="272.2" cy="1503.8" r="7.6"/><circle cx="277.1" cy="1501.1" r="7.6"/><circle cx="283.8" cy="1498.4" r="7.6"/><circle cx="290.4" cy="1495.8" r="7.6"/><circle cx="297.0" cy="1494.4" r="7.6"/><circle cx="303.7" cy="1493.1" r="7.6"/><circle cx="310.7" cy="1492.4" r="7.6"/><circle cx="317.7" cy="1491.8" r="7.6"/><circle cx="324.7" cy="1492.2" r="7.6"/><circle cx="331.7" cy="1492.5" r="7.6"/><circle cx="338.6" cy="1494.2" r="7.6"/><circle cx="345.6" cy="1495.8" r="7.6"/><circle cx="352.2" cy="1498.4" r="7.6"/><circle cx="358.9" cy="1501.1" r="7.6"/><circle cx="364.5" cy="1504.4" r="7.6"/><circle cx="370.2" cy="1507.8" r="7.6"/><circle cx="374.9" cy="1511.8" r="7.6"/><circle cx="379.5" cy="1515.7" r="7.6"/><circle cx="383.5" cy="1521.1" r="7.6"/><circle cx="387.5" cy="1526.4" r="7.6"/><circle cx="390.9" cy="1532.4" r="7.6"/><circle cx="394.2" cy="1538.4" r="7.6"/><circle cx="396.2" cy="1544.3" r="7.6"/><circle cx="398.2" cy="1550.3" r="7.6"/><circle cx="398.6" cy="1555.6" r="7.6"/><circle cx="399.1" cy="1561.0" r="7.6"/><circle cx="399.5" cy="1566.3" r="7.6"/></g>
<g fill="#8b86f6"><circle cx="196.6" cy="1557.0" r="1.1"/><circle cx="201.6" cy="1560.3" r="1.1"/><circle cx="206.6" cy="1563.6" r="1.1"/><circle cx="214.6" cy="1559.6" r="1.1"/><circle cx="219.9" cy="1560.6" r="1.1"/><circle cx="225.2" cy="1561.6" r="1.1"/><circle cx="230.6" cy="1561.9" r="1.1"/><circle cx="235.9" cy="1562.3" r="1.1"/><circle cx="237.2" cy="1555.7" r="1.1"/><circle cx="238.5" cy="1549.0" r="1.1"/><circle cx="240.3" cy="1543.7" r="1.1"/><circle cx="242.1" cy="1538.3" r="1.1"/><circle cx="243.9" cy="1533.0" r="1.1"/><circle cx="246.5" cy="1528.6" r="1.1"/><circle cx="249.2" cy="1524.1" r="1.1"/><circle cx="251.8" cy="1519.7" r="1.1"/><circle cx="255.4" cy="1516.2" r="1.1"/><circle cx="258.9" cy="1512.6" r="1.1"/><circle cx="262.5" cy="1509.1" r="1.1"/><circle cx="267.4" cy="1506.4" r="1.1"/><circle cx="272.2" cy="1503.8" r="1.1"/><circle cx="277.1" cy="1501.1" r="1.1"/><circle cx="283.8" cy="1498.4" r="1.1"/><circle cx="290.4" cy="1495.8" r="1.1"/><circle cx="297.0" cy="1494.4" r="1.1"/><circle cx="303.7" cy="1493.1" r="1.1"/><circle cx="310.7" cy="1492.4" r="1.1"/><circle cx="317.7" cy="1491.8" r="1.1"/><circle cx="324.7" cy="1492.2" r="1.1"/><circle cx="331.7" cy="1492.5" r="1.1"/><circle cx="338.6" cy="1494.2" r="1.1"/><circle cx="345.6" cy="1495.8" r="1.1"/><circle cx="352.2" cy="1498.4" r="1.1"/><circle cx="358.9" cy="1501.1" r="1.1"/><circle cx="364.5" cy="1504.4" r="1.1"/><circle cx="370.2" cy="1507.8" r="1.1"/><circle cx="374.9" cy="1511.8" r="1.1"/><circle cx="379.5" cy="1515.7" r="1.1"/><circle cx="383.5" cy="1521.1" r="1.1"/><circle cx="387.5" cy="1526.4" r="1.1"/><circle cx="390.9" cy="1532.4" r="1.1"/><circle cx="394.2" cy="1538.4" r="1.1"/><circle cx="396.2" cy="1544.3" r="1.1"/><circle cx="398.2" cy="1550.3" r="1.1"/><circle cx="398.6" cy="1555.6" r="1.1"/><circle cx="399.1" cy="1561.0" r="1.1"/><circle cx="399.5" cy="1566.3" r="1.1"/></g>
</g>
<g clip-path="url(#clipg)">
<path d="M212.6 1960.2C216.99 1961.1 230.32 1963.87 238.91 1965.6C247.5 1967.33 256.09 1968.6 264.12 1970.6C272.16 1972.6 279.66 1975.51 287.14 1977.59C294.61 1979.68 301.84 1981.34 308.95 1983.09C316.05 1984.84 323.01 1986.29 329.76 1988.09C336.51 1989.89 343.1 1992.37 349.47 1993.89C355.84 1995.41 361.8 1996.29 367.98 1997.19C374.17 1998.09 380.41 1998.29 386.59 1999.29C392.78 2000.29 398.92 2001.67 405.11 2003.18C411.29 2004.7 417.35 2006.57 423.72 2008.38C430.09 2010.2 436.96 2012.17 443.33 2014.08C449.7 2016 456.31 2018.18 461.94 2019.88C467.58 2021.58 472.27 2023.01 477.15 2024.28C482.04 2025.54 486.2 2027.14 491.27 2027.48C496.34 2027.81 502.32 2026.01 507.58 2026.27C512.83 2026.54 517.7 2028.26 522.79 2029.07C527.88 2029.89 533.01 2030.39 538.1 2031.17C543.19 2031.95 548.43 2032.92 553.31 2033.77C558.2 2034.62 562.6 2035.4 567.43 2036.27C572.25 2037.13 577.02 2038.12 582.24 2038.97C587.46 2039.82 593.68 2040.56 598.75 2041.36C603.82 2042.16 607.77 2042.95 612.66 2043.76C617.55 2044.58 623.17 2045.21 628.07 2046.26C632.98 2047.31 637.36 2048.73 642.08 2050.06C646.81 2051.39 651.83 2052.79 656.4 2054.26C660.97 2055.72 665.17 2057.24 669.51 2058.86C673.85 2060.47 678.1 2062.1 682.42 2063.95C686.74 2065.8 691.09 2067.95 695.43 2069.95C699.77 2071.95 704.12 2073.95 708.44 2075.95C712.76 2077.95 717.02 2079.95 721.36 2081.95C725.69 2083.95 730.11 2086.15 734.47 2087.95C738.82 2089.75 743.14 2091.3 747.48 2092.75C751.82 2094.2 756.04 2095.68 760.49 2096.64C764.95 2097.61 769.5 2098.03 774.2 2098.54C778.91 2099.06 783.98 2099.77 788.72 2099.74C793.45 2099.71 797.92 2098.86 802.63 2098.34C807.33 2097.82 812.37 2097.25 816.94 2096.64C821.51 2096.02 825.71 2095.29 830.05 2094.64C834.39 2093.99 838.56 2092.97 842.96 2092.73C847.37 2092.5 851.75 2092.9 856.47 2093.23C861.2 2093.56 866.38 2093.98 871.29 2094.73C876.19 2095.48 881.19 2096.48 885.9 2097.73C890.6 2098.98 895.44 2100.43 899.51 2102.23C903.58 2104.03 908.07 2106.98 910.32 2108.53C912.57 2110.07 912.11 2110.5 913 2111.49C913.89 2112.48 914.79 2113.47 915.68 2114.46C916.57 2115.44 917.62 2116.45 918.36 2117.42C919.09 2118.39 919.52 2119.31 920.1 2120.25C920.68 2121.2 921.27 2122.14 921.85 2123.08C922.43 2124.03 923.08 2124.97 923.59 2125.92C924.11 2126.86 924.49 2127.83 924.94 2128.78C925.39 2129.74 925.84 2130.69 926.28 2131.65C926.73 2132.6 927.28 2133.49 927.63 2134.51C927.98 2135.53 928.13 2136.69 928.37 2137.78C928.62 2138.86 928.87 2139.95 929.12 2141.04C929.37 2142.13 929.71 2143.17 929.86 2144.31C930.02 2145.44 929.98 2146.68 930.04 2147.87C930.1 2149.06 930.16 2150.25 930.22 2151.44C930.28 2152.62 930.37 2154.41 930.4 2155" fill="none" stroke="#000097" stroke-width="4" stroke-linejoin="round" stroke-linecap="round"/>
<path d="M747.48 2092.75C749.65 2093.4 756.04 2095.68 760.49 2096.64C764.95 2097.61 769.5 2098.03 774.2 2098.54C778.91 2099.06 783.98 2099.77 788.72 2099.74C793.45 2099.71 797.92 2098.86 802.63 2098.34C807.33 2097.82 812.37 2097.25 816.94 2096.64C821.51 2096.02 825.71 2095.29 830.05 2094.64C834.39 2093.99 838.56 2092.97 842.96 2092.73C847.37 2092.5 851.75 2092.9 856.47 2093.23C861.2 2093.56 866.38 2093.98 871.29 2094.73C876.19 2095.48 881.19 2096.48 885.9 2097.73C890.6 2098.98 895.44 2100.43 899.51 2102.23C903.58 2104.03 908.07 2106.98 910.32 2108.53C912.57 2110.07 912.11 2110.5 913 2111.49C913.89 2112.48 914.79 2113.47 915.68 2114.46C916.57 2115.44 917.62 2116.45 918.36 2117.42C919.09 2118.39 919.52 2119.31 920.1 2120.25C920.68 2121.2 921.27 2122.14 921.85 2123.08C922.43 2124.03 923.08 2124.97 923.59 2125.92C924.11 2126.86 924.49 2127.83 924.94 2128.78C925.39 2129.74 925.84 2130.69 926.28 2131.65C926.73 2132.6 927.28 2133.49 927.63 2134.51C927.98 2135.53 928.13 2136.69 928.37 2137.78C928.62 2138.86 928.87 2139.95 929.12 2141.04C929.37 2142.13 929.71 2143.17 929.86 2144.31C930.02 2145.44 929.98 2146.68 930.04 2147.87C930.1 2149.06 930.16 2150.25 930.22 2151.44C930.28 2152.62 930.37 2154.41 930.4 2155" fill="none" stroke="#000097" stroke-width="14.2" stroke-linejoin="round" stroke-linecap="round"/>
<g fill="#000097"><circle cx="212.6" cy="1960.2" r="7.6"/><circle cx="238.9" cy="1965.6" r="7.6"/><circle cx="264.1" cy="1970.6" r="7.6"/><circle cx="287.1" cy="1977.6" r="7.6"/><circle cx="308.9" cy="1983.1" r="7.6"/><circle cx="329.8" cy="1988.1" r="7.6"/><circle cx="349.5" cy="1993.9" r="7.6"/><circle cx="368.0" cy="1997.2" r="7.6"/><circle cx="386.6" cy="1999.3" r="7.6"/><circle cx="405.1" cy="2003.2" r="7.6"/><circle cx="423.7" cy="2008.4" r="7.6"/><circle cx="443.3" cy="2014.1" r="7.6"/><circle cx="461.9" cy="2019.9" r="7.6"/><circle cx="477.2" cy="2024.3" r="7.6"/><circle cx="491.3" cy="2027.5" r="7.6"/><circle cx="507.6" cy="2026.3" r="7.6"/><circle cx="522.8" cy="2029.1" r="7.6"/><circle cx="538.1" cy="2031.2" r="7.6"/><circle cx="553.3" cy="2033.8" r="7.6"/><circle cx="567.4" cy="2036.3" r="7.6"/><circle cx="582.2" cy="2039.0" r="7.6"/><circle cx="598.7" cy="2041.4" r="7.6"/><circle cx="612.7" cy="2043.8" r="7.6"/><circle cx="628.1" cy="2046.3" r="7.6"/><circle cx="642.1" cy="2050.1" r="7.6"/><circle cx="656.4" cy="2054.3" r="7.6"/><circle cx="669.5" cy="2058.9" r="7.6"/><circle cx="682.4" cy="2064.0" r="7.6"/><circle cx="695.4" cy="2070.0" r="7.6"/><circle cx="708.4" cy="2076.0" r="7.6"/><circle cx="721.4" cy="2081.9" r="7.6"/><circle cx="734.5" cy="2087.9" r="7.6"/><circle cx="747.5" cy="2092.7" r="7.6"/><circle cx="760.5" cy="2096.6" r="7.6"/><circle cx="774.2" cy="2098.5" r="7.6"/><circle cx="788.7" cy="2099.7" r="7.6"/><circle cx="802.6" cy="2098.3" r="7.6"/><circle cx="816.9" cy="2096.6" r="7.6"/><circle cx="830.1" cy="2094.6" r="7.6"/><circle cx="843.0" cy="2092.7" r="7.6"/><circle cx="856.5" cy="2093.2" r="7.6"/><circle cx="871.3" cy="2094.7" r="7.6"/><circle cx="885.9" cy="2097.7" r="7.6"/><circle cx="899.5" cy="2102.2" r="7.6"/><circle cx="910.3" cy="2108.5" r="7.6"/><circle cx="913.0" cy="2111.5" r="7.6"/><circle cx="915.7" cy="2114.5" r="7.6"/><circle cx="918.4" cy="2117.4" r="7.6"/><circle cx="920.1" cy="2120.3" r="7.6"/><circle cx="921.8" cy="2123.1" r="7.6"/><circle cx="923.6" cy="2125.9" r="7.6"/><circle cx="924.9" cy="2128.8" r="7.6"/><circle cx="926.3" cy="2131.6" r="7.6"/><circle cx="927.6" cy="2134.5" r="7.6"/><circle cx="928.4" cy="2137.8" r="7.6"/><circle cx="929.1" cy="2141.0" r="7.6"/><circle cx="929.9" cy="2144.3" r="7.6"/><circle cx="930.0" cy="2147.9" r="7.6"/><circle cx="930.2" cy="2151.4" r="7.6"/><circle cx="930.4" cy="2155.0" r="7.6"/></g>
<path d="M218.6 1958.2C223 1959.1 236.37 1961.88 244.98 1963.62C253.6 1965.36 262.21 1966.64 270.27 1968.65C278.33 1970.66 285.86 1973.58 293.35 1975.67C300.85 1977.76 308.11 1979.44 315.24 1981.19C322.36 1982.95 329.34 1984.41 336.12 1986.22C342.9 1988.03 349.51 1990.52 355.9 1992.04C362.3 1993.57 368.28 1994.46 374.49 1995.37C380.7 1996.27 386.96 1996.48 393.17 1997.49C399.38 1998.5 405.54 1999.89 411.76 2001.41C417.97 2002.94 424.04 2004.81 430.44 2006.64C436.83 2008.46 443.73 2010.44 450.12 2012.36C456.52 2014.29 463.15 2016.48 468.81 2018.18C474.47 2019.89 479.18 2021.33 484.09 2022.61C489 2023.88 493.18 2025.49 498.27 2025.83C503.37 2026.17 509.38 2024.38 514.66 2024.66C519.94 2024.93 524.83 2026.66 529.94 2027.48C535.05 2028.3 540.21 2028.81 545.33 2029.6C550.44 2030.39 555.7 2031.37 560.61 2032.23C565.52 2033.09 569.95 2033.88 574.79 2034.75C579.64 2035.63 584.43 2036.62 589.68 2037.47C594.92 2038.33 601.17 2039.09 606.26 2039.9C611.36 2040.71 615.33 2041.5 620.25 2042.32C625.16 2043.15 630.8 2043.79 635.73 2044.85C640.66 2045.9 645.07 2047.33 649.81 2048.67C654.56 2050.01 659.6 2051.42 664.2 2052.89C668.79 2054.37 673.02 2055.89 677.38 2057.52C681.74 2059.14 686.02 2060.78 690.37 2062.64C694.71 2064.5 699.09 2066.66 703.45 2068.66C707.81 2070.67 712.19 2072.68 716.53 2074.69C720.88 2076.7 725.16 2078.7 729.52 2080.71C733.88 2082.72 738.32 2084.93 742.7 2086.74C747.08 2088.54 751.42 2090.1 755.78 2091.56C760.15 2093.02 764.39 2094.51 768.87 2095.48C773.35 2096.46 777.92 2096.88 782.65 2097.41C787.38 2097.93 792.48 2098.66 797.24 2098.63C802 2098.61 806.49 2097.76 811.22 2097.25C815.95 2096.75 821.01 2096.19 825.6 2095.58C830.2 2094.97 834.43 2094.24 838.79 2093.6C843.15 2092.96 847.34 2091.95 851.77 2091.73C856.2 2091.5 860.61 2091.91 865.36 2092.25C870.1 2092.59 875.31 2093.01 880.24 2093.77C885.17 2094.53 890.2 2095.54 894.92 2096.8C899.65 2098.05 904.51 2099.51 908.61 2101.32C912.7 2103.13 917.22 2106.09 919.49 2107.64C921.76 2109.2 921.33 2109.64 922.24 2110.63C923.16 2111.63 924.08 2112.63 924.99 2113.62C925.91 2114.62 926.98 2115.64 927.74 2116.62C928.5 2117.59 928.95 2118.52 929.56 2119.47C930.17 2120.42 930.77 2121.38 931.38 2122.33C931.98 2123.28 932.66 2124.23 933.19 2125.19C933.73 2126.14 934.14 2127.11 934.61 2128.08C935.08 2129.04 935.56 2130 936.03 2130.97C936.5 2131.93 937.07 2132.83 937.45 2133.86C937.82 2134.89 937.99 2136.05 938.26 2137.15C938.54 2138.24 938.81 2139.34 939.08 2140.44C939.35 2141.54 939.72 2142.58 939.9 2143.73C940.08 2144.88 940.07 2146.12 940.15 2147.32C940.23 2148.52 940.32 2149.71 940.4 2150.91C940.48 2152.11 940.61 2153.9 940.65 2154.5" fill="none" stroke="#0000cc" stroke-width="4" stroke-linejoin="round" stroke-linecap="round"/>
<path d="M755.78 2091.56C757.97 2092.21 764.39 2094.51 768.87 2095.48C773.35 2096.46 777.92 2096.88 782.65 2097.41C787.38 2097.93 792.48 2098.66 797.24 2098.63C802 2098.61 806.49 2097.76 811.22 2097.25C815.95 2096.75 821.01 2096.19 825.6 2095.58C830.2 2094.97 834.43 2094.24 838.79 2093.6C843.15 2092.96 847.34 2091.95 851.77 2091.73C856.2 2091.5 860.61 2091.91 865.36 2092.25C870.1 2092.59 875.31 2093.01 880.24 2093.77C885.17 2094.53 890.2 2095.54 894.92 2096.8C899.65 2098.05 904.51 2099.51 908.61 2101.32C912.7 2103.13 917.22 2106.09 919.49 2107.64C921.76 2109.2 921.33 2109.64 922.24 2110.63C923.16 2111.63 924.08 2112.63 924.99 2113.62C925.91 2114.62 926.98 2115.64 927.74 2116.62C928.5 2117.59 928.95 2118.52 929.56 2119.47C930.17 2120.42 930.77 2121.38 931.38 2122.33C931.98 2123.28 932.66 2124.23 933.19 2125.19C933.73 2126.14 934.14 2127.11 934.61 2128.08C935.08 2129.04 935.56 2130 936.03 2130.97C936.5 2131.93 937.07 2132.83 937.45 2133.86C937.82 2134.89 937.99 2136.05 938.26 2137.15C938.54 2138.24 938.81 2139.34 939.08 2140.44C939.35 2141.54 939.72 2142.58 939.9 2143.73C940.08 2144.88 940.07 2146.12 940.15 2147.32C940.23 2148.52 940.32 2149.71 940.4 2150.91C940.48 2152.11 940.61 2153.9 940.65 2154.5" fill="none" stroke="#0000cc" stroke-width="14.2" stroke-linejoin="round" stroke-linecap="round"/>
<g fill="#0000cc"><circle cx="218.6" cy="1958.2" r="7.6"/><circle cx="245.0" cy="1963.6" r="7.6"/><circle cx="270.3" cy="1968.6" r="7.6"/><circle cx="293.4" cy="1975.7" r="7.6"/><circle cx="315.2" cy="1981.2" r="7.6"/><circle cx="336.1" cy="1986.2" r="7.6"/><circle cx="355.9" cy="1992.0" r="7.6"/><circle cx="374.5" cy="1995.4" r="7.6"/><circle cx="393.2" cy="1997.5" r="7.6"/><circle cx="411.8" cy="2001.4" r="7.6"/><circle cx="430.4" cy="2006.6" r="7.6"/><circle cx="450.1" cy="2012.4" r="7.6"/><circle cx="468.8" cy="2018.2" r="7.6"/><circle cx="484.1" cy="2022.6" r="7.6"/><circle cx="498.3" cy="2025.8" r="7.6"/><circle cx="514.7" cy="2024.7" r="7.6"/><circle cx="529.9" cy="2027.5" r="7.6"/><circle cx="545.3" cy="2029.6" r="7.6"/><circle cx="560.6" cy="2032.2" r="7.6"/><circle cx="574.8" cy="2034.8" r="7.6"/><circle cx="589.7" cy="2037.5" r="7.6"/><circle cx="606.3" cy="2039.9" r="7.6"/><circle cx="620.2" cy="2042.3" r="7.6"/><circle cx="635.7" cy="2044.8" r="7.6"/><circle cx="649.8" cy="2048.7" r="7.6"/><circle cx="664.2" cy="2052.9" r="7.6"/><circle cx="677.4" cy="2057.5" r="7.6"/><circle cx="690.4" cy="2062.6" r="7.6"/><circle cx="703.4" cy="2068.7" r="7.6"/><circle cx="716.5" cy="2074.7" r="7.6"/><circle cx="729.5" cy="2080.7" r="7.6"/><circle cx="742.7" cy="2086.7" r="7.6"/><circle cx="755.8" cy="2091.6" r="7.6"/><circle cx="768.9" cy="2095.5" r="7.6"/><circle cx="782.7" cy="2097.4" r="7.6"/><circle cx="797.2" cy="2098.6" r="7.6"/><circle cx="811.2" cy="2097.3" r="7.6"/><circle cx="825.6" cy="2095.6" r="7.6"/><circle cx="838.8" cy="2093.6" r="7.6"/><circle cx="851.8" cy="2091.7" r="7.6"/><circle cx="865.4" cy="2092.2" r="7.6"/><circle cx="880.2" cy="2093.8" r="7.6"/><circle cx="894.9" cy="2096.8" r="7.6"/><circle cx="908.6" cy="2101.3" r="7.6"/><circle cx="919.5" cy="2107.6" r="7.6"/><circle cx="922.2" cy="2110.6" r="7.6"/><circle cx="925.0" cy="2113.6" r="7.6"/><circle cx="927.7" cy="2116.6" r="7.6"/><circle cx="929.6" cy="2119.5" r="7.6"/><circle cx="931.4" cy="2122.3" r="7.6"/><circle cx="933.2" cy="2125.2" r="7.6"/><circle cx="934.6" cy="2128.1" r="7.6"/><circle cx="936.0" cy="2131.0" r="7.6"/><circle cx="937.4" cy="2133.9" r="7.6"/><circle cx="938.3" cy="2137.1" r="7.6"/><circle cx="939.1" cy="2140.4" r="7.6"/><circle cx="939.9" cy="2143.7" r="7.6"/><circle cx="940.1" cy="2147.3" r="7.6"/><circle cx="940.4" cy="2150.9" r="7.6"/><circle cx="940.6" cy="2154.5" r="7.6"/></g>
<path d="M224.6 1956.2C229.01 1957.11 242.42 1959.9 251.06 1961.65C259.69 1963.4 268.33 1964.68 276.41 1966.7C284.5 1968.71 292.05 1971.65 299.57 1973.75C307.09 1975.85 314.37 1977.53 321.52 1979.3C328.68 1981.06 335.68 1982.53 342.48 1984.35C349.28 1986.16 355.92 1988.66 362.34 1990.19C368.75 1991.73 374.76 1992.63 380.99 1993.54C387.23 1994.46 393.51 1994.68 399.75 1995.69C405.98 1996.71 412.17 1998.11 418.4 1999.64C424.64 2001.18 430.74 2003.06 437.16 2004.89C443.58 2006.72 450.5 2008.71 456.92 2010.64C463.33 2012.57 469.99 2014.77 475.67 2016.49C481.36 2018.21 486.09 2019.66 491.03 2020.94C495.96 2022.22 500.16 2023.84 505.28 2024.19C510.4 2024.54 516.44 2022.75 521.74 2023.04C527.04 2023.32 531.96 2025.05 537.09 2025.89C542.23 2026.72 547.42 2027.24 552.55 2028.04C557.69 2028.84 562.97 2029.82 567.91 2030.68C572.84 2031.55 577.29 2032.35 582.16 2033.23C587.03 2034.12 591.85 2035.12 597.12 2035.98C602.39 2036.85 608.66 2037.62 613.77 2038.43C618.89 2039.25 622.9 2040.05 627.83 2040.88C632.77 2041.71 638.43 2042.36 643.39 2043.43C648.34 2044.5 652.77 2045.93 657.54 2047.28C662.31 2048.63 667.38 2050.05 672 2051.53C676.62 2053.01 680.87 2054.54 685.25 2056.18C689.64 2057.81 693.94 2059.46 698.31 2061.33C702.68 2063.19 707.08 2065.36 711.47 2067.38C715.85 2069.39 720.25 2071.41 724.62 2073.43C728.99 2075.44 733.29 2077.46 737.68 2079.47C742.06 2081.49 746.53 2083.71 750.93 2085.52C755.34 2087.34 759.7 2088.91 764.09 2090.37C768.48 2091.84 772.74 2093.34 777.25 2094.32C781.75 2095.31 786.35 2095.74 791.1 2096.27C795.85 2096.8 800.97 2097.54 805.76 2097.52C810.54 2097.5 815.06 2096.67 819.81 2096.17C824.57 2095.67 829.65 2095.12 834.27 2094.52C838.89 2093.92 843.14 2093.2 847.53 2092.57C851.91 2091.93 856.13 2090.93 860.58 2090.72C865.03 2090.5 869.47 2090.92 874.24 2091.27C879.01 2091.62 884.24 2092.05 889.19 2092.82C894.15 2093.58 899.2 2094.6 903.95 2095.86C908.7 2097.13 913.59 2098.6 917.71 2100.41C921.82 2102.23 926.36 2105.2 928.66 2106.76C930.96 2108.32 930.54 2108.77 931.48 2109.78C932.42 2110.78 933.37 2111.79 934.31 2112.79C935.25 2113.8 936.34 2114.83 937.13 2115.81C937.91 2116.79 938.39 2117.73 939.02 2118.69C939.65 2119.65 940.28 2120.61 940.91 2121.58C941.54 2122.54 942.23 2123.49 942.8 2124.46C943.36 2125.42 943.79 2126.4 944.29 2127.37C944.78 2128.35 945.28 2129.32 945.78 2130.29C946.27 2131.26 946.87 2132.17 947.26 2133.21C947.66 2134.24 947.86 2135.42 948.15 2136.52C948.45 2137.63 948.75 2138.73 949.04 2139.84C949.34 2140.94 949.73 2142 949.93 2143.15C950.13 2144.31 950.15 2145.56 950.25 2146.77C950.36 2147.97 950.47 2149.18 950.58 2150.38C950.68 2151.59 950.85 2153.4 950.9 2154" fill="none" stroke="#0404ff" stroke-width="4" stroke-linejoin="round" stroke-linecap="round"/>
<path d="M764.09 2090.37C766.28 2091.03 772.74 2093.34 777.25 2094.32C781.75 2095.31 786.35 2095.74 791.1 2096.27C795.85 2096.8 800.97 2097.54 805.76 2097.52C810.54 2097.5 815.06 2096.67 819.81 2096.17C824.57 2095.67 829.65 2095.12 834.27 2094.52C838.89 2093.92 843.14 2093.2 847.53 2092.57C851.91 2091.93 856.13 2090.93 860.58 2090.72C865.03 2090.5 869.47 2090.92 874.24 2091.27C879.01 2091.62 884.24 2092.05 889.19 2092.82C894.15 2093.58 899.2 2094.6 903.95 2095.86C908.7 2097.13 913.59 2098.6 917.71 2100.41C921.82 2102.23 926.36 2105.2 928.66 2106.76C930.96 2108.32 930.54 2108.77 931.48 2109.78C932.42 2110.78 933.37 2111.79 934.31 2112.79C935.25 2113.8 936.34 2114.83 937.13 2115.81C937.91 2116.79 938.39 2117.73 939.02 2118.69C939.65 2119.65 940.28 2120.61 940.91 2121.58C941.54 2122.54 942.23 2123.49 942.8 2124.46C943.36 2125.42 943.79 2126.4 944.29 2127.37C944.78 2128.35 945.28 2129.32 945.78 2130.29C946.27 2131.26 946.87 2132.17 947.26 2133.21C947.66 2134.24 947.86 2135.42 948.15 2136.52C948.45 2137.63 948.75 2138.73 949.04 2139.84C949.34 2140.94 949.73 2142 949.93 2143.15C950.13 2144.31 950.15 2145.56 950.25 2146.77C950.36 2147.97 950.47 2149.18 950.58 2150.38C950.68 2151.59 950.85 2153.4 950.9 2154" fill="none" stroke="#0404ff" stroke-width="14.2" stroke-linejoin="round" stroke-linecap="round"/>
<g fill="#0404ff"><circle cx="224.6" cy="1956.2" r="7.6"/><circle cx="251.1" cy="1961.6" r="7.6"/><circle cx="276.4" cy="1966.7" r="7.6"/><circle cx="299.6" cy="1973.7" r="7.6"/><circle cx="321.5" cy="1979.3" r="7.6"/><circle cx="342.5" cy="1984.3" r="7.6"/><circle cx="362.3" cy="1990.2" r="7.6"/><circle cx="381.0" cy="1993.5" r="7.6"/><circle cx="399.7" cy="1995.7" r="7.6"/><circle cx="418.4" cy="1999.6" r="7.6"/><circle cx="437.2" cy="2004.9" r="7.6"/><circle cx="456.9" cy="2010.6" r="7.6"/><circle cx="475.7" cy="2016.5" r="7.6"/><circle cx="491.0" cy="2020.9" r="7.6"/><circle cx="505.3" cy="2024.2" r="7.6"/><circle cx="521.7" cy="2023.0" r="7.6"/><circle cx="537.1" cy="2025.9" r="7.6"/><circle cx="552.6" cy="2028.0" r="7.6"/><circle cx="567.9" cy="2030.7" r="7.6"/><circle cx="582.2" cy="2033.2" r="7.6"/><circle cx="597.1" cy="2036.0" r="7.6"/><circle cx="613.8" cy="2038.4" r="7.6"/><circle cx="627.8" cy="2040.9" r="7.6"/><circle cx="643.4" cy="2043.4" r="7.6"/><circle cx="657.5" cy="2047.3" r="7.6"/><circle cx="672.0" cy="2051.5" r="7.6"/><circle cx="685.3" cy="2056.2" r="7.6"/><circle cx="698.3" cy="2061.3" r="7.6"/><circle cx="711.5" cy="2067.4" r="7.6"/><circle cx="724.6" cy="2073.4" r="7.6"/><circle cx="737.7" cy="2079.5" r="7.6"/><circle cx="750.9" cy="2085.5" r="7.6"/><circle cx="764.1" cy="2090.4" r="7.6"/><circle cx="777.2" cy="2094.3" r="7.6"/><circle cx="791.1" cy="2096.3" r="7.6"/><circle cx="805.8" cy="2097.5" r="7.6"/><circle cx="819.8" cy="2096.2" r="7.6"/><circle cx="834.3" cy="2094.5" r="7.6"/><circle cx="847.5" cy="2092.6" r="7.6"/><circle cx="860.6" cy="2090.7" r="7.6"/><circle cx="874.2" cy="2091.3" r="7.6"/><circle cx="889.2" cy="2092.8" r="7.6"/><circle cx="903.9" cy="2095.9" r="7.6"/><circle cx="917.7" cy="2100.4" r="7.6"/><circle cx="928.7" cy="2106.8" r="7.6"/><circle cx="931.5" cy="2109.8" r="7.6"/><circle cx="934.3" cy="2112.8" r="7.6"/><circle cx="937.1" cy="2115.8" r="7.6"/><circle cx="939.0" cy="2118.7" r="7.6"/><circle cx="940.9" cy="2121.6" r="7.6"/><circle cx="942.8" cy="2124.5" r="7.6"/><circle cx="944.3" cy="2127.4" r="7.6"/><circle cx="945.8" cy="2130.3" r="7.6"/><circle cx="947.3" cy="2133.2" r="7.6"/><circle cx="948.2" cy="2136.5" r="7.6"/><circle cx="949.0" cy="2139.8" r="7.6"/><circle cx="949.9" cy="2143.2" r="7.6"/><circle cx="950.3" cy="2146.8" r="7.6"/><circle cx="950.6" cy="2150.4" r="7.6"/><circle cx="950.9" cy="2154.0" r="7.6"/></g>
<path d="M230.6 1954.2C235.02 1955.11 248.47 1957.92 257.13 1959.67C265.79 1961.43 274.45 1962.72 282.56 1964.75C290.67 1966.77 298.24 1969.72 305.78 1971.82C313.33 1973.93 320.64 1975.62 327.81 1977.4C334.99 1979.17 342.01 1980.65 348.84 1982.47C355.67 1984.3 362.33 1986.81 368.77 1988.35C375.21 1989.89 381.24 1990.8 387.5 1991.72C393.76 1992.65 400.06 1992.87 406.32 1993.9C412.58 1994.92 418.79 1996.33 425.05 1997.87C431.31 1999.41 437.44 2001.3 443.88 2003.15C450.32 2004.99 457.26 2006.98 463.71 2008.92C470.15 2010.86 476.83 2013.07 482.54 2014.79C488.24 2016.52 493 2017.98 497.96 2019.27C502.92 2020.56 507.15 2022.19 512.29 2022.54C517.43 2022.9 523.49 2021.13 528.82 2021.42C534.15 2021.71 539.09 2023.45 544.25 2024.29C549.41 2025.13 554.62 2025.66 559.78 2026.47C564.93 2027.28 570.24 2028.27 575.2 2029.14C580.16 2030.02 584.64 2030.83 589.53 2031.72C594.42 2032.61 599.27 2033.62 604.56 2034.49C609.85 2035.37 616.14 2036.14 621.29 2036.97C626.43 2037.79 630.46 2038.6 635.42 2039.44C640.37 2040.28 646.07 2040.94 651.04 2042.02C656.02 2043.09 660.48 2044.53 665.27 2045.89C670.06 2047.25 675.16 2048.67 679.8 2050.16C684.44 2051.66 688.72 2053.2 693.13 2054.84C697.54 2056.48 701.86 2058.14 706.26 2060.01C710.65 2061.89 715.07 2064.06 719.48 2066.09C723.89 2068.11 728.32 2070.14 732.71 2072.16C737.1 2074.19 741.43 2076.21 745.84 2078.24C750.25 2080.26 754.74 2082.49 759.17 2084.31C763.59 2086.14 767.99 2087.71 772.39 2089.19C776.8 2090.66 781.1 2092.17 785.62 2093.16C790.15 2094.15 794.77 2094.59 799.55 2095.14C804.33 2095.68 809.47 2096.42 814.28 2096.41C819.09 2096.4 823.63 2095.58 828.41 2095.08C833.18 2094.59 838.29 2094.05 842.93 2093.46C847.58 2092.87 851.85 2092.16 856.26 2091.53C860.67 2090.91 864.91 2089.92 869.39 2089.71C873.87 2089.5 878.33 2089.92 883.12 2090.28C887.91 2090.64 893.17 2091.08 898.15 2091.86C903.12 2092.63 908.2 2093.66 912.97 2094.93C917.75 2096.21 922.66 2097.68 926.8 2099.51C930.95 2101.33 935.51 2104.31 937.83 2105.88C940.15 2107.45 939.76 2107.91 940.73 2108.92C941.69 2109.94 942.65 2110.95 943.62 2111.96C944.58 2112.98 945.71 2114.01 946.51 2115.01C947.32 2116 947.82 2116.94 948.48 2117.91C949.13 2118.88 949.78 2119.85 950.44 2120.82C951.09 2121.79 951.81 2122.75 952.4 2123.73C952.99 2124.7 953.44 2125.69 953.96 2126.67C954.48 2127.65 955 2128.63 955.52 2129.61C956.04 2130.59 956.66 2131.51 957.08 2132.55C957.5 2133.6 957.72 2134.78 958.04 2135.89C958.36 2137.01 958.68 2138.12 959 2139.24C959.33 2140.35 959.74 2141.41 959.97 2142.58C960.19 2143.74 960.23 2145 960.36 2146.22C960.49 2147.43 960.62 2148.65 960.76 2149.86C960.89 2151.07 961.08 2152.89 961.15 2153.5" fill="none" stroke="#5855ff" stroke-width="4" stroke-linejoin="round" stroke-linecap="round"/>
<path d="M772.39 2089.19C774.6 2089.85 781.1 2092.17 785.62 2093.16C790.15 2094.15 794.77 2094.59 799.55 2095.14C804.33 2095.68 809.47 2096.42 814.28 2096.41C819.09 2096.4 823.63 2095.58 828.41 2095.08C833.18 2094.59 838.29 2094.05 842.93 2093.46C847.58 2092.87 851.85 2092.16 856.26 2091.53C860.67 2090.91 864.91 2089.92 869.39 2089.71C873.87 2089.5 878.33 2089.92 883.12 2090.28C887.91 2090.64 893.17 2091.08 898.15 2091.86C903.12 2092.63 908.2 2093.66 912.97 2094.93C917.75 2096.21 922.66 2097.68 926.8 2099.51C930.95 2101.33 935.51 2104.31 937.83 2105.88C940.15 2107.45 939.76 2107.91 940.73 2108.92C941.69 2109.94 942.65 2110.95 943.62 2111.96C944.58 2112.98 945.71 2114.01 946.51 2115.01C947.32 2116 947.82 2116.94 948.48 2117.91C949.13 2118.88 949.78 2119.85 950.44 2120.82C951.09 2121.79 951.81 2122.75 952.4 2123.73C952.99 2124.7 953.44 2125.69 953.96 2126.67C954.48 2127.65 955 2128.63 955.52 2129.61C956.04 2130.59 956.66 2131.51 957.08 2132.55C957.5 2133.6 957.72 2134.78 958.04 2135.89C958.36 2137.01 958.68 2138.12 959 2139.24C959.33 2140.35 959.74 2141.41 959.97 2142.58C960.19 2143.74 960.23 2145 960.36 2146.22C960.49 2147.43 960.62 2148.65 960.76 2149.86C960.89 2151.07 961.08 2152.89 961.15 2153.5" fill="none" stroke="#5855ff" stroke-width="14.2" stroke-linejoin="round" stroke-linecap="round"/>
<g fill="#5855ff"><circle cx="230.6" cy="1954.2" r="7.6"/><circle cx="257.1" cy="1959.7" r="7.6"/><circle cx="282.6" cy="1964.7" r="7.6"/><circle cx="305.8" cy="1971.8" r="7.6"/><circle cx="327.8" cy="1977.4" r="7.6"/><circle cx="348.8" cy="1982.5" r="7.6"/><circle cx="368.8" cy="1988.3" r="7.6"/><circle cx="387.5" cy="1991.7" r="7.6"/><circle cx="406.3" cy="1993.9" r="7.6"/><circle cx="425.1" cy="1997.9" r="7.6"/><circle cx="443.9" cy="2003.1" r="7.6"/><circle cx="463.7" cy="2008.9" r="7.6"/><circle cx="482.5" cy="2014.8" r="7.6"/><circle cx="498.0" cy="2019.3" r="7.6"/><circle cx="512.3" cy="2022.5" r="7.6"/><circle cx="528.8" cy="2021.4" r="7.6"/><circle cx="544.2" cy="2024.3" r="7.6"/><circle cx="559.8" cy="2026.5" r="7.6"/><circle cx="575.2" cy="2029.1" r="7.6"/><circle cx="589.5" cy="2031.7" r="7.6"/><circle cx="604.6" cy="2034.5" r="7.6"/><circle cx="621.3" cy="2037.0" r="7.6"/><circle cx="635.4" cy="2039.4" r="7.6"/><circle cx="651.0" cy="2042.0" r="7.6"/><circle cx="665.3" cy="2045.9" r="7.6"/><circle cx="679.8" cy="2050.2" r="7.6"/><circle cx="693.1" cy="2054.8" r="7.6"/><circle cx="706.3" cy="2060.0" r="7.6"/><circle cx="719.5" cy="2066.1" r="7.6"/><circle cx="732.7" cy="2072.2" r="7.6"/><circle cx="745.8" cy="2078.2" r="7.6"/><circle cx="759.2" cy="2084.3" r="7.6"/><circle cx="772.4" cy="2089.2" r="7.6"/><circle cx="785.6" cy="2093.2" r="7.6"/><circle cx="799.6" cy="2095.1" r="7.6"/><circle cx="814.3" cy="2096.4" r="7.6"/><circle cx="828.4" cy="2095.1" r="7.6"/><circle cx="842.9" cy="2093.5" r="7.6"/><circle cx="856.3" cy="2091.5" r="7.6"/><circle cx="869.4" cy="2089.7" r="7.6"/><circle cx="883.1" cy="2090.3" r="7.6"/><circle cx="898.1" cy="2091.9" r="7.6"/><circle cx="913.0" cy="2094.9" r="7.6"/><circle cx="926.8" cy="2099.5" r="7.6"/><circle cx="937.8" cy="2105.9" r="7.6"/><circle cx="940.7" cy="2108.9" r="7.6"/><circle cx="943.6" cy="2112.0" r="7.6"/><circle cx="946.5" cy="2115.0" r="7.6"/><circle cx="948.5" cy="2117.9" r="7.6"/><circle cx="950.4" cy="2120.8" r="7.6"/><circle cx="952.4" cy="2123.7" r="7.6"/><circle cx="954.0" cy="2126.7" r="7.6"/><circle cx="955.5" cy="2129.6" r="7.6"/><circle cx="957.1" cy="2132.6" r="7.6"/><circle cx="958.0" cy="2135.9" r="7.6"/><circle cx="959.0" cy="2139.2" r="7.6"/><circle cx="960.0" cy="2142.6" r="7.6"/><circle cx="960.4" cy="2146.2" r="7.6"/><circle cx="960.8" cy="2149.9" r="7.6"/><circle cx="961.1" cy="2153.5" r="7.6"/></g>
<path d="M236.6 1952.2C241.03 1953.12 254.52 1955.93 263.2 1957.7C271.88 1959.47 280.57 1960.77 288.7 1962.8C296.83 1964.83 304.43 1967.78 312 1969.9C319.57 1972.02 326.9 1973.72 334.1 1975.5C341.3 1977.28 348.35 1978.77 355.2 1980.6C362.05 1982.43 368.73 1984.95 375.2 1986.5C381.67 1988.05 387.72 1988.97 394 1989.9C400.28 1990.83 406.62 1991.07 412.9 1992.1C419.18 1993.13 425.42 1994.55 431.7 1996.1C437.98 1997.65 444.13 1999.55 450.6 2001.4C457.07 2003.25 464.03 2005.25 470.5 2007.2C476.97 2009.15 483.67 2011.37 489.4 2013.1C495.13 2014.83 499.92 2016.3 504.9 2017.6C509.88 2018.9 514.13 2020.53 519.3 2020.9C524.47 2021.27 530.55 2019.5 535.9 2019.8C541.25 2020.1 546.22 2021.85 551.4 2022.7C556.58 2023.55 561.82 2024.08 567 2024.9C572.18 2025.72 577.52 2026.72 582.5 2027.6C587.48 2028.48 591.98 2029.3 596.9 2030.2C601.82 2031.1 606.68 2032.12 612 2033C617.32 2033.88 623.63 2034.67 628.8 2035.5C633.97 2036.33 638.02 2037.15 643 2038C647.98 2038.85 653.7 2039.52 658.7 2040.6C663.7 2041.68 668.18 2043.13 673 2044.5C677.82 2045.87 682.93 2047.3 687.6 2048.8C692.27 2050.3 696.57 2051.85 701 2053.5C705.43 2055.15 709.78 2056.82 714.2 2058.7C718.62 2060.58 723.07 2062.77 727.5 2064.8C731.93 2066.83 736.38 2068.87 740.8 2070.9C745.22 2072.93 749.57 2074.97 754 2077C758.43 2079.03 762.95 2081.27 767.4 2083.1C771.85 2084.93 776.27 2086.52 780.7 2088C785.13 2089.48 789.45 2091 794 2092C798.55 2093 803.2 2093.45 808 2094C812.8 2094.55 817.97 2095.3 822.8 2095.3C827.63 2095.3 832.2 2094.48 837 2094C841.8 2093.52 846.93 2092.98 851.6 2092.4C856.27 2091.82 860.57 2091.12 865 2090.5C869.43 2089.88 873.7 2088.9 878.2 2088.7C882.7 2088.5 887.18 2088.93 892 2089.3C896.82 2089.67 902.1 2090.12 907.1 2090.9C912.1 2091.68 917.2 2092.72 922 2094C926.8 2095.28 931.73 2096.77 935.9 2098.6C940.07 2100.43 944.66 2103.42 947 2105C949.34 2106.58 948.98 2107.04 949.97 2108.07C950.96 2109.09 951.94 2110.11 952.93 2111.13C953.92 2112.16 955.07 2113.2 955.9 2114.2C956.73 2115.2 957.26 2116.16 957.93 2117.13C958.61 2118.11 959.29 2119.09 959.97 2120.07C960.64 2121.04 961.39 2122.02 962 2123C962.61 2123.98 963.09 2124.98 963.63 2125.97C964.18 2126.96 964.72 2127.94 965.27 2128.93C965.81 2129.92 966.46 2130.84 966.9 2131.9C967.34 2132.96 967.59 2134.14 967.93 2135.27C968.28 2136.39 968.62 2137.51 968.97 2138.63C969.31 2139.76 969.75 2140.83 970 2142C970.25 2143.17 970.31 2144.44 970.47 2145.67C970.62 2146.89 970.78 2148.11 970.93 2149.33C971.09 2150.56 971.32 2152.39 971.4 2153" fill="none" stroke="#938df8" stroke-width="5.8" stroke-linejoin="round" stroke-linecap="round"/>
<path d="M780.7 2088C782.92 2088.67 789.45 2091 794 2092C798.55 2093 803.2 2093.45 808 2094C812.8 2094.55 817.97 2095.3 822.8 2095.3C827.63 2095.3 832.2 2094.48 837 2094C841.8 2093.52 846.93 2092.98 851.6 2092.4C856.27 2091.82 860.57 2091.12 865 2090.5C869.43 2089.88 873.7 2088.9 878.2 2088.7C882.7 2088.5 887.18 2088.93 892 2089.3C896.82 2089.67 902.1 2090.12 907.1 2090.9C912.1 2091.68 917.2 2092.72 922 2094C926.8 2095.28 931.73 2096.77 935.9 2098.6C940.07 2100.43 944.66 2103.42 947 2105C949.34 2106.58 948.98 2107.04 949.97 2108.07C950.96 2109.09 951.94 2110.11 952.93 2111.13C953.92 2112.16 955.07 2113.2 955.9 2114.2C956.73 2115.2 957.26 2116.16 957.93 2117.13C958.61 2118.11 959.29 2119.09 959.97 2120.07C960.64 2121.04 961.39 2122.02 962 2123C962.61 2123.98 963.09 2124.98 963.63 2125.97C964.18 2126.96 964.72 2127.94 965.27 2128.93C965.81 2129.92 966.46 2130.84 966.9 2131.9C967.34 2132.96 967.59 2134.14 967.93 2135.27C968.28 2136.39 968.62 2137.51 968.97 2138.63C969.31 2139.76 969.75 2140.83 970 2142C970.25 2143.17 970.31 2144.44 970.47 2145.67C970.62 2146.89 970.78 2148.11 970.93 2149.33C971.09 2150.56 971.32 2152.39 971.4 2153" fill="none" stroke="#938df8" stroke-width="16.0" stroke-linejoin="round" stroke-linecap="round"/>
<g fill="#938df8"><circle cx="236.6" cy="1952.2" r="8.5"/><circle cx="263.2" cy="1957.7" r="8.5"/><circle cx="288.7" cy="1962.8" r="8.5"/><circle cx="312.0" cy="1969.9" r="8.5"/><circle cx="334.1" cy="1975.5" r="8.5"/><circle cx="355.2" cy="1980.6" r="8.5"/><circle cx="375.2" cy="1986.5" r="8.5"/><circle cx="394.0" cy="1989.9" r="8.5"/><circle cx="412.9" cy="1992.1" r="8.5"/><circle cx="431.7" cy="1996.1" r="8.5"/><circle cx="450.6" cy="2001.4" r="8.5"/><circle cx="470.5" cy="2007.2" r="8.5"/><circle cx="489.4" cy="2013.1" r="8.5"/><circle cx="504.9" cy="2017.6" r="8.5"/><circle cx="519.3" cy="2020.9" r="8.5"/><circle cx="535.9" cy="2019.8" r="8.5"/><circle cx="551.4" cy="2022.7" r="8.5"/><circle cx="567.0" cy="2024.9" r="8.5"/><circle cx="582.5" cy="2027.6" r="8.5"/><circle cx="596.9" cy="2030.2" r="8.5"/><circle cx="612.0" cy="2033.0" r="8.5"/><circle cx="628.8" cy="2035.5" r="8.5"/><circle cx="643.0" cy="2038.0" r="8.5"/><circle cx="658.7" cy="2040.6" r="8.5"/><circle cx="673.0" cy="2044.5" r="8.5"/><circle cx="687.6" cy="2048.8" r="8.5"/><circle cx="701.0" cy="2053.5" r="8.5"/><circle cx="714.2" cy="2058.7" r="8.5"/><circle cx="727.5" cy="2064.8" r="8.5"/><circle cx="740.8" cy="2070.9" r="8.5"/><circle cx="754.0" cy="2077.0" r="8.5"/><circle cx="767.4" cy="2083.1" r="8.5"/><circle cx="780.7" cy="2088.0" r="8.5"/><circle cx="794.0" cy="2092.0" r="8.5"/><circle cx="808.0" cy="2094.0" r="8.5"/><circle cx="822.8" cy="2095.3" r="8.5"/><circle cx="837.0" cy="2094.0" r="8.5"/><circle cx="851.6" cy="2092.4" r="8.5"/><circle cx="865.0" cy="2090.5" r="8.5"/><circle cx="878.2" cy="2088.7" r="8.5"/><circle cx="892.0" cy="2089.3" r="8.5"/><circle cx="907.1" cy="2090.9" r="8.5"/><circle cx="922.0" cy="2094.0" r="8.5"/><circle cx="935.9" cy="2098.6" r="8.5"/><circle cx="947.0" cy="2105.0" r="8.5"/><circle cx="950.0" cy="2108.1" r="8.5"/><circle cx="952.9" cy="2111.1" r="8.5"/><circle cx="955.9" cy="2114.2" r="8.5"/><circle cx="957.9" cy="2117.1" r="8.5"/><circle cx="960.0" cy="2120.1" r="8.5"/><circle cx="962.0" cy="2123.0" r="8.5"/><circle cx="963.6" cy="2126.0" r="8.5"/><circle cx="965.3" cy="2128.9" r="8.5"/><circle cx="966.9" cy="2131.9" r="8.5"/><circle cx="967.9" cy="2135.3" r="8.5"/><circle cx="969.0" cy="2138.6" r="8.5"/><circle cx="970.0" cy="2142.0" r="8.5"/><circle cx="970.5" cy="2145.7" r="8.5"/><circle cx="970.9" cy="2149.3" r="8.5"/><circle cx="971.4" cy="2153.0" r="8.5"/></g>
<path d="M236.6 1952.2C241.03 1953.12 254.52 1955.93 263.2 1957.7C271.88 1959.47 280.57 1960.77 288.7 1962.8C296.83 1964.83 304.43 1967.78 312 1969.9C319.57 1972.02 326.9 1973.72 334.1 1975.5C341.3 1977.28 348.35 1978.77 355.2 1980.6C362.05 1982.43 368.73 1984.95 375.2 1986.5C381.67 1988.05 387.72 1988.97 394 1989.9C400.28 1990.83 406.62 1991.07 412.9 1992.1C419.18 1993.13 425.42 1994.55 431.7 1996.1C437.98 1997.65 444.13 1999.55 450.6 2001.4C457.07 2003.25 464.03 2005.25 470.5 2007.2C476.97 2009.15 483.67 2011.37 489.4 2013.1C495.13 2014.83 499.92 2016.3 504.9 2017.6C509.88 2018.9 514.13 2020.53 519.3 2020.9C524.47 2021.27 530.55 2019.5 535.9 2019.8C541.25 2020.1 546.22 2021.85 551.4 2022.7C556.58 2023.55 561.82 2024.08 567 2024.9C572.18 2025.72 577.52 2026.72 582.5 2027.6C587.48 2028.48 591.98 2029.3 596.9 2030.2C601.82 2031.1 606.68 2032.12 612 2033C617.32 2033.88 623.63 2034.67 628.8 2035.5C633.97 2036.33 638.02 2037.15 643 2038C647.98 2038.85 653.7 2039.52 658.7 2040.6C663.7 2041.68 668.18 2043.13 673 2044.5C677.82 2045.87 682.93 2047.3 687.6 2048.8C692.27 2050.3 696.57 2051.85 701 2053.5C705.43 2055.15 709.78 2056.82 714.2 2058.7C718.62 2060.58 723.07 2062.77 727.5 2064.8C731.93 2066.83 736.38 2068.87 740.8 2070.9C745.22 2072.93 749.57 2074.97 754 2077C758.43 2079.03 762.95 2081.27 767.4 2083.1C771.85 2084.93 776.27 2086.52 780.7 2088C785.13 2089.48 789.45 2091 794 2092C798.55 2093 803.2 2093.45 808 2094C812.8 2094.55 817.97 2095.3 822.8 2095.3C827.63 2095.3 832.2 2094.48 837 2094C841.8 2093.52 846.93 2092.98 851.6 2092.4C856.27 2091.82 860.57 2091.12 865 2090.5C869.43 2089.88 873.7 2088.9 878.2 2088.7C882.7 2088.5 887.18 2088.93 892 2089.3C896.82 2089.67 902.1 2090.12 907.1 2090.9C912.1 2091.68 917.2 2092.72 922 2094C926.8 2095.28 931.73 2096.77 935.9 2098.6C940.07 2100.43 944.66 2103.42 947 2105C949.34 2106.58 948.98 2107.04 949.97 2108.07C950.96 2109.09 951.94 2110.11 952.93 2111.13C953.92 2112.16 955.07 2113.2 955.9 2114.2C956.73 2115.2 957.26 2116.16 957.93 2117.13C958.61 2118.11 959.29 2119.09 959.97 2120.07C960.64 2121.04 961.39 2122.02 962 2123C962.61 2123.98 963.09 2124.98 963.63 2125.97C964.18 2126.96 964.72 2127.94 965.27 2128.93C965.81 2129.92 966.46 2130.84 966.9 2131.9C967.34 2132.96 967.59 2134.14 967.93 2135.27C968.28 2136.39 968.62 2137.51 968.97 2138.63C969.31 2139.76 969.75 2140.83 970 2142C970.25 2143.17 970.31 2144.44 970.47 2145.67C970.62 2146.89 970.78 2148.11 970.93 2149.33C971.09 2150.56 971.32 2152.39 971.4 2153" fill="none" stroke="#aea8fe" stroke-width="4" stroke-linejoin="round" stroke-linecap="round"/>
<path d="M780.7 2088C782.92 2088.67 789.45 2091 794 2092C798.55 2093 803.2 2093.45 808 2094C812.8 2094.55 817.97 2095.3 822.8 2095.3C827.63 2095.3 832.2 2094.48 837 2094C841.8 2093.52 846.93 2092.98 851.6 2092.4C856.27 2091.82 860.57 2091.12 865 2090.5C869.43 2089.88 873.7 2088.9 878.2 2088.7C882.7 2088.5 887.18 2088.93 892 2089.3C896.82 2089.67 902.1 2090.12 907.1 2090.9C912.1 2091.68 917.2 2092.72 922 2094C926.8 2095.28 931.73 2096.77 935.9 2098.6C940.07 2100.43 944.66 2103.42 947 2105C949.34 2106.58 948.98 2107.04 949.97 2108.07C950.96 2109.09 951.94 2110.11 952.93 2111.13C953.92 2112.16 955.07 2113.2 955.9 2114.2C956.73 2115.2 957.26 2116.16 957.93 2117.13C958.61 2118.11 959.29 2119.09 959.97 2120.07C960.64 2121.04 961.39 2122.02 962 2123C962.61 2123.98 963.09 2124.98 963.63 2125.97C964.18 2126.96 964.72 2127.94 965.27 2128.93C965.81 2129.92 966.46 2130.84 966.9 2131.9C967.34 2132.96 967.59 2134.14 967.93 2135.27C968.28 2136.39 968.62 2137.51 968.97 2138.63C969.31 2139.76 969.75 2140.83 970 2142C970.25 2143.17 970.31 2144.44 970.47 2145.67C970.62 2146.89 970.78 2148.11 970.93 2149.33C971.09 2150.56 971.32 2152.39 971.4 2153" fill="none" stroke="#aea8fe" stroke-width="14.2" stroke-linejoin="round" stroke-linecap="round"/>
<g fill="#aea8fe"><circle cx="236.6" cy="1952.2" r="7.6"/><circle cx="263.2" cy="1957.7" r="7.6"/><circle cx="288.7" cy="1962.8" r="7.6"/><circle cx="312.0" cy="1969.9" r="7.6"/><circle cx="334.1" cy="1975.5" r="7.6"/><circle cx="355.2" cy="1980.6" r="7.6"/><circle cx="375.2" cy="1986.5" r="7.6"/><circle cx="394.0" cy="1989.9" r="7.6"/><circle cx="412.9" cy="1992.1" r="7.6"/><circle cx="431.7" cy="1996.1" r="7.6"/><circle cx="450.6" cy="2001.4" r="7.6"/><circle cx="470.5" cy="2007.2" r="7.6"/><circle cx="489.4" cy="2013.1" r="7.6"/><circle cx="504.9" cy="2017.6" r="7.6"/><circle cx="519.3" cy="2020.9" r="7.6"/><circle cx="535.9" cy="2019.8" r="7.6"/><circle cx="551.4" cy="2022.7" r="7.6"/><circle cx="567.0" cy="2024.9" r="7.6"/><circle cx="582.5" cy="2027.6" r="7.6"/><circle cx="596.9" cy="2030.2" r="7.6"/><circle cx="612.0" cy="2033.0" r="7.6"/><circle cx="628.8" cy="2035.5" r="7.6"/><circle cx="643.0" cy="2038.0" r="7.6"/><circle cx="658.7" cy="2040.6" r="7.6"/><circle cx="673.0" cy="2044.5" r="7.6"/><circle cx="687.6" cy="2048.8" r="7.6"/><circle cx="701.0" cy="2053.5" r="7.6"/><circle cx="714.2" cy="2058.7" r="7.6"/><circle cx="727.5" cy="2064.8" r="7.6"/><circle cx="740.8" cy="2070.9" r="7.6"/><circle cx="754.0" cy="2077.0" r="7.6"/><circle cx="767.4" cy="2083.1" r="7.6"/><circle cx="780.7" cy="2088.0" r="7.6"/><circle cx="794.0" cy="2092.0" r="7.6"/><circle cx="808.0" cy="2094.0" r="7.6"/><circle cx="822.8" cy="2095.3" r="7.6"/><circle cx="837.0" cy="2094.0" r="7.6"/><circle cx="851.6" cy="2092.4" r="7.6"/><circle cx="865.0" cy="2090.5" r="7.6"/><circle cx="878.2" cy="2088.7" r="7.6"/><circle cx="892.0" cy="2089.3" r="7.6"/><circle cx="907.1" cy="2090.9" r="7.6"/><circle cx="922.0" cy="2094.0" r="7.6"/><circle cx="935.9" cy="2098.6" r="7.6"/><circle cx="947.0" cy="2105.0" r="7.6"/><circle cx="950.0" cy="2108.1" r="7.6"/><circle cx="952.9" cy="2111.1" r="7.6"/><circle cx="955.9" cy="2114.2" r="7.6"/><circle cx="957.9" cy="2117.1" r="7.6"/><circle cx="960.0" cy="2120.1" r="7.6"/><circle cx="962.0" cy="2123.0" r="7.6"/><circle cx="963.6" cy="2126.0" r="7.6"/><circle cx="965.3" cy="2128.9" r="7.6"/><circle cx="966.9" cy="2131.9" r="7.6"/><circle cx="967.9" cy="2135.3" r="7.6"/><circle cx="969.0" cy="2138.6" r="7.6"/><circle cx="970.0" cy="2142.0" r="7.6"/><circle cx="970.5" cy="2145.7" r="7.6"/><circle cx="970.9" cy="2149.3" r="7.6"/><circle cx="971.4" cy="2153.0" r="7.6"/></g>
<g fill="#8b86f6"><circle cx="236.6" cy="1952.2" r="1.1"/><circle cx="263.2" cy="1957.7" r="1.1"/><circle cx="288.7" cy="1962.8" r="1.1"/><circle cx="312.0" cy="1969.9" r="1.1"/><circle cx="334.1" cy="1975.5" r="1.1"/><circle cx="355.2" cy="1980.6" r="1.1"/><circle cx="375.2" cy="1986.5" r="1.1"/><circle cx="394.0" cy="1989.9" r="1.1"/><circle cx="412.9" cy="1992.1" r="1.1"/><circle cx="431.7" cy="1996.1" r="1.1"/><circle cx="450.6" cy="2001.4" r="1.1"/><circle cx="470.5" cy="2007.2" r="1.1"/><circle cx="489.4" cy="2013.1" r="1.1"/><circle cx="504.9" cy="2017.6" r="1.1"/><circle cx="519.3" cy="2020.9" r="1.1"/><circle cx="535.9" cy="2019.8" r="1.1"/><circle cx="551.4" cy="2022.7" r="1.1"/><circle cx="567.0" cy="2024.9" r="1.1"/><circle cx="582.5" cy="2027.6" r="1.1"/><circle cx="596.9" cy="2030.2" r="1.1"/><circle cx="612.0" cy="2033.0" r="1.1"/><circle cx="628.8" cy="2035.5" r="1.1"/><circle cx="643.0" cy="2038.0" r="1.1"/><circle cx="658.7" cy="2040.6" r="1.1"/><circle cx="673.0" cy="2044.5" r="1.1"/><circle cx="687.6" cy="2048.8" r="1.1"/><circle cx="701.0" cy="2053.5" r="1.1"/><circle cx="714.2" cy="2058.7" r="1.1"/><circle cx="727.5" cy="2064.8" r="1.1"/><circle cx="740.8" cy="2070.9" r="1.1"/><circle cx="754.0" cy="2077.0" r="1.1"/><circle cx="767.4" cy="2083.1" r="1.1"/><circle cx="780.7" cy="2088.0" r="1.1"/><circle cx="794.0" cy="2092.0" r="1.1"/><circle cx="808.0" cy="2094.0" r="1.1"/><circle cx="822.8" cy="2095.3" r="1.1"/><circle cx="837.0" cy="2094.0" r="1.1"/><circle cx="851.6" cy="2092.4" r="1.1"/><circle cx="865.0" cy="2090.5" r="1.1"/><circle cx="878.2" cy="2088.7" r="1.1"/><circle cx="892.0" cy="2089.3" r="1.1"/><circle cx="907.1" cy="2090.9" r="1.1"/><circle cx="922.0" cy="2094.0" r="1.1"/><circle cx="935.9" cy="2098.6" r="1.1"/><circle cx="947.0" cy="2105.0" r="1.1"/><circle cx="950.0" cy="2108.1" r="1.1"/><circle cx="952.9" cy="2111.1" r="1.1"/><circle cx="955.9" cy="2114.2" r="1.1"/><circle cx="957.9" cy="2117.1" r="1.1"/><circle cx="960.0" cy="2120.1" r="1.1"/><circle cx="962.0" cy="2123.0" r="1.1"/><circle cx="963.6" cy="2126.0" r="1.1"/><circle cx="965.3" cy="2128.9" r="1.1"/><circle cx="966.9" cy="2131.9" r="1.1"/><circle cx="967.9" cy="2135.3" r="1.1"/><circle cx="969.0" cy="2138.6" r="1.1"/><circle cx="970.0" cy="2142.0" r="1.1"/><circle cx="970.5" cy="2145.7" r="1.1"/><circle cx="970.9" cy="2149.3" r="1.1"/><circle cx="971.4" cy="2153.0" r="1.1"/></g>
</g>
<rect x="1775.4" y="98.3" width="13.82" height="39.7" fill="#000070"/>
<rect x="1788.72" y="98.3" width="13.82" height="39.7" fill="#000085"/>
<rect x="1802.04" y="98.3" width="13.82" height="39.7" fill="#000099"/>
<rect x="1815.36" y="98.3" width="13.82" height="39.7" fill="#0000ad"/>
<rect x="1828.69" y="98.3" width="13.82" height="39.7" fill="#0000c2"/>
<rect x="1842.01" y="98.3" width="13.82" height="39.7" fill="#0000d6"/>
<rect x="1855.33" y="98.3" width="13.82" height="39.7" fill="#0000eb"/>
<rect x="1868.65" y="98.3" width="13.82" height="39.7" fill="#0000ff"/>
<rect x="1881.97" y="98.3" width="13.82" height="39.7" fill="#1d1cff"/>
<rect x="1895.29" y="98.3" width="13.82" height="39.7" fill="#3937ff"/>
<rect x="1908.61" y="98.3" width="13.82" height="39.7" fill="#5653ff"/>
<rect x="1921.94" y="98.3" width="13.82" height="39.7" fill="#736fff"/>
<rect x="1935.26" y="98.3" width="13.82" height="39.7" fill="#8f8aff"/>
<rect x="1948.58" y="98.3" width="13.82" height="39.7" fill="#aca6ff"/>
<rect x="1773.9" y="96.8" width="189.5" height="42.7" fill="none" stroke="#000" stroke-width="3"/>
<text x="1742" y="88.9" font-size="45.5" text-anchor="start" font-weight="normal" fill="#000" >0 h</text>
<text x="1912.8" y="91.5" font-size="45.5" text-anchor="start" font-weight="normal" fill="#000" >10 h</text>
<rect x="1744.8" y="157.9" width="259.7" height="85.5" fill="#fff" stroke="#000" stroke-width="5.6"/>
<text x="1874.95" y="218.4" font-size="44.5" text-anchor="middle" font-weight="normal" fill="#000" >Sample A</text>
<rect x="1776.6" y="690.6" width="13.89" height="39.2" fill="#000070"/>
<rect x="1789.99" y="690.6" width="13.89" height="39.2" fill="#000085"/>
<rect x="1803.37" y="690.6" width="13.89" height="39.2" fill="#000099"/>
<rect x="1816.76" y="690.6" width="13.89" height="39.2" fill="#0000ad"/>
<rect x="1830.14" y="690.6" width="13.89" height="39.2" fill="#0000c2"/>
<rect x="1843.53" y="690.6" width="13.89" height="39.2" fill="#0000d6"/>
<rect x="1856.91" y="690.6" width="13.89" height="39.2" fill="#0000eb"/>
<rect x="1870.3" y="690.6" width="13.89" height="39.2" fill="#0000ff"/>
<rect x="1883.69" y="690.6" width="13.89" height="39.2" fill="#1d1cff"/>
<rect x="1897.07" y="690.6" width="13.89" height="39.2" fill="#3937ff"/>
<rect x="1910.46" y="690.6" width="13.89" height="39.2" fill="#5653ff"/>
<rect x="1923.84" y="690.6" width="13.89" height="39.2" fill="#736fff"/>
<rect x="1937.23" y="690.6" width="13.89" height="39.2" fill="#8f8aff"/>
<rect x="1950.61" y="690.6" width="13.89" height="39.2" fill="#aca6ff"/>
<rect x="1775.1" y="689.1" width="190.4" height="42.2" fill="none" stroke="#000" stroke-width="3"/>
<text x="1743.8" y="682" font-size="45.5" text-anchor="start" font-weight="normal" fill="#000" >0 h</text>
<text x="1914.5" y="683.8" font-size="45.5" text-anchor="start" font-weight="normal" fill="#000" >10 h</text>
<rect x="1746.9" y="748.5" width="260.4" height="87.2" fill="#fff" stroke="#000" stroke-width="5.6"/>
<text x="1875.25" y="809.8" font-size="44.5" text-anchor="middle" font-weight="normal" fill="#000" >Sample B</text>
<rect x="1783.1" y="1275.1" width="13.82" height="39.9" fill="#000070"/>
<rect x="1796.42" y="1275.1" width="13.82" height="39.9" fill="#000085"/>
<rect x="1809.74" y="1275.1" width="13.82" height="39.9" fill="#000099"/>
<rect x="1823.06" y="1275.1" width="13.82" height="39.9" fill="#0000ad"/>
<rect x="1836.39" y="1275.1" width="13.82" height="39.9" fill="#0000c2"/>
<rect x="1849.71" y="1275.1" width="13.82" height="39.9" fill="#0000d6"/>
<rect x="1863.03" y="1275.1" width="13.82" height="39.9" fill="#0000eb"/>
<rect x="1876.35" y="1275.1" width="13.82" height="39.9" fill="#0000ff"/>
<rect x="1889.67" y="1275.1" width="13.82" height="39.9" fill="#1d1cff"/>
<rect x="1902.99" y="1275.1" width="13.82" height="39.9" fill="#3937ff"/>
<rect x="1916.31" y="1275.1" width="13.82" height="39.9" fill="#5653ff"/>
<rect x="1929.64" y="1275.1" width="13.82" height="39.9" fill="#736fff"/>
<rect x="1942.96" y="1275.1" width="13.82" height="39.9" fill="#8f8aff"/>
<rect x="1956.28" y="1275.1" width="13.82" height="39.9" fill="#aca6ff"/>
<rect x="1781.6" y="1273.6" width="189.5" height="42.9" fill="none" stroke="#000" stroke-width="3"/>
<text x="1748.9" y="1266" font-size="45.5" text-anchor="start" font-weight="normal" fill="#000" >0 h</text>
<text x="1919.7" y="1268.6" font-size="45.5" text-anchor="start" font-weight="normal" fill="#000" >10 h</text>
<rect x="1743.4" y="1336.8" width="264.2" height="86.3" fill="#fff" stroke="#000" stroke-width="5.6"/>
<text x="1874.2" y="1396.3" font-size="44.5" text-anchor="middle" font-weight="normal" fill="#000" >Sample C</text>
<rect x="1787.6" y="1873.4" width="13.79" height="37.8" fill="#000070"/>
<rect x="1800.89" y="1873.4" width="13.79" height="37.8" fill="#000085"/>
<rect x="1814.17" y="1873.4" width="13.79" height="37.8" fill="#000099"/>
<rect x="1827.46" y="1873.4" width="13.79" height="37.8" fill="#0000ad"/>
<rect x="1840.74" y="1873.4" width="13.79" height="37.8" fill="#0000c2"/>
<rect x="1854.03" y="1873.4" width="13.79" height="37.8" fill="#0000d6"/>
<rect x="1867.31" y="1873.4" width="13.79" height="37.8" fill="#0000eb"/>
<rect x="1880.6" y="1873.4" width="13.79" height="37.8" fill="#0000ff"/>
<rect x="1893.89" y="1873.4" width="13.79" height="37.8" fill="#1d1cff"/>
<rect x="1907.17" y="1873.4" width="13.79" height="37.8" fill="#3937ff"/>
<rect x="1920.46" y="1873.4" width="13.79" height="37.8" fill="#5653ff"/>
<rect x="1933.74" y="1873.4" width="13.79" height="37.8" fill="#736fff"/>
<rect x="1947.03" y="1873.4" width="13.79" height="37.8" fill="#8f8aff"/>
<rect x="1960.31" y="1873.4" width="13.79" height="37.8" fill="#aca6ff"/>
<rect x="1786.1" y="1871.9" width="189" height="40.8" fill="none" stroke="#000" stroke-width="3"/>
<text x="1753.8" y="1863.5" font-size="45.5" text-anchor="start" font-weight="normal" fill="#000" >0 h</text>
<text x="1924.5" y="1866" font-size="45.5" text-anchor="start" font-weight="normal" fill="#000" >10 h</text>
<rect x="1744.8" y="1936.3" width="261.7" height="85.9" fill="#fff" stroke="#000" stroke-width="5.6"/>
<text x="1874.55" y="1996.3" font-size="44.5" text-anchor="middle" font-weight="normal" fill="#000" >Sample D</text>
<text x="1370.3" y="97.5" font-size="55.5" fill="#000">LF<tspan font-size="37" dx="1" dy="12.5">1</tspan></text>
<text x="1448.2" y="310" font-size="55.5" fill="#000">LF<tspan font-size="37" dx="1" dy="12.5">2</tspan></text>
<text x="1221" y="839.5" font-size="55.5" fill="#000">LF<tspan font-size="37" dx="1" dy="12.5">1</tspan></text>
<text x="1421" y="928.5" font-size="55.5" fill="#000">LF<tspan font-size="37" dx="1" dy="12.5">2</tspan></text>
<text x="1318.5" y="1431.7" font-size="55.5" fill="#000">LF<tspan font-size="37" dx="1" dy="12.5">1</tspan></text>
<text x="1474.3" y="2090.4" font-size="55.5" fill="#000">LF<tspan font-size="37" dx="1" dy="12.5">1</tspan></text>
<text x="1642" y="2139" font-size="55.5" fill="#000">LF<tspan font-size="37" dx="1" dy="12.5">2</tspan></text>
</svg></body></html>
